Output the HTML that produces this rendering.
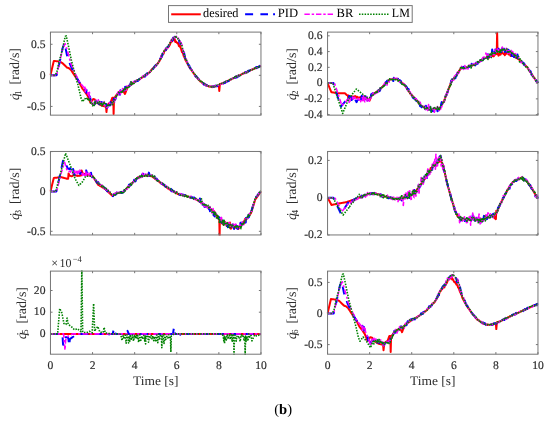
<!DOCTYPE html>
<html><head><meta charset="utf-8"><title>Joint velocities</title><style>html,body{margin:0;padding:0;background:#fff;width:550px;height:424px;overflow:hidden}svg{display:block;filter:blur(0.35px)}text{text-rendering:geometricPrecision}</style></head><body>
<svg width="550" height="424" viewBox="0 0 550 424">
<rect x="0" y="0" width="550" height="424" fill="#ffffff"/>
<defs>
<clipPath id="clip_q1"><rect x="49.46" y="31.60" width="212.50" height="84.05"/></clipPath>
<clipPath id="clip_q2"><rect x="326.56" y="31.60" width="212.40" height="84.05"/></clipPath>
<clipPath id="clip_q3"><rect x="49.46" y="150.96" width="212.50" height="84.49"/></clipPath>
<clipPath id="clip_q4"><rect x="326.56" y="150.96" width="212.40" height="84.49"/></clipPath>
<clipPath id="clip_q5"><rect x="49.46" y="270.60" width="212.50" height="84.10"/></clipPath>
<clipPath id="clip_q6"><rect x="326.56" y="270.60" width="212.40" height="84.10"/></clipPath>
</defs>
<path d="M50.46,75.35 L50.99,73.10 L51.51,70.84 L52.04,68.59 L52.56,66.34 L53.09,64.09 L53.62,61.83 L53.83,60.93 L54.14,60.96 L54.67,61.02 L55.20,61.07 L55.72,61.13 L56.25,61.18 L56.77,61.24 L57.30,61.29 L57.41,61.30 L57.83,61.39 L58.35,61.50 L58.88,61.61 L59.41,61.73 L59.93,61.84 L60.35,61.93 L60.46,61.98 L60.98,62.26 L61.51,62.53 L62.04,62.81 L62.25,62.92 L62.56,63.23 L63.09,63.74 L63.62,64.26 L64.14,64.78 L64.67,65.29 L65.19,65.81 L65.72,66.32 L66.25,66.84 L66.77,67.35 L66.88,67.46 L67.30,67.62 L67.83,67.81 L68.35,68.01 L68.88,68.21 L69.19,68.33 L69.41,68.52 L69.93,69.00 L70.46,69.49 L70.98,69.97 L71.09,70.07 L71.51,70.72 L72.04,71.53 L72.56,72.34 L73.09,73.15 L73.61,73.97 L74.14,74.78 L74.67,75.59 L75.19,76.40 L75.72,77.21 L75.72,77.21 L76.25,77.94 L76.77,78.66 L77.30,79.39 L77.83,80.11 L78.35,80.84 L78.88,81.56 L79.40,82.63 L79.93,83.70 L80.46,84.77 L80.98,85.84 L81.51,86.91 L82.03,87.97 L82.25,88.40 L82.56,88.80 L83.09,89.45 L83.61,90.11 L84.14,90.77 L84.67,91.43 L84.98,91.82 L85.19,92.13 L85.72,92.91 L86.25,93.68 L86.77,94.46 L87.30,95.24 L87.72,95.86 L87.82,96.12 L88.35,97.44 L88.88,98.75 L89.40,100.07 L89.93,101.38 L90.45,102.70 L90.45,102.70 L90.98,101.98 L91.51,101.26 L92.03,100.54 L92.56,99.83 L93.09,99.11 L93.19,98.97 L93.61,99.11 L94.14,99.28 L94.66,99.45 L95.09,99.59 L95.19,99.78 L95.72,100.75 L96.24,101.72 L96.77,102.70 L97.30,103.01 L97.82,103.33 L98.35,103.65 L98.88,103.97 L99.40,104.29 L99.93,104.60 L100.45,104.92 L100.98,105.24 L101.40,105.49 L101.51,105.52 L102.03,105.66 L102.56,105.79 L103.08,105.93 L103.61,106.07 L104.14,106.21 L104.66,106.34 L104.98,106.42 L105.19,106.42 L105.72,106.42 L106.03,106.42 L106.24,109.22 L106.45,112.02 L106.77,109.22 L107.08,106.42 L107.29,105.80 L107.72,104.56 L107.82,104.49 L108.35,104.13 L108.87,103.77 L109.40,103.41 L109.93,103.05 L110.45,102.70 L110.98,101.31 L111.50,99.93 L112.03,98.55 L112.35,97.72 L112.56,97.72 L113.08,97.72 L113.29,97.72 L113.61,113.88 L114.03,98.35 L114.14,98.21 L114.66,97.52 L115.19,96.83 L115.72,96.14 L115.93,95.86 L116.24,95.43 L116.77,94.71 L117.29,93.99 L117.82,93.28 L118.35,92.56 L118.66,92.13 L118.87,92.07 L119.40,91.93 L119.93,91.79 L120.45,91.65 L120.98,91.51 L121.50,91.37 L122.03,91.23 L122.56,91.09 L123.08,90.94 L123.29,90.89 L123.61,91.47 L124.13,92.44 L124.66,93.41 L124.98,93.99 L125.19,93.45 L125.71,92.07 L126.24,90.70 L126.77,89.32 L127.29,87.95 L127.71,86.85 L127.82,86.77 L128.34,86.41 L128.87,86.04 L129.40,85.67 L129.92,85.31 L130.45,84.94 L130.98,84.57 L131.50,84.20 L132.03,83.84 L132.34,83.62 L132.56,83.45 L133.08,83.04 L133.61,82.63 L134.13,82.22 L134.66,81.81 L135.19,81.54 L135.71,81.27 L136.24,80.99 L136.76,80.72 L137.29,80.44 L137.82,80.17 L138.34,79.90 L138.87,79.62 L139.08,79.51 L139.40,79.31 L139.92,78.96 L140.45,78.62 L140.97,78.28 L141.50,77.93 L142.03,77.59 L142.55,77.25 L143.08,76.90 L143.61,76.53 L144.13,76.15 L144.66,75.77 L145.19,75.40 L145.71,75.02 L146.24,74.64 L146.76,74.27 L147.29,73.89 L147.82,73.51 L148.34,73.14 L148.87,72.76 L149.39,72.38 L149.92,72.01 L150.03,71.93 L150.45,71.35 L150.97,70.61 L151.50,69.88 L151.50,69.88 L152.03,69.35 L152.55,68.82 L153.08,68.30 L153.61,67.77 L154.13,67.24 L154.66,66.71 L155.18,66.18 L155.71,65.65 L156.24,65.13 L156.76,64.60 L157.29,64.07 L157.81,63.54 L157.81,63.54 L158.34,62.65 L158.87,61.77 L159.39,60.88 L159.92,59.99 L160.45,59.10 L160.76,58.57 L160.97,58.14 L161.50,57.07 L162.03,55.79 L162.55,54.43 L163.08,53.66 L163.60,53.61 L164.13,51.73 L164.66,50.58 L165.18,50.27 L165.71,50.29 L166.23,49.00 L166.76,48.55 L167.29,48.00 L167.81,47.57 L168.34,46.66 L168.55,46.76 L168.87,46.65 L169.39,45.33 L169.92,44.57 L170.44,42.95 L170.97,42.34 L171.29,41.79 L171.50,41.72 L172.02,41.40 L172.55,40.46 L173.08,39.67 L173.39,39.30 L173.60,39.58 L174.13,38.86 L174.65,39.30 L175.18,41.87 L175.29,40.24 L175.71,42.00 L176.23,41.68 L176.76,42.58 L177.29,42.93 L177.81,43.67 L178.34,43.23 L178.87,45.98 L179.39,46.27 L179.92,45.50 L180.13,47.07 L180.44,47.37 L180.97,48.52 L181.50,50.42 L182.02,52.29 L182.55,52.33 L183.07,53.60 L183.07,53.53 L183.60,55.77 L184.13,56.85 L184.65,57.88 L185.18,59.25 L185.39,59.81 L185.71,60.40 L186.23,61.37 L186.76,62.34 L187.28,63.31 L187.81,64.28 L188.34,65.25 L188.86,66.22 L189.39,67.19 L189.60,67.58 L189.92,68.03 L190.44,68.78 L190.97,69.53 L191.50,70.27 L192.02,71.02 L192.55,71.77 L193.07,72.52 L193.60,73.27 L194.13,74.01 L194.65,74.76 L195.18,75.51 L195.28,75.66 L195.70,76.14 L196.23,76.74 L196.76,77.34 L197.28,77.94 L197.81,78.54 L198.34,79.38 L198.86,79.77 L199.39,80.32 L199.91,80.94 L199.91,80.93 L200.44,81.48 L200.97,81.62 L201.49,81.96 L202.02,82.51 L202.55,83.20 L203.07,83.23 L203.49,83.74 L203.60,83.92 L204.12,83.85 L204.65,84.60 L205.18,84.38 L205.70,84.88 L206.23,85.46 L206.76,85.49 L207.28,85.67 L207.81,85.89 L208.33,86.23 L208.86,86.54 L209.39,86.64 L209.91,86.39 L210.44,86.62 L210.97,86.52 L211.49,86.46 L212.02,87.13 L212.54,86.73 L212.97,86.85 L213.07,86.52 L213.60,86.76 L214.12,86.75 L214.65,86.23 L215.18,86.22 L215.70,85.92 L216.23,86.10 L216.75,86.24 L217.28,85.77 L217.81,85.60 L218.33,85.72 L218.86,85.60 L219.28,90.89 L219.39,89.75 L219.91,84.05 L220.44,83.90 L220.96,83.76 L221.49,83.61 L222.02,83.46 L222.54,83.32 L223.07,83.17 L223.60,83.02 L223.70,82.99 L224.12,82.78 L224.65,82.52 L225.17,82.26 L225.70,81.99 L226.23,81.73 L226.75,81.47 L227.28,81.20 L227.81,80.94 L228.33,80.67 L228.86,80.41 L229.38,80.15 L229.91,79.88 L230.44,79.62 L230.96,79.36 L231.49,79.09 L232.02,78.83 L232.54,78.57 L233.07,78.30 L233.59,78.04 L234.12,77.78 L234.65,77.51 L235.17,77.25 L235.49,77.09 L235.70,77.00 L236.23,76.76 L236.75,76.52 L237.28,76.29 L237.80,76.05 L238.33,75.82 L238.86,75.58 L239.38,75.35 L239.91,75.11 L240.44,74.87 L240.96,74.64 L241.49,74.40 L242.01,74.17 L242.54,73.93 L243.07,73.69 L243.59,73.46 L244.12,73.22 L244.65,72.99 L245.17,72.75 L245.70,72.51 L246.22,72.28 L246.75,72.04 L247.28,71.81 L247.80,71.57 L248.33,71.34 L248.86,71.10 L249.38,70.86 L249.91,70.63 L250.43,70.39 L250.96,70.16 L251.49,69.92 L252.01,69.68 L252.54,69.45 L253.07,69.21 L253.59,68.98 L254.12,68.74 L254.65,68.51 L255.17,68.27 L255.70,68.03 L256.22,67.80 L256.75,67.56 L257.28,67.33 L257.80,67.09 L258.33,66.85 L258.85,66.62 L259.07,66.52 L259.38,66.42 L259.91,66.25 L260.43,66.08 L260.96,65.90" fill="none" stroke="#ff0000" stroke-width="2.0" stroke-linejoin="round" clip-path="url(#clip_q1)"/>
<path d="M50.46,75.35 L50.99,75.35 L51.51,75.35 L52.04,75.35 L52.56,75.35 L53.09,75.35 L53.62,75.35 L54.14,75.35 L54.67,75.35 L55.20,75.35 L55.72,75.35 L56.25,75.35 L56.56,75.35 L56.77,74.46 L57.30,72.22 L57.83,69.98 L58.35,67.74 L58.88,65.51 L59.41,63.27 L59.72,61.93 L59.93,60.93 L60.46,58.45 L60.98,55.96 L61.51,53.47 L62.04,50.99 L62.56,48.50 L62.67,48.00 L63.09,46.90 L63.62,45.52 L64.14,44.14 L64.56,43.03 L64.67,43.57 L65.19,46.25 L65.72,48.94 L66.25,51.62 L66.77,54.30 L66.88,54.84 L67.30,56.08 L67.83,57.64 L68.35,59.19 L68.88,60.74 L69.41,62.30 L69.93,63.85 L70.46,65.41 L70.46,65.41 L70.98,66.50 L71.51,67.60 L72.04,68.70 L72.56,69.79 L73.09,70.89 L73.61,71.99 L74.04,72.86 L74.14,73.05 L74.67,74.00 L75.19,74.94 L75.72,75.89 L76.25,76.84 L76.77,77.78 L77.30,78.73 L77.83,79.67 L78.35,80.62 L78.88,81.56 L79.40,82.29 L79.93,83.02 L80.46,83.74 L80.98,84.47 L81.51,85.19 L82.03,85.92 L82.56,86.39 L83.09,86.87 L83.61,87.35 L84.14,87.82 L84.67,88.09 L84.98,88.59 L85.19,89.40 L85.72,89.84 L86.25,92.67 L86.77,88.48 L87.30,89.78 L87.72,91.51 L87.82,92.16 L88.35,92.36 L88.88,94.35 L89.40,96.72 L89.93,96.44 L90.45,98.97 L90.45,99.31 L90.98,100.59 L91.51,102.36 L92.03,102.22 L92.56,104.10 L93.09,104.63 L93.19,105.49 L93.61,105.55 L94.14,103.95 L94.66,104.32 L95.19,101.60 L95.72,101.55 L95.93,101.45 L96.24,101.15 L96.77,101.19 L97.30,102.89 L97.82,101.01 L98.35,99.70 L98.66,102.07 L98.88,104.00 L99.40,104.34 L99.93,104.33 L100.45,101.95 L100.98,102.98 L101.40,103.32 L101.51,102.09 L102.03,102.37 L102.56,102.82 L103.08,102.62 L103.61,103.01 L104.14,102.70 L104.14,101.72 L104.66,104.80 L105.19,104.84 L105.72,104.93 L106.24,104.03 L106.77,107.73 L106.87,107.05 L107.29,107.68 L107.82,106.39 L108.35,103.95 L108.87,104.58 L109.40,102.12 L109.61,103.32 L109.93,105.48 L110.45,102.25 L110.98,102.47 L111.50,105.33 L112.03,103.70 L112.35,103.94 L112.56,102.24 L113.08,102.67 L113.61,100.81 L114.14,98.44 L114.66,99.95 L115.08,99.59 L115.19,99.59 L115.72,98.59 L116.24,95.45 L116.77,94.84 L117.19,93.37 L117.29,93.52 L117.82,93.15 L118.35,92.02 L118.87,93.66 L119.40,93.90 L119.93,94.63 L120.45,90.28 L120.98,91.26 L121.50,89.37 L121.82,90.89 L122.03,90.75 L122.56,91.22 L123.08,89.49 L123.61,89.75 L124.13,90.71 L124.56,89.02 L124.66,89.97 L125.19,86.76 L125.71,88.10 L126.24,87.79 L126.77,88.33 L127.29,87.78 L127.29,88.55 L127.82,86.13 L128.34,86.59 L128.87,86.67 L129.40,85.32 L129.92,85.53 L130.45,83.86 L130.45,83.65 L130.98,82.31 L131.50,84.22 L132.03,81.40 L132.56,83.46 L133.08,82.26 L133.61,83.08 L134.13,82.10 L134.66,81.56 L135.19,81.30 L135.71,81.29 L136.24,81.18 L136.76,80.93 L137.29,80.75 L137.82,80.88 L138.34,79.99 L138.87,79.41 L139.08,79.51 L139.40,78.86 L139.92,78.64 L140.45,77.40 L140.97,78.12 L141.50,78.16 L142.03,76.66 L142.55,77.77 L143.08,76.90 L143.61,76.05 L144.13,76.63 L144.66,75.60 L145.19,76.38 L145.71,74.57 L146.24,74.72 L146.76,74.75 L147.29,73.06 L147.82,73.13 L148.34,73.11 L148.87,73.13 L149.39,72.41 L149.92,72.09 L150.03,71.93 L150.45,70.99 L150.97,70.22 L151.50,69.88 L151.50,70.21 L152.03,69.63 L152.55,69.09 L153.08,68.97 L153.61,68.06 L154.13,67.29 L154.66,66.37 L155.18,65.53 L155.71,66.06 L156.24,64.85 L156.76,64.82 L157.29,63.04 L157.81,63.54 L157.81,63.57 L158.34,62.29 L158.87,62.01 L159.39,60.95 L159.92,59.55 L160.45,58.38 L160.76,57.95 L160.97,57.81 L161.50,56.10 L162.03,56.53 L162.55,53.62 L163.08,53.76 L163.60,50.53 L164.13,50.80 L164.66,50.44 L165.18,48.73 L165.71,50.15 L166.23,48.09 L166.76,48.56 L167.29,47.64 L167.81,46.64 L168.34,46.32 L168.55,45.83 L168.87,44.97 L169.39,43.50 L169.92,42.50 L170.44,42.03 L170.97,41.98 L171.29,40.24 L171.50,40.67 L172.02,39.63 L172.55,40.64 L173.08,37.78 L173.39,38.06 L173.60,38.18 L174.13,38.00 L174.65,36.84 L175.18,36.88 L175.71,37.05 L176.23,37.85 L176.34,37.00 L176.76,37.25 L177.29,37.84 L177.81,39.46 L178.34,38.52 L178.87,39.58 L179.08,40.24 L179.39,42.47 L179.92,41.86 L180.44,44.05 L180.97,43.19 L181.50,44.53 L181.81,45.83 L182.02,47.47 L182.55,49.17 L183.07,50.24 L183.60,52.39 L184.13,52.84 L184.65,55.35 L185.18,58.05 L185.39,58.57 L185.71,58.73 L186.23,61.89 L186.76,61.05 L187.28,61.65 L187.81,63.54 L188.34,65.02 L188.86,65.03 L189.39,65.81 L189.60,66.96 L189.92,67.35 L190.44,68.62 L190.97,68.44 L191.50,70.46 L192.02,70.35 L192.55,71.53 L193.07,71.74 L193.60,73.18 L194.13,73.15 L194.65,74.31 L195.18,75.84 L195.28,75.35 L195.70,76.57 L196.23,76.56 L196.76,76.57 L197.28,77.61 L197.81,78.24 L198.34,78.96 L198.86,79.20 L199.39,79.95 L199.91,80.69 L199.91,80.59 L200.44,81.49 L200.97,81.11 L201.49,81.48 L202.02,82.90 L202.55,81.98 L203.07,83.00 L203.49,83.62 L203.60,83.85 L204.12,84.63 L204.65,83.94 L205.18,84.23 L205.70,84.92 L206.23,85.62 L206.76,84.79 L207.28,85.68 L207.81,85.90 L208.33,85.98 L208.86,84.99 L209.39,85.33 L209.91,85.83 L210.44,86.43 L210.97,86.09 L211.49,87.25 L212.02,86.43 L212.54,86.83 L212.97,86.60 L213.07,87.05 L213.60,87.04 L214.12,86.12 L214.65,86.16 L215.18,86.00 L215.70,85.62 L216.23,86.12 L216.75,86.14 L217.28,86.21 L217.81,85.42 L218.33,85.33 L218.86,84.70 L219.39,84.82 L219.91,84.31 L220.44,84.78 L220.96,84.29 L221.49,84.19 L222.02,84.15 L222.54,82.78 L223.07,82.94 L223.60,83.32 L223.70,82.99 L224.12,83.07 L224.65,82.54 L225.17,82.79 L225.70,81.83 L226.23,82.21 L226.75,81.60 L227.28,81.58 L227.81,81.12 L228.33,81.17 L228.86,81.00 L229.38,80.51 L229.91,80.14 L230.44,79.73 L230.96,79.33 L231.49,78.52 L232.02,78.53 L232.54,78.66 L233.07,78.03 L233.59,78.30 L234.12,77.24 L234.65,77.31 L235.17,77.75 L235.49,77.09 L235.70,76.71 L236.23,76.46 L236.75,77.53 L237.28,76.57 L237.80,76.23 L238.33,76.54 L238.86,75.98 L239.38,75.70 L239.91,74.92 L240.44,74.76 L240.96,73.66 L241.49,74.55 L242.01,73.74 L242.54,73.90 L243.07,73.59 L243.59,73.89 L244.12,73.94 L244.65,73.27 L245.17,72.47 L245.70,71.92 L246.22,72.05 L246.75,71.86 L247.28,71.81 L247.80,71.88 L248.33,70.76 L248.86,70.60 L249.38,71.06 L249.91,70.65 L250.43,70.76 L250.96,69.61 L251.49,69.77 L252.01,69.72 L252.54,69.30 L253.07,69.05 L253.59,69.13 L254.12,69.20 L254.65,68.98 L255.17,68.92 L255.70,67.86 L256.22,66.97 L256.75,68.20 L257.28,67.27 L257.80,66.94 L258.33,67.22 L258.85,66.54 L259.07,66.52 L259.38,66.83 L259.91,65.80 L260.43,66.30 L260.96,65.90" fill="none" stroke="#0000ff" stroke-width="2.0" stroke-dasharray="8 7" stroke-linejoin="round" clip-path="url(#clip_q1)"/>
<path d="M50.46,75.35 L50.99,75.35 L51.51,75.35 L52.04,75.35 L52.56,75.35 L53.09,75.35 L53.62,75.35 L54.14,75.35 L54.67,75.35 L55.20,75.35 L55.72,75.35 L56.25,75.35 L56.56,75.35 L56.77,74.46 L57.30,72.22 L57.83,69.98 L58.35,67.74 L58.88,65.51 L59.41,63.27 L59.72,61.93 L59.93,61.00 L60.46,58.68 L60.98,56.36 L61.51,54.04 L62.04,51.72 L62.56,49.40 L62.67,48.94 L63.09,48.06 L63.62,46.96 L64.14,45.85 L64.67,44.75 L65.19,43.65 L65.19,43.65 L65.72,45.35 L66.25,47.04 L66.77,48.74 L67.30,50.43 L67.51,51.11 L67.83,52.26 L68.35,54.18 L68.88,56.10 L69.41,58.02 L69.93,59.94 L70.46,61.86 L70.98,63.78 L71.09,64.16 L71.51,65.12 L72.04,66.32 L72.56,67.52 L73.09,68.73 L73.61,69.93 L74.14,71.13 L74.67,72.33 L75.19,73.53 L75.72,74.73 L75.72,74.73 L76.25,75.74 L76.77,76.75 L77.30,77.76 L77.83,78.77 L78.35,79.78 L78.88,80.79 L79.40,81.80 L79.93,82.81 L79.93,82.81 L80.46,83.41 L80.98,84.01 L81.51,84.61 L82.03,85.22 L82.56,85.82 L83.09,86.42 L83.61,87.02 L84.14,87.62 L84.67,85.94 L84.98,88.59 L85.19,91.67 L85.72,88.91 L86.25,90.57 L86.77,91.00 L87.30,91.30 L87.72,91.51 L87.82,94.06 L88.35,93.49 L88.88,95.63 L89.40,92.38 L89.93,97.28 L90.45,98.97 L90.45,99.36 L90.98,100.54 L91.51,102.22 L92.03,103.91 L92.56,104.42 L93.09,104.70 L93.19,105.49 L93.61,105.14 L94.14,103.02 L94.66,103.54 L95.19,102.51 L95.72,100.03 L95.93,101.45 L96.24,100.91 L96.77,102.21 L97.30,101.97 L97.82,101.28 L98.35,99.84 L98.66,102.07 L98.88,102.47 L99.40,102.68 L99.93,101.53 L100.45,103.88 L100.98,103.45 L101.40,103.32 L101.51,102.31 L102.03,102.52 L102.56,102.95 L103.08,102.19 L103.61,105.98 L104.14,102.70 L104.14,101.55 L104.66,104.61 L105.19,106.24 L105.72,104.90 L106.24,105.26 L106.77,107.38 L106.87,107.05 L107.29,107.68 L107.82,105.73 L108.35,105.10 L108.87,102.75 L109.40,102.77 L109.61,103.32 L109.93,103.17 L110.45,102.27 L110.98,103.86 L111.50,104.78 L112.03,103.21 L112.35,103.94 L112.56,102.95 L113.08,103.01 L113.61,102.81 L114.14,100.84 L114.66,103.05 L115.08,99.59 L115.19,98.51 L115.72,97.17 L116.24,98.00 L116.77,94.55 L117.19,93.37 L117.29,94.40 L117.82,92.19 L118.35,95.03 L118.87,93.49 L119.40,91.39 L119.93,90.61 L120.45,94.04 L120.98,91.90 L121.50,90.69 L121.82,90.89 L122.03,91.43 L122.56,88.61 L123.08,91.36 L123.61,89.27 L124.13,90.48 L124.56,89.02 L124.66,87.40 L125.19,88.76 L125.71,88.91 L126.24,90.18 L126.77,86.14 L127.29,87.78 L127.29,86.94 L127.82,86.28 L128.34,85.20 L128.87,85.43 L129.40,85.88 L129.92,85.41 L130.45,83.86 L130.45,84.76 L130.98,82.04 L131.50,84.92 L132.03,83.67 L132.56,83.07 L133.08,82.18 L133.61,81.50 L134.13,83.25 L134.66,81.56 L135.19,82.18 L135.71,81.08 L136.24,80.23 L136.76,80.21 L137.29,80.24 L137.82,80.26 L138.34,79.71 L138.87,79.73 L139.08,79.51 L139.40,78.90 L139.92,79.36 L140.45,78.55 L140.97,78.33 L141.50,77.66 L142.03,77.48 L142.55,75.98 L143.08,76.90 L143.61,75.78 L144.13,75.41 L144.66,76.79 L145.19,75.57 L145.71,75.32 L146.24,74.38 L146.76,75.40 L147.29,73.31 L147.82,72.98 L148.34,73.78 L148.87,73.25 L149.39,72.78 L149.92,71.99 L150.03,71.93 L150.45,71.03 L150.97,69.60 L151.50,69.88 L151.50,69.98 L152.03,68.97 L152.55,68.75 L153.08,67.42 L153.61,67.40 L154.13,66.56 L154.66,67.25 L155.18,66.28 L155.71,66.06 L156.24,64.38 L156.76,64.27 L157.29,64.22 L157.81,63.54 L157.81,63.77 L158.34,62.30 L158.87,61.89 L159.39,61.01 L159.92,59.55 L160.45,58.16 L160.76,57.95 L160.97,55.51 L161.50,56.58 L162.03,55.72 L162.55,55.10 L163.08,54.11 L163.60,51.49 L164.13,50.80 L164.66,49.52 L165.18,49.61 L165.71,48.76 L166.23,48.34 L166.76,47.73 L167.29,48.48 L167.81,47.03 L168.34,45.98 L168.55,45.83 L168.87,45.82 L169.39,44.49 L169.92,43.69 L170.44,42.23 L170.97,40.19 L171.29,40.24 L171.50,40.35 L172.02,39.60 L172.55,38.27 L173.08,37.87 L173.39,38.06 L173.60,36.61 L174.13,39.48 L174.65,36.91 L175.18,37.81 L175.71,37.12 L176.23,36.36 L176.34,37.00 L176.76,36.63 L177.29,37.28 L177.81,38.62 L178.34,38.06 L178.87,40.22 L179.08,40.24 L179.39,40.99 L179.92,41.31 L180.44,43.48 L180.97,42.36 L181.50,44.36 L181.81,45.83 L182.02,44.82 L182.55,48.47 L183.07,50.64 L183.60,52.06 L184.13,53.48 L184.65,56.42 L185.18,57.51 L185.39,58.57 L185.71,59.21 L186.23,58.94 L186.76,61.83 L187.28,61.50 L187.81,63.91 L188.34,65.22 L188.86,66.07 L189.39,66.98 L189.60,66.96 L189.92,67.37 L190.44,67.82 L190.97,68.92 L191.50,69.52 L192.02,69.92 L192.55,71.21 L193.07,72.01 L193.60,72.97 L194.13,74.24 L194.65,74.13 L195.18,75.85 L195.28,75.35 L195.70,75.59 L196.23,76.45 L196.76,76.63 L197.28,77.68 L197.81,78.57 L198.34,78.74 L198.86,79.69 L199.39,80.16 L199.91,80.69 L199.91,80.68 L200.44,81.17 L200.97,81.62 L201.49,82.29 L202.02,82.48 L202.55,83.64 L203.07,83.33 L203.49,83.62 L203.60,84.11 L204.12,83.51 L204.65,83.71 L205.18,85.16 L205.70,84.64 L206.23,85.00 L206.76,85.60 L207.28,85.27 L207.81,85.89 L208.33,85.98 L208.86,86.71 L209.39,86.22 L209.91,86.24 L210.44,86.22 L210.97,86.79 L211.49,86.17 L212.02,86.20 L212.54,86.97 L212.97,86.60 L213.07,86.82 L213.60,86.48 L214.12,86.53 L214.65,85.54 L215.18,85.98 L215.70,86.31 L216.23,86.10 L216.75,85.70 L217.28,84.69 L217.81,85.42 L218.33,85.27 L218.86,84.94 L219.39,84.58 L219.91,84.57 L220.44,83.49 L220.96,84.32 L221.49,83.63 L222.02,83.63 L222.54,83.24 L223.07,83.69 L223.60,82.38 L223.70,82.99 L224.12,82.83 L224.65,82.51 L225.17,82.61 L225.70,82.26 L226.23,81.52 L226.75,81.10 L227.28,80.92 L227.81,80.49 L228.33,80.41 L228.86,80.40 L229.38,79.84 L229.91,79.66 L230.44,79.66 L230.96,79.09 L231.49,78.61 L232.02,78.74 L232.54,78.70 L233.07,78.03 L233.59,77.33 L234.12,77.85 L234.65,77.55 L235.17,77.30 L235.49,77.09 L235.70,76.54 L236.23,77.45 L236.75,76.39 L237.28,75.84 L237.80,76.36 L238.33,75.26 L238.86,75.38 L239.38,75.55 L239.91,75.03 L240.44,75.45 L240.96,74.85 L241.49,73.72 L242.01,74.50 L242.54,73.24 L243.07,73.72 L243.59,73.09 L244.12,73.21 L244.65,73.82 L245.17,72.96 L245.70,72.44 L246.22,72.71 L246.75,72.55 L247.28,71.81 L247.80,71.44 L248.33,71.58 L248.86,71.73 L249.38,71.12 L249.91,70.31 L250.43,70.57 L250.96,69.81 L251.49,69.35 L252.01,69.67 L252.54,69.87 L253.07,69.70 L253.59,68.99 L254.12,68.41 L254.65,68.41 L255.17,68.07 L255.70,68.20 L256.22,67.69 L256.75,67.74 L257.28,67.45 L257.80,67.57 L258.33,67.44 L258.85,66.80 L259.07,66.52 L259.38,66.83 L259.91,66.61 L260.43,65.83 L260.96,65.90" fill="none" stroke="#ff00ff" stroke-width="1.6" stroke-dasharray="5.2 2.2 2.2 2.2" stroke-linejoin="round" clip-path="url(#clip_q1)"/>
<path d="M50.46,75.35 L50.99,75.35 L51.51,75.35 L52.04,75.35 L52.56,75.35 L53.09,75.35 L53.62,75.35 L54.14,75.35 L54.67,75.35 L54.88,75.35 L55.20,74.87 L55.72,74.08 L56.25,73.29 L56.77,72.49 L56.77,72.49 L57.30,70.04 L57.83,67.60 L58.35,65.15 L58.88,62.70 L59.30,60.74 L59.41,60.37 L59.93,58.47 L60.46,56.57 L60.98,54.67 L61.51,52.77 L62.04,50.88 L62.25,50.12 L62.56,48.66 L63.09,46.23 L63.62,43.80 L64.14,41.37 L64.67,38.94 L65.19,36.51 L65.19,36.51 L65.72,36.20 L66.25,35.88 L66.77,38.30 L67.30,40.72 L67.83,43.13 L68.35,45.55 L68.56,46.51 L68.88,48.04 L69.41,50.58 L69.93,53.12 L70.46,55.66 L70.98,58.20 L71.51,60.74 L72.04,62.80 L72.56,64.86 L73.09,66.91 L73.61,68.97 L74.14,71.03 L74.67,73.08 L75.09,74.73 L75.19,75.10 L75.72,76.95 L76.25,78.81 L76.77,80.66 L77.30,82.51 L77.83,84.37 L78.04,85.11 L78.35,86.47 L78.88,88.73 L79.40,90.99 L79.93,93.25 L80.46,95.52 L80.98,97.78 L81.40,99.59 L81.51,99.74 L82.03,100.49 L82.56,101.25 L82.88,101.70 L83.09,101.26 L83.61,100.15 L84.14,99.04 L84.35,98.59 L84.67,98.65 L85.19,98.75 L85.72,98.85 L86.25,99.56 L86.77,99.21 L87.30,97.60 L87.82,98.64 L88.35,100.88 L88.88,99.45 L89.40,100.13 L89.61,99.59 L89.93,100.12 L90.45,102.86 L90.98,102.25 L91.51,103.36 L92.03,103.22 L92.56,105.80 L93.09,104.93 L93.61,104.16 L94.14,105.45 L94.66,101.37 L95.19,104.68 L95.72,101.28 L95.93,102.07 L96.24,102.45 L96.77,103.09 L97.30,103.00 L97.82,103.13 L98.35,102.27 L98.66,102.70 L98.88,102.89 L99.40,101.65 L99.93,104.98 L100.45,103.51 L100.98,104.58 L101.40,103.94 L101.51,103.19 L102.03,105.77 L102.56,104.00 L103.08,103.36 L103.61,104.82 L104.14,103.32 L104.14,102.40 L104.66,103.75 L105.19,103.57 L105.72,104.22 L106.24,106.62 L106.77,107.05 L106.87,106.42 L107.29,106.23 L107.82,104.87 L108.35,104.29 L108.87,105.27 L109.40,104.70 L109.61,103.94 L109.93,104.75 L110.45,104.67 L110.98,104.47 L111.50,104.49 L112.03,102.57 L112.35,104.56 L112.56,104.60 L113.08,103.32 L113.61,101.55 L114.14,101.79 L114.66,100.17 L115.08,98.97 L115.19,98.74 L115.72,96.95 L116.24,97.83 L116.77,94.25 L117.29,94.78 L117.82,93.37 L118.35,92.97 L118.87,92.09 L119.40,92.02 L119.93,91.40 L120.45,91.99 L120.98,91.92 L121.50,91.36 L121.82,91.51 L122.03,92.29 L122.56,89.88 L123.08,91.37 L123.61,91.46 L124.13,88.01 L124.56,89.64 L124.66,89.70 L125.19,90.31 L125.71,87.13 L126.24,88.80 L126.77,87.15 L127.29,87.78 L127.29,88.55 L127.82,87.49 L128.34,88.32 L128.87,88.01 L129.40,86.62 L129.92,85.26 L130.45,83.93 L130.98,81.89 L131.08,84.05 L131.50,84.72 L132.03,82.45 L132.56,83.59 L133.08,82.80 L133.61,83.68 L134.13,83.31 L134.66,81.56 L135.19,81.61 L135.71,81.52 L136.24,80.83 L136.76,80.85 L137.29,79.88 L137.82,80.04 L138.34,79.79 L138.87,79.19 L139.08,79.51 L139.40,79.11 L139.92,78.98 L140.45,78.65 L140.97,78.32 L141.50,77.53 L142.03,77.30 L142.55,77.11 L143.08,76.90 L143.61,76.23 L144.13,76.35 L144.66,75.58 L145.19,75.92 L145.71,74.52 L146.24,74.61 L146.76,74.20 L147.29,73.67 L147.82,73.52 L148.34,73.23 L148.87,72.32 L149.39,72.34 L149.92,72.35 L150.03,71.93 L150.45,71.18 L150.97,71.25 L151.50,69.88 L151.50,69.26 L152.03,69.42 L152.55,68.81 L153.08,67.45 L153.61,66.97 L154.13,67.20 L154.66,66.48 L155.18,65.78 L155.71,65.03 L156.24,65.18 L156.76,64.55 L157.29,63.61 L157.81,63.54 L157.81,63.44 L158.34,62.26 L158.87,61.32 L159.39,60.97 L159.92,59.87 L160.45,59.53 L160.76,57.95 L160.97,57.60 L161.50,55.89 L162.03,55.68 L162.55,53.69 L163.08,52.66 L163.60,51.94 L164.13,50.80 L164.66,50.21 L165.18,49.59 L165.71,49.35 L166.23,48.54 L166.76,47.86 L167.29,47.02 L167.81,46.36 L168.34,46.34 L168.55,45.83 L168.87,44.88 L169.39,44.40 L169.92,43.09 L170.44,41.82 L170.97,40.89 L171.29,40.24 L171.50,40.07 L172.02,39.37 L172.55,39.14 L173.08,38.63 L173.39,38.06 L173.60,38.06 L174.13,37.44 L174.65,37.65 L175.18,36.71 L175.71,37.15 L176.23,38.15 L176.34,37.00 L176.76,37.66 L177.29,37.50 L177.81,38.74 L178.34,39.53 L178.87,40.31 L179.08,40.24 L179.39,40.39 L179.92,41.58 L180.44,42.78 L180.97,43.95 L181.50,44.65 L181.81,45.83 L182.02,46.27 L182.55,48.91 L183.07,50.04 L183.60,52.14 L184.13,54.11 L184.65,55.66 L185.18,57.81 L185.39,58.57 L185.71,60.29 L186.23,59.67 L186.76,60.91 L187.28,62.39 L187.81,63.53 L188.34,64.36 L188.86,65.97 L189.39,66.43 L189.60,66.96 L189.92,67.51 L190.44,68.33 L190.97,69.32 L191.50,70.01 L192.02,70.12 L192.55,70.81 L193.07,71.90 L193.60,72.88 L194.13,73.97 L194.65,74.15 L195.18,74.59 L195.28,75.35 L195.70,76.44 L196.23,76.01 L196.76,77.86 L197.28,77.78 L197.81,78.12 L198.34,79.38 L198.86,80.05 L199.39,80.02 L199.91,80.69 L199.91,80.37 L200.44,81.30 L200.97,81.05 L201.49,82.27 L202.02,81.76 L202.55,82.80 L203.07,83.18 L203.49,83.62 L203.60,83.44 L204.12,83.80 L204.65,83.49 L205.18,83.61 L205.70,84.49 L206.23,85.01 L206.76,85.65 L207.28,85.75 L207.81,85.72 L208.33,85.98 L208.86,86.09 L209.39,86.14 L209.91,86.19 L210.44,86.08 L210.97,86.83 L211.49,86.78 L212.02,86.05 L212.54,86.23 L212.97,86.60 L213.07,86.77 L213.60,85.96 L214.12,86.57 L214.65,86.28 L215.18,86.74 L215.70,85.62 L216.23,85.81 L216.75,85.28 L217.28,85.28 L217.81,85.42 L218.33,85.16 L218.86,84.92 L219.39,84.32 L219.91,84.61 L220.44,84.39 L220.96,84.09 L221.49,83.60 L222.02,83.34 L222.54,82.75 L223.07,83.28 L223.60,82.56 L223.70,82.99 L224.12,83.02 L224.65,82.28 L225.17,82.20 L225.70,81.33 L226.23,81.49 L226.75,81.62 L227.28,80.97 L227.81,80.79 L228.33,80.78 L228.86,80.50 L229.38,80.48 L229.91,78.84 L230.44,79.55 L230.96,78.98 L231.49,79.51 L232.02,79.22 L232.54,78.60 L233.07,78.34 L233.59,77.72 L234.12,78.13 L234.65,77.29 L235.17,76.66 L235.49,77.09 L235.70,77.32 L236.23,76.40 L236.75,76.86 L237.28,76.14 L237.80,75.90 L238.33,75.15 L238.86,75.82 L239.38,75.26 L239.91,74.70 L240.44,75.29 L240.96,74.62 L241.49,74.71 L242.01,74.41 L242.54,73.66 L243.07,73.41 L243.59,72.48 L244.12,72.69 L244.65,72.49 L245.17,72.79 L245.70,72.61 L246.22,72.21 L246.75,72.87 L247.28,71.81 L247.80,70.94 L248.33,71.57 L248.86,71.48 L249.38,71.02 L249.91,70.29 L250.43,69.91 L250.96,70.28 L251.49,69.74 L252.01,69.69 L252.54,69.81 L253.07,69.14 L253.59,68.96 L254.12,69.30 L254.65,68.08 L255.17,68.85 L255.70,67.94 L256.22,68.18 L256.75,67.86 L257.28,67.58 L257.80,66.82 L258.33,67.31 L258.85,66.68 L259.07,66.52 L259.38,65.83 L259.91,66.50 L260.43,66.08 L260.96,65.90" fill="none" stroke="#008000" stroke-width="1.6" stroke-dasharray="1.5 1.3" stroke-linejoin="round" clip-path="url(#clip_q1)"/>
<rect x="50.46" y="32.10" width="210.50" height="83.05" fill="none" stroke="#767676" stroke-width="1"/>
<path d="M50.46,115.15 v-2.1 M50.46,32.10 v2.1 M92.56,115.15 v-2.1 M92.56,32.10 v2.1 M134.66,115.15 v-2.1 M134.66,32.10 v2.1 M176.76,115.15 v-2.1 M176.76,32.10 v2.1 M218.86,115.15 v-2.1 M218.86,32.10 v2.1 M260.96,115.15 v-2.1 M260.96,32.10 v2.1 M50.46,44.27 h2.1 M260.96,44.27 h-2.1 M50.46,75.35 h2.1 M260.96,75.35 h-2.1 M50.46,106.42 h2.1 M260.96,106.42 h-2.1" stroke="#767676" stroke-width="1" fill="none"/>
<path d="M327.56,83.10 L328.09,84.36 L328.61,85.62 L329.14,86.88 L329.66,88.13 L330.19,89.39 L330.72,90.65 L331.24,91.91 L331.35,92.16 L331.77,92.23 L332.29,92.32 L332.82,92.40 L333.35,92.49 L333.87,92.57 L334.40,92.66 L334.92,92.74 L335.45,92.83 L335.98,92.91 L336.50,93.00 L337.03,93.08 L337.55,93.17 L337.66,93.19 L338.08,93.19 L338.61,93.19 L339.13,93.19 L339.66,93.19 L340.18,93.19 L340.71,93.19 L341.24,93.19 L341.76,93.19 L342.29,93.19 L342.81,93.19 L343.34,93.19 L343.87,93.19 L344.39,93.19 L344.81,93.19 L344.92,93.29 L345.44,93.80 L345.97,94.31 L346.50,94.83 L347.02,95.17 L347.55,95.14 L347.97,96.26 L348.07,97.12 L348.60,95.54 L349.13,96.42 L349.65,96.84 L350.18,96.91 L350.70,97.10 L351.23,96.76 L351.76,96.33 L352.28,96.51 L352.81,96.55 L353.33,97.71 L353.86,97.72 L354.39,96.31 L354.91,96.65 L355.44,96.14 L355.96,96.66 L356.38,97.28 L356.49,97.78 L357.02,96.72 L357.54,97.08 L358.07,97.31 L358.59,97.84 L359.12,97.49 L359.65,97.60 L360.17,97.15 L360.70,97.55 L361.22,96.90 L361.75,98.06 L362.28,97.51 L362.80,97.54 L363.33,98.22 L363.85,98.41 L364.38,97.42 L364.91,97.69 L365.43,98.05 L365.96,97.83 L366.48,98.38 L366.69,98.07 L367.01,98.21 L367.54,99.03 L368.06,99.08 L368.59,99.13 L369.11,100.17 L369.64,100.44 L370.17,99.16 L370.69,97.87 L371.22,96.59 L371.74,95.31 L372.27,94.94 L372.80,94.56 L373.32,94.18 L373.85,93.81 L374.37,93.43 L374.90,93.05 L375.43,92.67 L375.95,92.30 L376.48,91.92 L377.00,91.54 L377.53,91.17 L378.06,90.79 L378.58,90.41 L379.11,90.03 L379.63,89.51 L380.16,88.98 L380.69,88.45 L381.21,87.93 L381.74,87.40 L382.26,86.87 L382.79,86.35 L383.32,85.82 L383.84,85.29 L384.37,84.77 L384.89,84.24 L385.42,83.71 L385.95,83.19 L386.47,82.66 L387.00,82.13 L387.52,81.61 L388.05,81.08 L388.58,80.55 L389.10,80.03 L389.42,79.71 L389.63,79.67 L390.15,79.57 L390.68,79.48 L391.21,79.38 L391.73,79.28 L392.26,79.18 L392.78,79.08 L393.31,78.98 L393.84,78.88 L394.36,78.79 L394.89,78.69 L395.41,78.85 L395.94,79.01 L396.47,79.17 L396.99,79.33 L397.52,79.49 L398.04,79.65 L398.25,79.71 L398.57,79.97 L399.10,80.41 L399.62,80.84 L400.15,81.27 L400.67,81.71 L401.20,82.14 L401.73,82.57 L402.25,83.01 L402.78,83.44 L403.30,83.87 L403.83,84.31 L404.36,84.74 L404.57,84.91 L404.88,85.39 L405.41,86.18 L405.93,86.98 L406.46,87.77 L406.99,88.57 L407.51,89.36 L408.04,90.16 L408.56,90.95 L409.09,91.75 L409.62,92.54 L410.14,93.34 L410.67,94.13 L411.19,94.68 L411.72,95.22 L412.25,95.77 L412.77,96.31 L413.30,96.86 L413.82,97.40 L414.35,97.95 L414.88,98.49 L415.40,99.04 L415.93,99.58 L416.45,100.13 L416.98,100.67 L417.51,101.33 L418.03,101.99 L418.56,102.65 L419.08,103.31 L419.61,103.97 L420.14,104.63 L420.66,105.29 L421.19,105.95 L421.71,106.15 L422.24,106.35 L422.77,106.54 L423.29,106.74 L423.82,106.94 L424.34,107.13 L424.87,107.33 L425.40,107.53 L425.92,107.72 L426.45,107.92 L426.97,108.12 L427.50,108.32 L428.03,108.51 L428.55,108.71 L429.08,108.91 L429.60,109.10 L430.13,109.30 L430.66,109.50 L431.18,109.69 L431.71,109.89 L432.23,109.77 L432.76,109.65 L433.29,109.53 L433.81,109.41 L434.34,109.29 L434.86,109.16 L435.39,109.04 L435.92,108.92 L436.44,108.80 L436.97,108.68 L437.49,108.56 L438.02,108.44 L438.55,108.32 L439.07,108.19 L439.60,108.07 L439.91,108.00 L440.12,107.63 L440.65,106.72 L441.18,105.80 L441.70,104.89 L442.23,103.97 L442.75,103.05 L443.28,102.14 L443.81,101.22 L444.12,100.67 L444.33,100.12 L444.86,98.74 L445.38,97.36 L445.91,95.98 L446.44,94.60 L446.96,93.23 L447.49,91.85 L448.01,90.47 L448.12,90.19 L448.54,89.11 L449.07,87.77 L449.59,86.42 L450.12,85.07 L450.64,83.72 L451.17,82.37 L451.70,81.03 L452.12,79.95 L452.22,79.86 L452.75,79.40 L453.27,78.95 L453.80,78.49 L454.33,78.04 L454.85,77.58 L454.85,77.58 L455.38,76.77 L455.90,75.95 L456.43,75.14 L456.96,74.32 L457.48,73.51 L458.01,72.69 L458.53,71.88 L459.06,71.06 L459.59,70.25 L460.11,69.43 L460.64,68.62 L460.95,68.13 L461.16,68.10 L461.69,68.04 L462.22,67.97 L462.74,67.90 L463.27,67.84 L463.79,67.77 L464.32,67.71 L464.85,67.64 L465.37,67.58 L465.90,67.51 L466.42,67.45 L466.95,67.38 L467.27,67.34 L467.48,67.26 L468.00,67.06 L468.53,66.86 L469.05,66.65 L469.58,66.45 L470.11,66.25 L470.63,66.05 L471.16,65.84 L471.68,65.64 L472.21,65.44 L472.74,65.24 L473.26,65.04 L473.79,64.83 L474.31,64.63 L474.84,64.43 L475.37,64.23 L475.47,64.19 L475.89,63.91 L476.42,63.55 L476.94,63.20 L477.47,62.84 L478.00,62.49 L478.52,62.14 L479.05,61.78 L479.57,61.43 L480.10,61.08 L480.63,60.72 L481.15,60.37 L481.68,60.02 L482.20,59.66 L482.73,59.31 L483.26,58.95 L483.68,58.67 L483.78,58.63 L484.31,58.40 L484.83,58.18 L485.36,57.95 L485.89,57.73 L486.41,57.50 L486.94,57.28 L487.46,56.25 L487.99,57.80 L488.52,56.87 L489.04,57.67 L489.57,56.25 L490.09,55.85 L490.62,55.89 L491.04,55.52 L491.15,55.74 L491.67,54.08 L492.20,53.85 L492.72,56.20 L493.25,53.80 L493.78,56.39 L494.30,55.31 L494.83,54.63 L495.35,54.22 L495.88,54.18 L496.41,54.03 L496.72,53.94 L496.93,43.31 L497.14,32.67 L497.46,48.63 L497.56,53.94 L497.98,53.88 L498.51,55.61 L499.04,54.96 L499.56,53.49 L500.09,54.73 L500.61,54.56 L501.14,52.21 L501.67,51.66 L502.19,53.29 L502.40,53.16 L502.72,53.16 L503.24,53.28 L503.77,54.09 L504.30,54.25 L504.82,55.22 L505.35,52.36 L505.87,53.68 L506.40,53.83 L506.93,53.31 L507.45,52.79 L507.98,51.31 L508.50,54.30 L509.03,54.58 L509.56,53.94 L510.08,53.90 L510.61,56.02 L511.13,52.66 L511.66,53.56 L512.19,54.27 L512.71,55.99 L513.24,54.81 L513.76,54.57 L514.29,55.84 L514.82,57.01 L515.34,57.31 L515.87,57.62 L516.39,57.93 L516.92,58.23 L517.45,58.54 L517.97,58.85 L518.50,59.15 L519.02,59.46 L519.55,59.97 L520.08,60.47 L520.60,60.98 L521.13,61.48 L521.65,61.99 L522.18,62.49 L522.71,63.00 L523.23,63.50 L523.76,64.01 L524.28,64.51 L524.81,65.02 L525.34,65.52 L525.86,66.03 L526.39,66.53 L526.91,67.04 L527.23,67.34 L527.44,67.66 L527.97,68.46 L528.49,69.25 L529.02,70.05 L529.54,70.85 L530.07,71.64 L530.60,72.44 L531.12,73.24 L531.65,74.03 L532.17,74.83 L532.70,75.63 L533.23,76.42 L533.75,77.22 L534.28,78.02 L534.80,78.81 L535.33,79.61 L535.86,80.41 L536.38,81.20 L536.70,81.68 L536.91,81.92 L537.43,82.51 L537.96,83.10" fill="none" stroke="#ff0000" stroke-width="2.0" stroke-linejoin="round" clip-path="url(#clip_q2)"/>
<path d="M327.56,83.10 L328.09,83.10 L328.61,83.10 L329.14,83.10 L329.66,83.10 L330.19,83.10 L330.72,83.10 L331.24,83.10 L331.77,83.10 L332.29,83.10 L332.82,83.10 L333.35,83.10 L333.45,83.10 L333.87,84.45 L334.40,86.14 L334.92,87.83 L335.45,89.52 L335.98,91.21 L336.50,92.89 L337.03,94.58 L337.55,96.27 L338.08,97.96 L338.61,99.65 L339.13,101.34 L339.66,103.03 L340.18,104.71 L340.71,106.40 L340.82,106.74 L341.24,106.23 L341.76,105.59 L342.29,104.96 L342.81,104.32 L343.34,103.68 L343.87,103.04 L344.39,102.41 L344.92,101.77 L345.44,101.13 L345.97,100.49 L346.50,99.86 L347.02,101.42 L347.55,100.48 L347.97,98.07 L348.07,100.15 L348.60,99.20 L349.13,96.05 L349.65,100.98 L350.18,97.09 L350.70,96.70 L351.23,99.37 L351.76,100.04 L352.28,98.31 L352.81,97.26 L353.33,95.89 L353.86,98.00 L354.39,97.02 L354.91,99.65 L355.44,100.29 L355.96,100.89 L356.49,102.16 L357.02,101.20 L357.54,99.89 L358.07,98.95 L358.59,101.26 L359.12,97.84 L359.65,99.22 L360.17,100.00 L360.70,100.13 L361.22,98.86 L361.75,95.68 L362.28,98.59 L362.80,100.28 L363.33,100.36 L363.85,95.96 L364.38,99.77 L364.91,96.99 L365.43,96.62 L365.96,102.52 L366.48,96.73 L367.01,99.19 L367.54,100.57 L368.06,99.72 L368.59,97.98 L369.11,98.27 L369.64,98.86 L370.17,97.30 L370.69,98.23 L371.22,94.18 L371.74,95.31 L372.27,93.75 L372.80,93.11 L373.32,93.39 L373.85,92.31 L374.37,91.78 L374.90,92.50 L375.43,91.98 L375.95,91.84 L376.48,91.49 L377.00,90.86 L377.53,92.51 L378.06,91.04 L378.58,90.03 L379.11,90.03 L379.63,91.17 L380.16,90.12 L380.69,87.21 L381.21,88.76 L381.74,87.77 L382.26,86.58 L382.79,86.72 L383.32,86.50 L383.84,85.70 L384.37,85.11 L384.89,84.70 L385.42,83.57 L385.95,81.92 L386.47,82.38 L387.00,80.85 L387.52,81.02 L388.05,80.42 L388.58,80.09 L389.10,80.26 L389.42,79.71 L389.63,79.34 L390.15,79.33 L390.68,80.35 L391.21,78.79 L391.73,78.82 L392.26,78.89 L392.78,79.52 L393.31,81.06 L393.84,77.73 L394.36,78.84 L394.89,78.69 L395.41,80.56 L395.94,78.50 L396.47,79.72 L396.99,78.79 L397.52,79.57 L398.04,78.75 L398.25,79.71 L398.57,79.79 L399.10,80.18 L399.62,80.72 L400.15,80.30 L400.67,82.73 L401.20,81.21 L401.73,82.03 L402.25,83.44 L402.78,83.44 L403.30,84.22 L403.83,84.26 L404.36,84.00 L404.57,84.91 L404.88,85.92 L405.41,85.60 L405.93,86.24 L406.46,87.27 L406.99,87.34 L407.51,89.42 L408.04,89.61 L408.56,89.00 L409.09,91.73 L409.62,92.65 L410.14,93.33 L410.67,94.13 L411.19,94.21 L411.72,95.71 L412.25,95.96 L412.77,97.69 L413.30,97.68 L413.82,98.21 L414.35,98.86 L414.88,98.84 L415.40,98.49 L415.93,99.88 L416.45,101.17 L416.98,100.67 L417.51,101.14 L418.03,101.99 L418.56,102.39 L419.08,105.52 L419.61,103.74 L420.14,106.32 L420.66,106.29 L421.19,105.95 L421.71,107.31 L422.24,105.05 L422.77,107.84 L423.29,107.25 L423.82,106.65 L424.34,105.51 L424.87,105.47 L425.40,109.14 L425.92,105.86 L426.45,107.45 L426.97,106.24 L427.50,106.66 L428.03,109.35 L428.55,108.65 L429.08,109.37 L429.60,108.52 L430.13,106.70 L430.66,109.41 L431.18,110.74 L431.71,109.89 L432.23,105.78 L432.76,111.22 L433.29,109.53 L433.81,109.43 L434.34,111.29 L434.86,107.92 L435.39,107.37 L435.92,109.05 L436.44,108.71 L436.97,108.94 L437.49,111.33 L438.02,108.05 L438.55,110.28 L439.07,109.70 L439.60,107.45 L439.91,108.00 L440.12,106.18 L440.65,108.08 L441.18,104.01 L441.70,102.10 L442.23,103.70 L442.75,103.17 L443.28,102.14 L443.81,101.01 L444.12,100.67 L444.33,100.53 L444.86,99.61 L445.38,96.70 L445.91,95.25 L446.44,95.11 L446.96,93.64 L447.49,92.48 L448.01,91.18 L448.12,90.19 L448.54,90.10 L449.07,89.30 L449.59,85.49 L450.12,85.43 L450.64,83.65 L451.17,80.54 L451.70,81.52 L452.12,79.95 L452.22,79.27 L452.75,80.78 L453.27,79.59 L453.80,77.78 L454.33,78.31 L454.85,77.58 L454.85,79.05 L455.38,78.34 L455.90,75.61 L456.43,76.09 L456.96,73.64 L457.48,73.24 L458.01,73.03 L458.53,71.95 L459.06,70.31 L459.59,70.22 L460.11,70.41 L460.64,68.29 L460.95,68.13 L461.16,68.47 L461.69,68.28 L462.22,67.40 L462.74,67.58 L463.27,66.82 L463.79,67.97 L464.32,68.18 L464.85,67.99 L465.37,67.20 L465.90,68.33 L466.42,67.82 L466.95,68.24 L467.27,67.34 L467.48,68.05 L468.00,67.24 L468.53,64.43 L469.05,67.04 L469.58,66.20 L470.11,66.16 L470.63,66.23 L471.16,65.82 L471.68,63.68 L472.21,65.71 L472.74,63.63 L473.26,64.39 L473.79,65.71 L474.31,65.29 L474.84,64.89 L475.37,65.32 L475.47,64.19 L475.89,62.76 L476.42,63.14 L476.94,62.67 L477.47,63.87 L478.00,62.03 L478.52,62.68 L479.05,59.36 L479.57,61.52 L480.10,60.79 L480.63,60.31 L481.15,60.84 L481.68,60.41 L482.20,60.06 L482.73,58.46 L483.26,59.68 L483.68,58.67 L483.78,58.77 L484.31,57.94 L484.83,58.34 L485.36,57.59 L485.89,59.56 L486.41,58.93 L486.94,57.28 L487.46,57.88 L487.99,54.28 L488.52,55.55 L489.04,55.28 L489.57,56.60 L490.09,53.68 L490.62,54.83 L491.04,53.94 L491.15,55.51 L491.67,54.73 L492.20,49.38 L492.72,54.16 L493.25,54.34 L493.78,50.68 L494.30,51.12 L494.83,52.59 L495.35,49.53 L495.88,51.58 L496.41,53.91 L496.93,52.09 L497.46,53.88 L497.98,48.67 L498.51,50.74 L499.04,46.29 L499.56,49.72 L500.09,49.54 L500.61,52.08 L501.14,52.02 L501.67,50.70 L502.19,48.21 L502.40,49.61 L502.72,51.51 L503.24,53.92 L503.77,48.63 L504.30,48.68 L504.82,51.91 L505.35,49.78 L505.87,48.79 L506.40,48.85 L506.93,53.61 L507.45,51.02 L507.98,52.58 L508.50,49.81 L509.03,51.42 L509.56,51.58 L510.08,54.16 L510.61,52.35 L511.13,51.92 L511.66,55.94 L512.19,56.01 L512.71,55.27 L513.24,55.04 L513.76,55.88 L514.29,58.41 L514.82,58.36 L515.34,56.18 L515.87,55.81 L516.39,58.40 L516.92,57.01 L517.45,54.50 L517.97,58.43 L518.50,59.21 L519.02,58.67 L519.55,60.60 L520.08,59.16 L520.60,60.12 L521.13,60.80 L521.65,61.74 L522.18,61.80 L522.71,62.36 L523.23,63.25 L523.76,63.01 L524.28,65.23 L524.81,64.39 L525.34,65.46 L525.86,65.41 L526.39,65.31 L526.91,67.01 L527.23,67.34 L527.44,67.81 L527.97,68.50 L528.49,68.42 L529.02,69.12 L529.54,70.76 L530.07,71.26 L530.60,71.34 L531.12,72.92 L531.65,74.97 L532.17,75.34 L532.70,75.93 L533.23,76.19 L533.75,77.57 L534.28,77.16 L534.80,79.11 L535.33,78.64 L535.86,80.81 L536.38,80.37 L536.70,81.68 L536.91,81.80 L537.43,81.62 L537.96,83.10" fill="none" stroke="#0000ff" stroke-width="2.0" stroke-dasharray="8 7" stroke-linejoin="round" clip-path="url(#clip_q2)"/>
<path d="M327.56,83.10 L328.09,83.10 L328.61,83.10 L329.14,83.10 L329.66,83.10 L330.19,83.10 L330.72,83.10 L331.24,83.10 L331.77,83.10 L332.29,83.10 L332.82,83.10 L333.35,83.10 L333.87,83.10 L334.40,83.10 L334.50,83.10 L334.92,84.38 L335.45,85.99 L335.98,87.59 L336.50,89.20 L337.03,90.80 L337.55,92.40 L338.08,94.01 L338.61,95.61 L339.13,97.22 L339.66,98.82 L340.18,100.42 L340.71,102.03 L341.24,103.63 L341.76,105.24 L341.87,105.56 L342.29,105.14 L342.81,104.62 L343.34,104.09 L343.87,103.57 L344.39,103.05 L344.92,102.52 L345.44,102.00 L345.97,101.48 L346.50,100.95 L347.02,99.56 L347.55,99.56 L348.07,99.47 L348.60,98.86 L349.13,102.45 L349.65,98.05 L350.18,102.01 L350.70,97.16 L351.23,97.58 L351.76,97.16 L352.28,97.10 L352.81,97.86 L353.33,99.11 L353.86,98.69 L354.39,95.76 L354.91,98.07 L355.44,99.12 L355.96,98.69 L356.49,99.61 L357.02,99.41 L357.54,99.21 L358.07,98.46 L358.59,99.45 L359.12,99.68 L359.65,100.23 L360.17,99.24 L360.70,101.64 L361.22,99.65 L361.75,99.52 L362.28,97.48 L362.80,100.71 L363.33,99.52 L363.85,94.96 L364.38,100.92 L364.91,101.86 L365.43,99.93 L365.96,96.36 L366.48,95.95 L367.01,101.02 L367.54,98.16 L368.06,99.00 L368.59,99.89 L369.11,101.98 L369.64,98.86 L370.17,96.36 L370.69,98.44 L371.22,95.73 L371.74,95.31 L372.27,94.87 L372.80,93.09 L373.32,93.26 L373.85,94.72 L374.37,93.64 L374.90,92.23 L375.43,93.72 L375.95,92.61 L376.48,91.74 L377.00,92.82 L377.53,92.14 L378.06,92.13 L378.58,90.19 L379.11,90.03 L379.63,89.95 L380.16,88.25 L380.69,88.36 L381.21,87.48 L381.74,87.47 L382.26,86.28 L382.79,86.43 L383.32,86.59 L383.84,84.36 L384.37,84.00 L384.89,82.45 L385.42,83.83 L385.95,83.64 L386.47,83.80 L387.00,85.18 L387.52,82.64 L388.05,80.70 L388.58,81.25 L389.10,82.07 L389.42,79.71 L389.63,79.19 L390.15,80.04 L390.68,79.76 L391.21,79.72 L391.73,79.38 L392.26,78.81 L392.78,80.45 L393.31,79.16 L393.84,79.28 L394.36,77.89 L394.89,78.69 L395.41,79.66 L395.94,77.72 L396.47,78.69 L396.99,78.05 L397.52,80.04 L398.04,79.01 L398.25,79.71 L398.57,79.69 L399.10,81.59 L399.62,81.04 L400.15,81.63 L400.67,82.47 L401.20,82.74 L401.73,83.71 L402.25,83.37 L402.78,83.18 L403.30,84.49 L403.83,85.54 L404.36,83.92 L404.57,84.91 L404.88,85.68 L405.41,86.16 L405.93,87.16 L406.46,88.20 L406.99,88.09 L407.51,89.78 L408.04,90.14 L408.56,92.09 L409.09,93.04 L409.62,92.85 L410.14,91.83 L410.67,94.13 L411.19,94.53 L411.72,93.70 L412.25,95.41 L412.77,95.95 L413.30,97.32 L413.82,97.42 L414.35,96.54 L414.88,97.56 L415.40,99.53 L415.93,99.95 L416.45,99.07 L416.98,100.67 L417.51,101.74 L418.03,101.99 L418.56,101.20 L419.08,104.75 L419.61,102.98 L420.14,102.23 L420.66,103.98 L421.19,105.95 L421.71,105.77 L422.24,106.12 L422.77,106.68 L423.29,106.78 L423.82,105.08 L424.34,105.32 L424.87,106.69 L425.40,109.51 L425.92,108.55 L426.45,107.45 L426.97,108.04 L427.50,110.45 L428.03,107.47 L428.55,104.61 L429.08,110.84 L429.60,109.00 L430.13,106.75 L430.66,110.16 L431.18,110.34 L431.71,109.89 L432.23,109.50 L432.76,108.76 L433.29,110.18 L433.81,107.86 L434.34,112.29 L434.86,108.13 L435.39,108.46 L435.92,109.17 L436.44,108.19 L436.97,108.60 L437.49,106.46 L438.02,109.16 L438.55,108.38 L439.07,110.38 L439.60,109.85 L439.91,108.00 L440.12,108.01 L440.65,109.17 L441.18,107.14 L441.70,106.98 L442.23,104.75 L442.75,102.87 L443.28,102.14 L443.81,100.26 L444.12,100.67 L444.33,102.11 L444.86,98.95 L445.38,96.48 L445.91,94.57 L446.44,93.16 L446.96,94.70 L447.49,92.37 L448.01,89.89 L448.12,90.19 L448.54,88.15 L449.07,87.48 L449.59,86.15 L450.12,84.82 L450.64,84.51 L451.17,82.21 L451.70,80.19 L452.12,79.95 L452.22,80.20 L452.75,78.20 L453.27,81.86 L453.80,78.83 L454.33,76.30 L454.85,77.58 L454.85,76.69 L455.38,75.29 L455.90,75.80 L456.43,76.35 L456.96,74.85 L457.48,71.95 L458.01,74.57 L458.53,72.85 L459.06,72.82 L459.59,70.79 L460.11,69.86 L460.64,68.02 L460.95,68.13 L461.16,68.95 L461.69,66.28 L462.22,67.31 L462.74,68.39 L463.27,68.85 L463.79,69.31 L464.32,67.58 L464.85,65.61 L465.37,67.74 L465.90,68.56 L466.42,67.50 L466.95,67.91 L467.27,67.34 L467.48,68.18 L468.00,69.00 L468.53,66.91 L469.05,65.13 L469.58,65.19 L470.11,65.24 L470.63,65.83 L471.16,65.36 L471.68,64.60 L472.21,65.49 L472.74,64.94 L473.26,65.44 L473.79,63.67 L474.31,65.57 L474.84,63.72 L475.37,63.34 L475.47,64.19 L475.89,63.04 L476.42,62.81 L476.94,63.66 L477.47,63.41 L478.00,62.90 L478.52,62.51 L479.05,62.93 L479.57,61.88 L480.10,61.72 L480.63,61.68 L481.15,59.98 L481.68,60.78 L482.20,59.39 L482.73,57.79 L483.26,57.21 L483.68,58.67 L483.78,58.57 L484.31,57.20 L484.83,57.66 L485.36,57.59 L485.89,53.07 L486.41,54.03 L486.94,54.61 L487.46,56.48 L487.99,56.31 L488.52,54.58 L489.04,55.25 L489.57,55.29 L490.09,53.31 L490.62,56.35 L491.04,53.94 L491.15,57.34 L491.67,55.37 L492.20,55.36 L492.72,53.24 L493.25,54.35 L493.78,52.92 L494.30,55.85 L494.83,49.51 L495.35,51.12 L495.88,51.58 L496.41,52.90 L496.93,50.69 L497.46,48.94 L497.98,49.46 L498.51,50.92 L499.04,49.54 L499.56,48.90 L500.09,52.39 L500.61,52.64 L501.14,51.01 L501.67,48.10 L502.19,47.08 L502.40,49.61 L502.72,49.44 L503.24,47.20 L503.77,48.23 L504.30,50.23 L504.82,51.55 L505.35,51.52 L505.87,50.40 L506.40,48.24 L506.93,49.37 L507.45,53.25 L507.98,53.27 L508.50,49.85 L509.03,51.07 L509.56,51.58 L510.08,53.60 L510.61,51.16 L511.13,50.36 L511.66,51.74 L512.19,53.34 L512.71,51.59 L513.24,54.99 L513.76,55.74 L514.29,56.71 L514.82,52.19 L515.34,52.18 L515.87,56.35 L516.39,55.64 L516.92,56.27 L517.45,55.82 L517.97,55.77 L518.50,57.05 L519.02,58.67 L519.55,59.35 L520.08,60.65 L520.60,62.08 L521.13,62.54 L521.65,61.50 L522.18,62.52 L522.71,62.53 L523.23,63.17 L523.76,64.31 L524.28,64.53 L524.81,64.51 L525.34,65.22 L525.86,66.44 L526.39,66.92 L526.91,66.63 L527.23,67.34 L527.44,67.50 L527.97,68.25 L528.49,69.34 L529.02,69.57 L529.54,70.77 L530.07,70.03 L530.60,72.73 L531.12,73.67 L531.65,72.98 L532.17,74.86 L532.70,76.11 L533.23,76.14 L533.75,78.67 L534.28,77.72 L534.80,78.79 L535.33,79.43 L535.86,80.91 L536.38,80.36 L536.70,81.68 L536.91,81.71 L537.43,82.51 L537.96,83.10" fill="none" stroke="#ff00ff" stroke-width="1.6" stroke-dasharray="5.2 2.2 2.2 2.2" stroke-linejoin="round" clip-path="url(#clip_q2)"/>
<path d="M327.56,83.10 L328.09,83.10 L328.61,83.10 L329.14,83.10 L329.66,83.10 L330.19,83.10 L330.72,83.10 L331.24,83.10 L331.77,83.10 L332.29,83.10 L332.82,83.10 L333.35,84.71 L333.87,86.33 L334.40,87.94 L334.92,89.55 L335.45,91.17 L335.98,92.78 L336.50,94.40 L337.03,96.01 L337.55,97.62 L338.08,99.24 L338.61,100.85 L339.13,102.46 L339.66,104.08 L340.18,105.69 L340.71,107.31 L341.24,108.92 L341.76,110.53 L342.29,112.15 L342.71,113.44 L342.81,113.18 L343.34,111.88 L343.87,110.57 L344.39,109.27 L344.92,107.97 L345.44,106.67 L345.97,105.37 L346.50,104.07 L347.02,102.76 L347.55,101.46 L348.07,100.16 L348.60,98.86 L349.13,98.20 L349.65,97.54 L350.18,96.88 L350.70,96.22 L351.23,95.56 L351.76,94.90 L352.28,94.24 L352.81,93.58 L353.33,92.92 L353.86,92.26 L354.39,91.60 L354.91,90.94 L355.44,90.28 L355.96,89.62 L356.38,89.09 L356.49,89.17 L357.02,89.60 L357.54,90.02 L358.07,90.44 L358.59,90.87 L359.12,91.29 L359.65,91.72 L360.17,92.14 L360.70,92.56 L361.22,92.99 L361.75,93.41 L362.28,93.83 L362.80,94.26 L363.33,94.68 L363.85,95.11 L364.38,95.53 L364.91,95.95 L365.43,96.38 L365.96,96.80 L366.48,97.22 L367.01,97.65 L367.54,98.07 L367.54,98.07 L368.06,97.94 L368.59,97.81 L369.11,97.68 L369.64,97.55 L370.17,97.42 L370.69,97.28 L370.69,97.28 L371.22,96.30 L371.74,95.31 L372.27,94.09 L372.80,94.34 L373.32,94.92 L373.85,93.92 L374.37,93.64 L374.90,93.19 L375.43,92.30 L375.95,93.10 L376.48,91.31 L377.00,92.25 L377.53,91.28 L378.06,90.23 L378.58,89.99 L379.11,90.03 L379.63,89.94 L380.16,87.87 L380.69,88.22 L381.21,88.53 L381.74,87.37 L382.26,87.40 L382.79,86.07 L383.32,86.67 L383.84,84.99 L384.37,85.88 L384.89,83.55 L385.42,83.54 L385.95,82.33 L386.47,83.11 L387.00,83.45 L387.52,82.47 L388.05,81.23 L388.58,79.32 L389.10,79.67 L389.42,79.71 L389.63,78.85 L390.15,80.13 L390.68,79.81 L391.21,79.59 L391.73,78.54 L392.26,79.54 L392.78,79.26 L393.31,77.96 L393.84,79.43 L394.36,78.81 L394.89,78.69 L395.41,79.69 L395.94,79.16 L396.47,78.64 L396.99,78.58 L397.52,80.36 L398.04,81.24 L398.25,79.71 L398.57,79.63 L399.10,79.35 L399.62,81.28 L400.15,81.11 L400.67,81.69 L401.20,83.50 L401.73,84.26 L402.25,83.05 L402.78,83.13 L403.30,84.83 L403.83,84.51 L404.36,85.24 L404.57,84.91 L404.88,86.00 L405.41,87.00 L405.93,86.24 L406.46,87.77 L406.99,88.72 L407.51,89.67 L408.04,89.92 L408.56,91.28 L409.09,91.65 L409.62,93.04 L410.14,93.13 L410.67,94.13 L411.19,94.88 L411.72,94.88 L412.25,96.77 L412.77,96.84 L413.30,97.66 L413.82,96.44 L414.35,98.37 L414.88,98.57 L415.40,100.16 L415.93,100.23 L416.45,101.25 L416.98,100.67 L417.51,101.46 L418.03,102.66 L418.56,101.74 L419.08,103.93 L419.61,103.40 L420.14,104.78 L420.66,105.03 L421.19,105.95 L421.71,106.79 L422.24,106.35 L422.77,106.69 L423.29,106.99 L423.82,107.78 L424.34,106.71 L424.87,108.84 L425.40,107.79 L425.92,108.02 L426.45,107.94 L426.97,109.31 L427.50,107.79 L428.03,109.46 L428.55,109.38 L429.08,109.91 L429.60,109.57 L430.13,109.04 L430.66,106.85 L431.18,112.30 L431.71,109.89 L432.23,109.00 L432.76,108.90 L433.29,108.22 L433.81,109.25 L434.34,108.93 L434.86,107.54 L435.39,109.01 L435.92,108.81 L436.44,108.86 L436.97,108.31 L437.49,106.94 L438.02,109.33 L438.55,107.26 L439.07,110.44 L439.60,107.68 L439.91,108.00 L440.12,108.08 L440.65,105.56 L441.18,105.09 L441.70,104.19 L442.23,103.48 L442.75,102.79 L443.28,102.14 L443.81,102.87 L444.12,100.67 L444.33,99.94 L444.86,99.86 L445.38,96.58 L445.91,96.56 L446.44,94.66 L446.96,93.68 L447.49,91.85 L448.01,90.38 L448.12,90.19 L448.54,88.78 L449.07,88.82 L449.59,85.27 L450.12,85.99 L450.64,83.94 L451.17,84.59 L451.70,80.88 L452.12,79.95 L452.22,79.18 L452.75,78.54 L453.27,78.63 L453.80,78.20 L454.33,78.65 L454.85,77.58 L454.85,77.99 L455.38,77.02 L455.90,75.93 L456.43,76.08 L456.96,74.70 L457.48,73.18 L458.01,72.66 L458.53,72.07 L459.06,71.80 L459.59,70.11 L460.11,69.38 L460.64,67.53 L460.95,68.13 L461.16,68.18 L461.69,67.35 L462.22,69.10 L462.74,66.59 L463.27,69.01 L463.79,67.94 L464.32,68.10 L464.85,68.21 L465.37,67.94 L465.90,68.05 L466.42,67.48 L466.95,67.29 L467.27,67.34 L467.48,66.48 L468.00,66.21 L468.53,65.59 L469.05,66.40 L469.58,67.20 L470.11,64.54 L470.63,65.72 L471.16,67.95 L471.68,65.15 L472.21,65.66 L472.74,65.91 L473.26,65.62 L473.79,64.90 L474.31,65.39 L474.84,64.36 L475.37,64.47 L475.47,64.19 L475.89,64.16 L476.42,63.30 L476.94,63.04 L477.47,61.69 L478.00,62.22 L478.52,62.99 L479.05,61.86 L479.57,60.19 L480.10,59.82 L480.63,61.44 L481.15,59.93 L481.68,60.47 L482.20,59.96 L482.73,60.61 L483.26,60.33 L483.68,58.67 L483.78,58.93 L484.31,58.16 L484.83,57.63 L485.36,57.59 L485.89,58.41 L486.41,57.33 L486.94,56.57 L487.46,56.57 L487.99,59.34 L488.52,56.95 L489.04,55.25 L489.57,54.36 L490.09,55.79 L490.62,53.16 L491.04,53.94 L491.15,57.55 L491.67,52.30 L492.20,54.39 L492.72,53.29 L493.25,54.15 L493.78,54.19 L494.30,52.91 L494.83,52.21 L495.35,53.36 L495.88,51.58 L496.41,50.66 L496.93,51.95 L497.46,51.18 L497.98,51.98 L498.51,51.76 L499.04,50.86 L499.56,52.28 L500.09,49.70 L500.61,51.87 L501.14,49.71 L501.67,51.39 L502.19,50.14 L502.40,49.61 L502.72,50.74 L503.24,48.61 L503.77,48.17 L504.30,50.84 L504.82,49.94 L505.35,50.34 L505.87,49.88 L506.40,49.66 L506.93,48.88 L507.45,51.08 L507.98,53.46 L508.50,50.65 L509.03,52.07 L509.56,51.58 L510.08,52.32 L510.61,51.07 L511.13,51.09 L511.66,53.20 L512.19,52.21 L512.71,53.56 L513.24,53.52 L513.76,55.02 L514.29,53.66 L514.82,56.37 L515.34,55.97 L515.87,55.34 L516.39,57.98 L516.92,56.78 L517.45,57.08 L517.97,57.04 L518.50,56.36 L519.02,58.67 L519.55,61.86 L520.08,58.77 L520.60,60.04 L521.13,60.39 L521.65,61.17 L522.18,62.37 L522.71,62.88 L523.23,63.64 L523.76,63.14 L524.28,64.58 L524.81,64.69 L525.34,65.51 L525.86,66.92 L526.39,66.67 L526.91,67.15 L527.23,67.34 L527.44,67.03 L527.97,68.62 L528.49,69.85 L529.02,70.37 L529.54,70.52 L530.07,71.42 L530.60,72.24 L531.12,72.97 L531.65,74.47 L532.17,74.45 L532.70,75.51 L533.23,77.47 L533.75,77.56 L534.28,77.45 L534.80,79.12 L535.33,79.84 L535.86,80.44 L536.38,81.18 L536.70,81.68 L536.91,81.97 L537.43,82.28 L537.96,83.10" fill="none" stroke="#008000" stroke-width="1.6" stroke-dasharray="1.5 1.3" stroke-linejoin="round" clip-path="url(#clip_q2)"/>
<rect x="327.56" y="32.10" width="210.40" height="83.05" fill="none" stroke="#767676" stroke-width="1"/>
<path d="M327.56,115.15 v-2.1 M327.56,32.10 v2.1 M369.64,115.15 v-2.1 M369.64,32.10 v2.1 M411.72,115.15 v-2.1 M411.72,32.10 v2.1 M453.80,115.15 v-2.1 M453.80,32.10 v2.1 M495.88,115.15 v-2.1 M495.88,32.10 v2.1 M537.96,115.15 v-2.1 M537.96,32.10 v2.1 M327.56,35.82 h2.1 M537.96,35.82 h-2.1 M327.56,51.58 h2.1 M537.96,51.58 h-2.1 M327.56,67.34 h2.1 M537.96,67.34 h-2.1 M327.56,83.10 h2.1 M537.96,83.10 h-2.1 M327.56,98.86 h2.1 M537.96,98.86 h-2.1 M327.56,114.62 h2.1 M537.96,114.62 h-2.1" stroke="#767676" stroke-width="1" fill="none"/>
<path d="M50.46,191.45 L50.99,189.33 L51.51,187.22 L52.04,185.10 L52.56,182.98 L53.09,180.86 L53.62,178.75 L53.83,177.90 L54.14,177.88 L54.67,177.83 L55.20,177.79 L55.72,177.75 L56.25,177.70 L56.77,177.66 L57.30,177.62 L57.83,177.57 L58.35,177.53 L58.67,177.50 L58.88,177.47 L59.41,177.38 L59.93,177.29 L60.46,177.19 L60.98,177.10 L61.51,177.25 L62.04,177.39 L62.56,177.53 L63.09,177.67 L63.62,177.82 L64.14,177.96 L64.67,178.10 L65.19,178.24 L65.72,178.38 L66.25,178.53 L66.77,178.67 L66.88,178.70 L67.30,178.70 L67.83,178.70 L68.14,178.70 L68.35,176.07 L68.56,173.44 L68.88,174.21 L69.41,175.51 L69.93,175.71 L70.46,175.91 L70.98,176.11 L71.51,176.31 L72.04,176.04 L72.56,175.76 L73.09,175.49 L73.61,175.22 L73.83,175.11 L74.14,175.17 L74.67,175.28 L75.19,175.38 L75.72,175.49 L76.25,175.59 L76.77,175.70 L77.30,175.80 L77.83,175.91 L78.35,175.84 L78.88,175.78 L79.40,175.71 L79.93,175.64 L80.46,175.58 L80.98,175.51 L80.98,175.51 L81.51,171.26 L81.61,170.41 L82.03,171.62 L82.56,173.13 L82.67,173.44 L83.09,173.57 L83.61,173.72 L84.14,173.88 L84.67,174.04 L85.19,174.20 L85.72,174.36 L86.25,174.52 L86.77,174.68 L86.88,174.71 L87.30,174.83 L87.82,174.97 L88.35,175.11 L88.88,175.25 L89.40,175.40 L89.93,175.54 L90.45,175.68 L90.98,175.82 L91.51,175.97 L92.03,176.11 L92.56,176.25 L92.77,176.31 L93.09,176.80 L93.61,177.63 L94.14,178.46 L94.66,179.29 L95.19,180.12 L95.72,180.95 L96.24,181.78 L96.77,182.61 L97.30,183.44 L97.82,184.26 L98.03,184.60 L98.35,184.79 L98.88,185.12 L99.40,185.45 L99.93,185.78 L100.45,186.11 L100.98,186.43 L101.51,186.76 L102.03,187.09 L102.56,187.42 L103.08,187.75 L103.61,188.07 L104.14,188.40 L104.66,188.73 L105.19,189.06 L105.72,189.55 L106.24,190.05 L106.77,190.54 L107.29,191.04 L107.82,191.54 L108.35,192.03 L108.87,192.53 L109.40,193.02 L109.93,193.52 L110.45,194.01 L110.98,194.51 L111.50,195.00 L112.03,195.50 L112.56,195.99 L113.08,195.50 L113.61,195.01 L114.14,194.53 L114.66,194.04 L114.87,193.84 L115.19,193.76 L115.72,193.63 L116.24,193.50 L116.77,193.37 L117.29,193.25 L117.82,193.12 L118.35,192.99 L118.87,192.86 L119.40,192.73 L119.93,192.60 L120.45,192.47 L120.98,192.34 L121.50,192.21 L122.03,192.08 L122.56,191.95 L123.08,191.82 L123.29,191.77 L123.61,191.46 L124.13,190.94 L124.66,190.42 L125.19,189.90 L125.71,189.39 L126.24,188.87 L126.77,188.35 L127.29,187.83 L127.82,187.31 L128.34,186.80 L128.87,186.28 L129.40,185.76 L129.92,185.24 L130.45,184.72 L130.98,184.21 L131.50,183.69 L131.71,183.48 L132.03,183.17 L132.56,182.66 L133.08,182.14 L133.61,181.63 L134.13,181.11 L134.66,180.60 L135.19,180.09 L135.71,179.57 L136.24,179.06 L136.76,178.54 L137.29,178.03 L137.82,177.52 L138.24,177.10 L138.34,177.08 L138.87,176.97 L139.40,176.85 L139.92,176.74 L140.45,176.63 L140.97,176.51 L141.50,176.40 L142.03,176.28 L142.55,176.17 L143.08,176.06 L143.61,175.94 L144.13,175.83 L144.66,175.71 L145.19,175.60 L145.61,175.51 L145.71,175.52 L146.24,175.59 L146.76,175.66 L147.29,175.72 L147.82,175.79 L148.34,175.86 L148.87,175.92 L149.39,175.99 L149.92,176.05 L150.45,176.12 L150.97,176.19 L151.50,176.25 L151.92,176.31 L152.03,176.39 L152.55,176.79 L153.08,177.18 L153.61,177.58 L154.13,177.98 L154.66,178.38 L155.18,178.78 L155.71,179.18 L156.24,179.57 L156.76,179.97 L157.29,180.37 L157.81,180.77 L158.34,181.17 L158.87,181.57 L159.39,181.97 L159.92,182.36 L160.34,182.68 L160.45,182.76 L160.97,183.16 L161.50,183.56 L162.03,183.96 L162.55,184.36 L163.08,184.76 L163.60,185.15 L164.13,185.55 L164.66,185.95 L165.18,186.35 L165.71,186.75 L166.23,187.15 L166.76,187.54 L167.29,187.94 L167.81,188.34 L168.34,188.74 L168.76,189.06 L168.87,189.12 L169.39,189.40 L169.92,189.69 L170.44,189.98 L170.97,190.27 L171.50,190.56 L172.02,190.84 L172.55,191.13 L173.08,191.42 L173.60,191.71 L174.13,191.99 L174.65,192.28 L175.18,192.57 L175.71,192.86 L176.23,193.15 L176.76,193.43 L177.29,193.72 L177.81,194.01 L178.23,194.24 L178.34,194.26 L178.87,194.39 L179.39,194.51 L179.92,194.63 L180.44,194.75 L180.97,194.87 L181.50,194.99 L182.02,195.11 L182.55,195.24 L183.07,195.36 L183.60,195.48 L184.13,195.60 L184.65,195.72 L185.18,195.84 L185.71,195.96 L186.23,196.09 L186.76,196.21 L186.86,196.23 L187.28,196.36 L187.81,196.52 L188.34,196.68 L188.86,196.85 L189.39,197.01 L189.92,197.17 L190.44,197.33 L190.97,197.49 L191.50,197.65 L192.02,197.82 L192.55,197.98 L193.07,198.14 L193.60,198.30 L194.13,198.46 L194.65,198.62 L194.65,198.62 L195.18,198.93 L195.70,199.25 L196.23,199.56 L196.76,199.87 L197.28,200.18 L197.81,200.49 L198.02,200.62 L198.34,200.82 L198.86,201.17 L199.39,201.52 L199.91,201.87 L200.44,202.22 L200.97,202.57 L201.49,202.92 L202.02,203.27 L202.55,203.61 L203.07,203.96 L203.60,204.31 L204.12,204.66 L204.65,205.01 L205.18,205.36 L205.70,205.71 L206.23,206.06 L206.44,206.19 L206.76,206.45 L207.28,206.86 L207.81,207.28 L208.33,207.70 L208.86,208.43 L209.39,208.32 L209.91,208.47 L210.44,210.14 L210.97,209.18 L211.49,210.00 L212.02,210.00 L212.54,210.82 L212.97,211.38 L213.07,210.57 L213.60,212.84 L214.12,211.27 L214.65,212.33 L215.18,214.36 L215.70,213.96 L216.23,214.73 L216.75,217.07 L217.28,215.80 L217.81,217.34 L218.33,217.67 L218.86,218.55 L219.28,218.55 L219.39,224.73 L219.60,236.08 L219.91,218.55 L220.44,219.08 L220.96,219.72 L221.49,220.15 L222.02,223.38 L222.54,221.91 L223.07,224.21 L223.49,222.53 L223.60,224.60 L224.12,223.33 L224.65,221.61 L225.17,222.17 L225.70,224.33 L226.23,224.70 L226.75,225.09 L227.28,223.74 L227.81,222.67 L228.33,224.34 L228.86,223.46 L229.38,224.26 L229.91,222.57 L230.44,228.36 L230.96,228.76 L231.49,225.88 L231.91,225.72 L232.02,224.73 L232.54,226.53 L233.07,225.33 L233.59,228.00 L234.12,228.27 L234.65,227.53 L235.17,225.18 L235.70,225.54 L236.23,227.91 L236.75,226.61 L237.28,228.06 L237.80,227.13 L238.33,229.07 L238.44,227.31 L238.86,227.00 L239.38,227.62 L239.91,226.04 L240.44,226.53 L240.96,226.32 L241.49,224.34 L242.01,224.58 L242.54,223.53 L243.07,223.75 L243.59,221.62 L244.12,223.42 L244.54,221.74 L244.65,220.37 L245.17,218.76 L245.70,220.61 L246.22,219.47 L246.75,218.77 L247.28,218.06 L247.80,217.35 L248.33,216.65 L248.86,215.94 L249.38,215.23 L249.91,214.52 L250.43,213.82 L250.96,213.11 L251.07,212.97 L251.49,211.61 L252.01,209.92 L252.54,208.23 L253.07,206.53 L253.59,204.84 L254.12,203.15 L254.65,201.45 L255.17,199.76 L255.28,199.42 L255.70,198.83 L256.22,198.09 L256.75,197.35 L257.28,196.62 L257.80,195.88 L258.33,195.14 L258.85,194.40 L259.38,193.66 L259.91,192.93 L260.43,192.19 L260.96,191.45" fill="none" stroke="#ff0000" stroke-width="2.0" stroke-linejoin="round" clip-path="url(#clip_q3)"/>
<path d="M50.46,191.45 L50.99,191.45 L51.51,191.45 L52.04,191.45 L52.56,191.45 L53.09,191.45 L53.62,191.45 L54.14,191.45 L54.67,191.45 L55.20,191.45 L55.72,191.45 L56.25,191.45 L56.35,191.45 L56.77,189.56 L57.30,187.19 L57.83,184.82 L58.35,182.46 L58.88,180.09 L59.41,177.73 L59.72,176.31 L59.93,175.32 L60.46,172.86 L60.98,170.40 L61.51,167.94 L62.04,165.48 L62.56,163.02 L63.09,160.55 L63.30,159.57 L63.62,160.18 L64.14,161.21 L64.67,162.23 L65.19,163.25 L65.72,164.28 L66.25,165.30 L66.77,166.32 L67.30,167.35 L67.83,168.37 L67.93,168.58 L68.35,168.74 L68.88,168.93 L69.41,169.13 L69.93,168.32 L70.46,168.69 L70.98,169.76 L71.51,169.20 L72.04,170.86 L72.56,172.37 L72.77,170.41 L73.09,169.00 L73.61,171.11 L74.14,174.71 L74.67,174.36 L75.19,174.64 L75.72,174.71 L75.72,174.33 L76.25,172.62 L76.77,173.14 L77.30,173.36 L77.83,171.74 L78.35,171.90 L78.46,171.52 L78.88,171.60 L79.40,172.90 L79.93,173.86 L80.46,171.43 L80.98,173.57 L81.51,173.43 L82.03,173.92 L82.56,174.53 L83.09,174.42 L83.61,174.15 L84.14,172.97 L84.67,172.30 L85.19,173.00 L85.72,174.17 L86.25,170.38 L86.77,172.51 L86.88,173.44 L87.30,172.60 L87.82,174.53 L88.35,174.45 L88.88,173.77 L89.40,176.65 L89.93,175.84 L90.45,174.80 L90.98,172.81 L91.51,175.30 L92.03,177.20 L92.56,176.31 L93.09,177.78 L93.61,177.08 L94.14,178.92 L94.66,179.32 L95.19,178.54 L95.72,180.45 L96.24,181.42 L96.77,181.89 L97.30,182.78 L97.82,181.84 L98.35,182.24 L98.88,183.91 L99.40,184.78 L99.93,184.35 L100.45,183.80 L100.98,184.78 L101.51,186.25 L102.03,185.66 L102.56,185.78 L103.08,186.69 L103.61,186.96 L104.14,187.46 L104.66,188.18 L105.19,188.26 L105.72,189.17 L106.24,190.10 L106.77,190.48 L107.29,191.31 L107.82,190.40 L108.35,190.86 L108.87,191.62 L109.40,191.86 L109.93,192.59 L110.45,193.60 L110.98,193.48 L111.50,194.29 L112.03,194.70 L112.56,195.04 L113.08,196.12 L113.61,194.85 L114.14,193.98 L114.66,194.20 L114.87,193.84 L115.19,194.33 L115.72,194.70 L116.24,193.96 L116.77,192.50 L117.29,193.67 L117.82,192.47 L118.35,193.32 L118.87,192.21 L119.40,193.09 L119.93,192.32 L120.45,191.98 L120.98,191.88 L121.50,192.98 L122.03,192.37 L122.56,192.66 L123.08,191.94 L123.29,191.77 L123.61,191.73 L124.13,191.15 L124.66,189.95 L125.19,190.75 L125.71,190.03 L126.24,189.34 L126.77,188.55 L127.29,188.48 L127.82,186.91 L128.34,187.67 L128.87,184.87 L129.40,185.72 L129.92,184.30 L130.45,185.58 L130.98,184.45 L131.50,183.58 L131.71,183.48 L132.03,181.75 L132.56,182.56 L133.08,180.94 L133.61,182.17 L134.13,179.89 L134.66,181.12 L135.19,181.48 L135.71,181.12 L136.24,178.87 L136.76,178.69 L137.29,177.81 L137.82,177.55 L138.24,177.10 L138.34,176.66 L138.87,175.58 L139.40,176.87 L139.92,176.31 L140.45,176.67 L140.97,177.57 L141.50,176.24 L142.03,174.65 L142.55,176.32 L143.08,173.66 L143.61,174.88 L144.13,174.78 L144.66,174.23 L145.19,174.79 L145.61,174.71 L145.71,174.64 L146.24,173.68 L146.76,175.38 L147.29,174.99 L147.82,175.88 L148.34,174.91 L148.87,172.64 L149.39,174.18 L149.92,175.95 L150.45,176.67 L150.97,174.89 L151.50,174.84 L151.92,175.51 L152.03,176.02 L152.55,174.88 L153.08,176.03 L153.61,176.21 L154.13,176.59 L154.66,176.73 L155.18,178.38 L155.71,178.52 L156.24,179.23 L156.76,178.66 L157.29,179.80 L157.81,180.73 L158.34,180.39 L158.87,181.21 L159.39,181.25 L159.92,180.31 L160.34,182.20 L160.45,181.38 L160.97,182.84 L161.50,183.61 L162.03,183.42 L162.55,184.26 L163.08,184.09 L163.60,184.45 L164.13,184.67 L164.66,185.38 L165.18,186.43 L165.71,186.23 L166.23,186.53 L166.76,186.84 L167.29,186.77 L167.81,188.23 L168.34,188.21 L168.76,188.50 L168.87,188.79 L169.39,189.21 L169.92,188.80 L170.44,189.70 L170.97,188.78 L171.50,191.20 L172.02,189.58 L172.55,190.71 L173.08,191.49 L173.60,191.11 L174.13,191.43 L174.65,191.32 L175.18,191.49 L175.71,192.75 L176.23,192.68 L176.76,192.82 L177.29,193.18 L177.81,193.74 L178.23,193.84 L178.34,193.19 L178.87,193.83 L179.39,194.74 L179.92,194.11 L180.44,194.50 L180.97,194.66 L181.50,194.25 L182.02,194.48 L182.55,194.79 L183.07,194.86 L183.60,194.78 L184.13,195.63 L184.65,195.43 L185.18,195.01 L185.71,196.03 L186.23,196.11 L186.76,196.32 L186.86,196.07 L187.28,195.67 L187.81,196.54 L188.34,195.95 L188.86,196.81 L189.39,196.66 L189.92,196.75 L190.44,197.30 L190.97,197.67 L191.50,196.88 L192.02,197.67 L192.55,197.38 L193.07,197.46 L193.60,198.61 L194.13,197.48 L194.65,198.22 L194.65,198.15 L195.18,198.67 L195.70,199.02 L196.23,199.38 L196.76,199.34 L197.28,198.77 L197.81,200.09 L198.02,200.22 L198.34,200.54 L198.86,202.33 L199.39,201.45 L199.91,198.43 L200.44,201.66 L200.97,199.33 L201.49,203.56 L202.02,203.93 L202.55,204.82 L203.07,204.88 L203.60,203.97 L204.12,204.06 L204.65,207.11 L205.18,206.43 L205.70,206.45 L206.23,206.22 L206.44,205.80 L206.76,204.12 L207.28,204.33 L207.81,206.32 L208.33,206.28 L208.86,209.00 L209.39,207.78 L209.91,211.21 L210.44,209.22 L210.97,209.15 L211.49,208.80 L212.02,210.62 L212.54,211.04 L212.97,211.06 L213.07,212.82 L213.60,215.38 L214.12,213.83 L214.65,216.42 L215.18,214.99 L215.70,215.63 L216.23,217.94 L216.75,219.31 L217.28,217.70 L217.81,219.04 L218.23,218.55 L218.33,218.25 L218.86,218.00 L219.39,217.34 L219.91,218.66 L220.44,221.76 L220.96,220.94 L221.49,218.21 L222.02,222.88 L222.54,222.54 L223.07,220.51 L223.49,222.53 L223.60,221.91 L224.12,223.85 L224.65,222.66 L225.17,224.22 L225.70,222.26 L226.23,223.91 L226.75,223.87 L227.28,223.84 L227.81,227.18 L228.33,224.75 L228.86,224.13 L229.38,224.80 L229.91,225.86 L230.44,225.40 L230.96,223.37 L231.49,224.70 L231.91,225.72 L232.02,226.76 L232.54,224.43 L233.07,225.67 L233.59,226.93 L234.12,228.91 L234.65,225.65 L235.17,228.21 L235.70,226.23 L236.23,225.26 L236.75,225.98 L237.28,228.84 L237.80,228.55 L238.33,226.40 L238.44,227.31 L238.86,225.42 L239.38,226.49 L239.91,226.23 L240.44,222.90 L240.96,222.64 L241.49,224.17 L242.01,224.58 L242.54,222.63 L243.07,224.85 L243.59,222.29 L244.12,221.75 L244.54,221.74 L244.65,219.80 L245.17,219.99 L245.70,222.62 L246.22,216.57 L246.75,217.63 L247.28,220.58 L247.80,219.15 L248.33,215.16 L248.86,217.28 L249.38,213.44 L249.91,215.37 L250.43,213.10 L250.96,212.33 L251.07,212.17 L251.49,210.78 L252.01,209.03 L252.54,207.29 L253.07,205.55 L253.59,203.80 L254.12,202.06 L254.65,200.32 L255.17,198.57 L255.28,198.22 L255.70,197.66 L256.22,196.96 L256.75,196.26 L257.28,195.56 L257.80,194.86 L258.33,194.16 L258.85,193.46 L259.38,192.76 L259.91,192.06 L260.43,191.35 L260.96,190.65" fill="none" stroke="#0000ff" stroke-width="2.0" stroke-dasharray="8 7" stroke-linejoin="round" clip-path="url(#clip_q3)"/>
<path d="M50.46,191.45 L50.99,191.45 L51.51,191.45 L52.04,191.45 L52.56,191.45 L53.09,191.45 L53.62,191.45 L54.14,191.45 L54.67,191.45 L55.20,191.45 L55.72,191.45 L56.25,191.45 L56.77,191.45 L56.77,191.45 L57.30,189.08 L57.83,186.72 L58.35,184.35 L58.88,181.99 L59.41,179.62 L59.93,177.25 L60.14,176.31 L60.46,175.30 L60.98,173.62 L61.51,171.94 L62.04,170.26 L62.56,168.58 L63.09,166.90 L63.62,165.22 L64.14,163.54 L64.56,162.20 L64.67,162.53 L65.19,164.20 L65.72,165.86 L66.25,167.53 L66.77,169.19 L67.30,170.86 L67.51,171.52 L67.83,171.52 L68.35,171.52 L68.88,171.52 L69.41,171.52 L69.93,171.08 L70.46,172.15 L70.98,170.87 L71.51,171.52 L72.04,171.68 L72.56,173.68 L73.09,171.01 L73.61,172.43 L74.14,171.83 L74.67,170.67 L75.19,172.62 L75.72,173.12 L75.72,174.32 L76.25,173.58 L76.77,171.39 L77.30,173.85 L77.83,171.63 L78.35,171.21 L78.88,172.61 L79.40,170.84 L79.93,170.73 L79.93,170.11 L80.46,172.39 L80.98,172.86 L81.51,172.51 L82.03,173.92 L82.56,175.37 L83.09,174.90 L83.61,172.85 L84.14,173.82 L84.67,175.50 L85.19,173.90 L85.72,171.75 L86.25,175.60 L86.77,173.01 L86.88,173.92 L87.30,173.25 L87.82,174.51 L88.35,173.86 L88.88,175.51 L89.40,173.26 L89.93,173.28 L90.45,176.40 L90.98,175.88 L91.51,175.72 L92.03,176.78 L92.56,176.31 L93.09,176.78 L93.61,178.36 L94.14,178.03 L94.66,179.29 L95.19,179.82 L95.72,180.19 L96.24,180.60 L96.77,181.89 L97.30,182.91 L97.82,182.18 L98.35,182.52 L98.88,183.55 L99.40,182.90 L99.93,184.76 L100.45,185.02 L100.98,184.83 L101.51,185.91 L102.03,184.98 L102.56,186.14 L103.08,185.57 L103.61,187.74 L104.14,188.07 L104.66,187.01 L105.19,188.26 L105.72,189.41 L106.24,188.54 L106.77,190.23 L107.29,190.03 L107.82,189.94 L108.35,191.20 L108.87,192.38 L109.40,192.44 L109.93,191.89 L110.45,192.98 L110.98,193.13 L111.50,194.01 L112.03,194.37 L112.56,195.04 L113.08,194.88 L113.61,195.14 L114.14,193.87 L114.66,193.83 L114.87,193.84 L115.19,195.02 L115.72,193.63 L116.24,192.88 L116.77,192.14 L117.29,194.11 L117.82,193.04 L118.35,192.63 L118.87,192.37 L119.40,193.17 L119.93,192.19 L120.45,192.80 L120.98,192.37 L121.50,192.63 L122.03,191.83 L122.56,192.26 L123.08,191.58 L123.29,191.77 L123.61,191.52 L124.13,190.21 L124.66,189.08 L125.19,189.96 L125.71,189.97 L126.24,189.05 L126.77,188.77 L127.29,189.15 L127.82,187.29 L128.34,187.18 L128.87,185.56 L129.40,185.86 L129.92,184.50 L130.45,184.11 L130.98,184.60 L131.50,183.95 L131.71,183.48 L132.03,183.59 L132.56,183.02 L133.08,181.49 L133.61,182.04 L134.13,181.45 L134.66,181.24 L135.19,178.97 L135.71,179.86 L136.24,179.18 L136.76,179.24 L137.29,177.85 L137.82,178.15 L138.24,177.10 L138.34,177.61 L138.87,178.53 L139.40,178.05 L139.92,176.42 L140.45,175.80 L140.97,177.56 L141.50,175.93 L142.03,175.74 L142.55,173.30 L143.08,176.34 L143.61,175.91 L144.13,176.05 L144.66,174.38 L145.19,174.04 L145.61,174.71 L145.71,174.96 L146.24,173.60 L146.76,173.20 L147.29,175.31 L147.82,174.57 L148.34,175.23 L148.87,175.65 L149.39,175.58 L149.92,175.46 L150.45,176.36 L150.97,175.47 L151.50,174.83 L151.92,175.51 L152.03,176.35 L152.55,176.44 L153.08,177.16 L153.61,176.56 L154.13,177.36 L154.66,176.95 L155.18,178.36 L155.71,178.52 L156.24,179.65 L156.76,179.09 L157.29,179.92 L157.81,179.65 L158.34,180.28 L158.87,182.29 L159.39,182.40 L159.92,181.86 L160.34,182.20 L160.45,182.65 L160.97,183.75 L161.50,183.33 L162.03,182.85 L162.55,183.56 L163.08,184.68 L163.60,184.51 L164.13,184.56 L164.66,185.52 L165.18,184.98 L165.71,186.56 L166.23,185.61 L166.76,186.28 L167.29,187.15 L167.81,187.69 L168.34,188.17 L168.76,188.50 L168.87,189.01 L169.39,188.39 L169.92,188.55 L170.44,189.08 L170.97,189.62 L171.50,190.00 L172.02,190.79 L172.55,190.95 L173.08,191.63 L173.60,191.00 L174.13,191.96 L174.65,191.43 L175.18,192.44 L175.71,191.74 L176.23,191.97 L176.76,192.28 L177.29,192.76 L177.81,193.75 L178.23,193.84 L178.34,194.02 L178.87,194.36 L179.39,193.99 L179.92,193.48 L180.44,194.94 L180.97,193.39 L181.50,194.96 L182.02,195.38 L182.55,194.80 L183.07,194.58 L183.60,195.40 L184.13,195.86 L184.65,194.67 L185.18,196.17 L185.71,195.30 L186.23,195.84 L186.76,196.23 L186.86,196.07 L187.28,196.17 L187.81,196.86 L188.34,197.01 L188.86,196.48 L189.39,197.27 L189.92,197.29 L190.44,196.37 L190.97,196.35 L191.50,196.82 L192.02,197.07 L192.55,197.77 L193.07,197.75 L193.60,198.29 L194.13,199.42 L194.65,198.22 L194.65,198.13 L195.18,198.43 L195.70,198.38 L196.23,199.73 L196.76,198.92 L197.28,200.04 L197.81,200.09 L198.02,200.22 L198.34,202.21 L198.86,201.16 L199.39,199.81 L199.91,201.50 L200.44,201.20 L200.97,203.45 L201.49,201.85 L202.02,201.47 L202.55,204.50 L203.07,202.98 L203.60,205.86 L204.12,203.95 L204.65,206.78 L205.18,204.40 L205.70,205.34 L206.23,207.29 L206.44,205.80 L206.76,205.55 L207.28,207.91 L207.81,206.80 L208.33,208.65 L208.86,207.00 L209.39,208.99 L209.91,206.56 L210.44,208.38 L210.97,208.69 L211.49,211.79 L212.02,213.29 L212.54,211.87 L212.97,211.06 L213.07,208.62 L213.60,213.31 L214.12,210.96 L214.65,211.66 L215.18,215.04 L215.70,215.26 L216.23,213.83 L216.75,216.82 L217.28,217.78 L217.81,218.78 L218.23,218.55 L218.33,218.53 L218.86,219.18 L219.39,217.66 L219.91,219.48 L220.44,218.53 L220.96,220.77 L221.49,217.43 L222.02,221.58 L222.54,222.02 L223.07,223.36 L223.49,222.53 L223.60,224.99 L224.12,224.01 L224.65,222.66 L225.17,224.59 L225.70,222.18 L226.23,225.90 L226.75,226.16 L227.28,223.53 L227.81,223.62 L228.33,225.98 L228.86,223.01 L229.38,222.78 L229.91,224.44 L230.44,226.99 L230.96,223.57 L231.49,225.96 L231.91,225.72 L232.02,225.99 L232.54,225.17 L233.07,226.99 L233.59,223.96 L234.12,227.14 L234.65,224.85 L235.17,225.40 L235.70,224.10 L236.23,226.04 L236.75,225.65 L237.28,227.57 L237.80,227.47 L238.33,228.13 L238.44,227.31 L238.86,225.82 L239.38,227.35 L239.91,223.77 L240.44,225.61 L240.96,226.66 L241.49,225.43 L242.01,222.34 L242.54,224.20 L243.07,222.19 L243.59,224.80 L244.12,221.42 L244.54,221.74 L244.65,220.42 L245.17,220.02 L245.70,218.85 L246.22,220.60 L246.75,220.78 L247.28,219.51 L247.80,215.67 L248.33,215.52 L248.86,214.17 L249.38,215.34 L249.91,212.62 L250.43,213.10 L250.96,212.33 L251.07,212.17 L251.49,210.78 L252.01,209.03 L252.54,207.29 L253.07,205.55 L253.59,203.80 L254.12,202.06 L254.65,200.32 L255.17,198.57 L255.28,198.22 L255.70,197.66 L256.22,196.96 L256.75,196.26 L257.28,195.56 L257.80,194.86 L258.33,194.16 L258.85,193.46 L259.38,192.76 L259.91,192.06 L260.43,191.35 L260.96,190.65" fill="none" stroke="#ff00ff" stroke-width="1.6" stroke-dasharray="5.2 2.2 2.2 2.2" stroke-linejoin="round" clip-path="url(#clip_q3)"/>
<path d="M50.46,191.45 L50.99,191.45 L51.51,191.45 L52.04,191.45 L52.56,191.45 L53.09,191.45 L53.62,191.45 L54.14,191.45 L54.67,191.45 L55.20,191.45 L55.72,191.45 L56.25,189.46 L56.77,187.46 L57.30,185.47 L57.83,183.48 L58.35,181.49 L58.88,179.49 L59.41,177.50 L59.72,176.31 L59.93,175.48 L60.46,173.42 L60.98,171.35 L61.51,169.29 L62.04,167.23 L62.56,165.16 L63.09,163.10 L63.62,161.04 L64.14,158.97 L64.67,156.91 L65.19,154.84 L65.62,153.19 L65.72,153.47 L66.25,154.85 L66.77,156.23 L67.30,157.61 L67.83,158.99 L68.35,160.37 L68.88,161.75 L69.41,163.13 L69.93,164.51 L70.46,165.88 L70.98,167.26 L71.09,167.54 L71.51,168.71 L72.04,170.18 L72.56,171.65 L73.09,173.12 L73.61,174.59 L74.14,176.06 L74.67,177.52 L75.09,178.70 L75.19,178.89 L75.72,179.83 L76.25,180.77 L76.77,181.71 L77.30,182.65 L77.83,183.59 L78.35,184.53 L78.88,185.47 L79.40,184.96 L79.93,184.45 L80.46,183.94 L80.98,183.43 L81.51,182.92 L82.03,182.41 L82.25,182.20 L82.56,181.65 L83.09,180.73 L83.61,179.81 L84.14,178.89 L84.67,177.97 L85.19,177.04 L85.61,176.31 L85.72,176.31 L86.25,176.31 L86.77,176.31 L87.30,176.31 L87.82,176.31 L88.35,176.31 L88.88,176.31 L89.40,176.31 L89.93,176.31 L90.45,176.31 L90.98,176.31 L91.51,176.31 L92.03,176.31 L92.56,176.31 L93.09,177.03 L93.61,178.50 L94.14,176.76 L94.66,178.79 L95.19,179.38 L95.72,180.62 L96.24,181.15 L96.77,181.89 L97.30,182.07 L97.82,182.56 L98.35,183.47 L98.88,183.09 L99.40,183.57 L99.93,184.35 L100.45,185.13 L100.98,185.63 L101.51,186.12 L102.03,185.69 L102.56,186.49 L103.08,186.11 L103.61,187.63 L104.14,187.00 L104.66,187.85 L105.19,188.26 L105.72,189.11 L106.24,188.56 L106.77,189.62 L107.29,189.69 L107.82,189.99 L108.35,190.85 L108.87,191.96 L109.40,192.01 L109.93,191.98 L110.45,193.50 L110.98,193.24 L111.50,194.19 L112.03,194.86 L112.56,195.04 L113.08,195.12 L113.61,195.18 L114.14,194.39 L114.66,193.71 L114.87,193.84 L115.19,195.02 L115.72,193.89 L116.24,193.37 L116.77,193.63 L117.29,192.78 L117.82,193.63 L118.35,192.54 L118.87,192.35 L119.40,192.49 L119.93,193.20 L120.45,191.08 L120.98,192.55 L121.50,191.82 L122.03,192.87 L122.56,192.53 L123.08,191.53 L123.29,191.77 L123.61,192.57 L124.13,190.61 L124.66,189.06 L125.19,191.04 L125.71,189.64 L126.24,188.22 L126.77,188.65 L127.29,187.21 L127.82,187.20 L128.34,188.15 L128.87,188.35 L129.40,185.99 L129.92,184.55 L130.45,185.43 L130.98,183.26 L131.50,184.98 L131.71,183.48 L132.03,182.69 L132.56,182.84 L133.08,182.27 L133.61,181.95 L134.13,181.67 L134.66,180.71 L135.19,181.00 L135.71,178.88 L136.24,180.02 L136.76,178.10 L137.29,178.90 L137.82,178.60 L138.24,177.10 L138.34,176.60 L138.87,176.64 L139.40,176.70 L139.92,175.17 L140.45,177.01 L140.97,175.49 L141.50,175.80 L142.03,174.52 L142.55,176.57 L143.08,175.83 L143.61,175.79 L144.13,175.90 L144.66,176.23 L145.19,175.05 L145.61,174.71 L145.71,174.97 L146.24,175.54 L146.76,175.07 L147.29,176.31 L147.82,173.89 L148.34,174.68 L148.87,174.98 L149.39,174.64 L149.92,175.55 L150.45,175.86 L150.97,175.85 L151.50,176.07 L151.92,175.51 L152.03,175.97 L152.55,175.19 L153.08,176.84 L153.61,175.77 L154.13,176.95 L154.66,176.20 L155.18,178.53 L155.71,178.52 L156.24,179.29 L156.76,179.67 L157.29,180.82 L157.81,179.85 L158.34,180.41 L158.87,180.98 L159.39,181.41 L159.92,181.43 L160.34,182.20 L160.45,182.71 L160.97,182.52 L161.50,182.90 L162.03,183.09 L162.55,183.16 L163.08,184.03 L163.60,185.01 L164.13,184.78 L164.66,185.55 L165.18,185.79 L165.71,186.70 L166.23,186.74 L166.76,187.03 L167.29,187.53 L167.81,187.55 L168.34,187.31 L168.76,188.50 L168.87,188.57 L169.39,189.27 L169.92,189.29 L170.44,188.91 L170.97,189.70 L171.50,189.56 L172.02,190.24 L172.55,190.16 L173.08,191.12 L173.60,190.60 L174.13,191.40 L174.65,191.53 L175.18,191.44 L175.71,193.44 L176.23,192.04 L176.76,191.84 L177.29,193.39 L177.81,193.85 L178.23,193.84 L178.34,193.94 L178.87,193.67 L179.39,194.18 L179.92,194.85 L180.44,194.89 L180.97,195.35 L181.50,195.03 L182.02,195.29 L182.55,195.76 L183.07,194.95 L183.60,195.31 L184.13,195.14 L184.65,196.54 L185.18,195.24 L185.71,195.08 L186.23,196.17 L186.76,196.77 L186.86,196.07 L187.28,197.20 L187.81,195.94 L188.34,196.59 L188.86,196.49 L189.39,196.92 L189.92,197.78 L190.44,197.39 L190.97,197.31 L191.50,197.84 L192.02,197.44 L192.55,198.07 L193.07,197.42 L193.60,198.96 L194.13,197.95 L194.65,198.22 L194.65,198.29 L195.18,198.17 L195.70,198.27 L196.23,198.93 L196.76,199.39 L197.28,200.12 L197.81,200.09 L198.02,200.22 L198.34,199.03 L198.86,200.79 L199.39,200.65 L199.91,201.70 L200.44,201.66 L200.97,203.19 L201.49,198.90 L202.02,202.64 L202.55,203.83 L203.07,204.22 L203.60,203.44 L204.12,204.93 L204.65,203.55 L205.18,204.91 L205.70,204.91 L206.23,204.06 L206.44,205.80 L206.76,205.59 L207.28,205.89 L207.81,206.11 L208.33,205.34 L208.86,207.87 L209.39,206.41 L209.91,207.52 L210.44,208.31 L210.97,211.19 L211.49,209.60 L212.02,212.28 L212.54,211.58 L212.97,211.06 L213.07,211.61 L213.60,212.68 L214.12,214.64 L214.65,212.16 L215.18,214.54 L215.70,213.07 L216.23,215.73 L216.75,219.08 L217.28,215.20 L217.81,216.61 L218.23,218.55 L218.33,216.26 L218.86,219.53 L219.39,222.44 L219.91,219.68 L220.44,221.83 L220.96,221.96 L221.49,222.66 L222.02,223.23 L222.54,220.43 L223.07,223.90 L223.49,222.53 L223.60,225.94 L224.12,220.32 L224.65,224.23 L225.17,224.94 L225.70,222.25 L226.23,223.33 L226.75,226.26 L227.28,222.70 L227.81,223.08 L228.33,223.93 L228.86,227.29 L229.38,224.91 L229.91,227.80 L230.44,225.02 L230.96,224.64 L231.49,224.44 L231.91,225.72 L232.02,227.12 L232.54,223.98 L233.07,226.36 L233.59,226.69 L234.12,227.47 L234.65,225.84 L235.17,225.78 L235.70,226.83 L236.23,227.94 L236.75,225.09 L237.28,226.73 L237.80,226.02 L238.33,226.52 L238.44,227.31 L238.86,226.81 L239.38,227.48 L239.91,226.87 L240.44,226.06 L240.96,228.69 L241.49,225.54 L242.01,222.82 L242.54,223.51 L243.07,225.20 L243.59,222.07 L244.12,222.79 L244.54,221.74 L244.65,220.15 L245.17,221.21 L245.70,221.35 L246.22,219.14 L246.75,219.00 L247.28,216.91 L247.80,217.90 L248.33,214.46 L248.86,215.88 L249.38,216.52 L249.91,214.81 L250.43,213.10 L250.96,212.33 L251.07,212.17 L251.49,210.78 L252.01,209.03 L252.54,207.29 L253.07,205.55 L253.59,203.80 L254.12,202.06 L254.65,200.32 L255.17,198.57 L255.28,198.22 L255.70,197.66 L256.22,196.96 L256.75,196.26 L257.28,195.56 L257.80,194.86 L258.33,194.16 L258.85,193.46 L259.38,192.76 L259.91,192.06 L260.43,191.35 L260.96,190.65" fill="none" stroke="#008000" stroke-width="1.6" stroke-dasharray="1.5 1.3" stroke-linejoin="round" clip-path="url(#clip_q3)"/>
<rect x="50.46" y="151.46" width="210.50" height="83.49" fill="none" stroke="#767676" stroke-width="1"/>
<path d="M50.46,234.95 v-2.1 M50.46,151.46 v2.1 M92.56,234.95 v-2.1 M92.56,151.46 v2.1 M134.66,234.95 v-2.1 M134.66,151.46 v2.1 M176.76,234.95 v-2.1 M176.76,151.46 v2.1 M218.86,234.95 v-2.1 M218.86,151.46 v2.1 M260.96,234.95 v-2.1 M260.96,151.46 v2.1 M50.46,151.60 h2.1 M260.96,151.60 h-2.1 M50.46,191.45 h2.1 M260.96,191.45 h-2.1 M50.46,231.30 h2.1 M260.96,231.30 h-2.1" stroke="#767676" stroke-width="1" fill="none"/>
<path d="M327.56,197.70 L328.09,198.66 L328.61,199.61 L329.14,200.57 L329.66,201.53 L330.19,202.49 L330.72,203.44 L331.24,204.40 L331.56,204.97 L331.77,204.93 L332.29,204.82 L332.82,204.71 L333.35,204.60 L333.87,204.49 L334.40,204.39 L334.92,204.28 L335.45,204.17 L335.98,204.06 L336.50,203.95 L337.03,203.84 L337.55,203.73 L337.87,203.67 L338.08,203.63 L338.61,203.54 L339.13,203.44 L339.66,203.35 L340.18,203.26 L340.71,203.16 L341.24,203.07 L341.76,202.98 L342.29,202.88 L342.81,202.79 L343.34,202.70 L343.87,202.60 L344.39,202.51 L344.92,202.42 L345.44,202.33 L345.97,202.23 L346.29,202.18 L346.50,202.10 L347.02,201.91 L347.55,201.73 L348.07,201.54 L348.60,201.36 L349.13,201.17 L349.65,200.98 L350.18,200.80 L350.70,200.61 L351.23,200.42 L351.76,200.24 L352.28,200.05 L352.60,199.94 L352.81,199.90 L353.33,199.82 L353.86,199.73 L354.39,199.65 L354.91,199.56 L355.44,199.33 L355.96,199.10 L356.49,198.87 L357.02,198.63 L357.54,198.40 L358.07,198.17 L358.59,197.93 L359.12,197.70 L359.65,197.47 L360.17,197.23 L360.70,197.00 L361.22,196.77 L361.75,196.57 L362.28,196.37 L362.80,196.17 L363.33,195.97 L363.85,195.78 L364.38,195.58 L364.91,195.38 L365.43,195.18 L365.96,194.98 L366.48,194.79 L367.01,194.59 L367.54,194.39 L368.06,194.19 L368.59,193.99 L369.11,193.80 L369.64,193.60 L370.17,193.60 L370.69,193.60 L371.22,193.60 L371.74,193.60 L372.27,193.60 L372.80,193.60 L373.32,193.60 L373.85,193.60 L374.37,193.60 L374.90,193.60 L375.43,193.60 L375.95,193.60 L375.95,193.60 L376.48,193.77 L377.00,193.95 L377.53,194.12 L378.06,194.30 L378.58,194.47 L379.11,194.65 L379.63,194.82 L380.16,195.00 L380.69,195.17 L381.21,195.35 L381.74,195.52 L382.26,195.70 L382.79,195.87 L383.32,196.04 L383.84,196.22 L384.37,196.39 L384.89,196.52 L385.42,196.64 L385.95,196.76 L386.47,196.88 L387.00,197.00 L387.52,197.12 L388.05,197.24 L388.58,197.36 L389.10,197.49 L389.63,197.61 L390.15,197.73 L390.68,197.85 L391.21,197.97 L391.73,198.09 L392.26,198.21 L392.78,198.33 L393.31,198.46 L393.84,198.58 L394.36,198.70 L394.89,198.82 L395.41,198.85 L395.94,198.87 L396.47,198.90 L396.99,198.93 L397.52,198.96 L398.04,198.98 L398.46,199.01 L398.57,198.97 L399.10,198.81 L399.62,198.64 L400.15,198.48 L400.67,198.31 L401.20,198.15 L401.73,197.99 L402.25,197.82 L402.78,197.66 L403.30,197.49 L403.83,197.33 L404.36,197.16 L404.88,197.00 L405.41,196.83 L405.93,196.67 L406.46,196.50 L406.99,196.34 L407.51,196.18 L408.04,196.01 L408.56,195.85 L409.09,195.68 L409.20,195.65 L409.62,195.37 L410.14,195.03 L410.67,194.69 L411.19,194.35 L411.72,194.01 L412.25,193.67 L412.77,193.32 L413.30,192.98 L413.82,192.64 L414.35,192.30 L414.88,191.96 L415.40,191.61 L415.51,191.55 L415.93,190.97 L416.45,190.26 L416.98,189.54 L417.51,188.83 L418.03,188.11 L418.56,187.40 L419.08,186.68 L419.61,185.97 L420.14,185.25 L420.66,184.54 L421.19,183.82 L421.71,183.11 L421.82,182.97 L422.24,182.30 L422.77,182.37 L423.29,180.42 L423.82,179.78 L424.34,178.56 L424.87,179.09 L425.40,176.43 L425.92,176.35 L426.45,176.45 L426.97,175.76 L427.08,174.57 L427.50,174.95 L428.03,173.77 L428.55,171.60 L429.08,171.07 L429.60,171.40 L430.13,170.65 L430.66,168.06 L431.18,168.08 L431.71,168.61 L432.23,167.37 L432.34,167.11 L432.76,167.09 L433.29,166.23 L433.81,165.26 L434.34,165.69 L434.86,164.78 L435.39,164.20 L435.92,163.61 L436.44,164.24 L436.97,163.50 L437.49,161.44 L437.60,162.82 L438.02,162.62 L438.55,162.02 L439.07,161.28 L439.60,161.61 L440.12,161.04 L440.54,160.40 L440.65,159.34 L441.18,161.57 L441.70,162.54 L442.23,163.51 L442.75,164.48 L443.07,165.06 L443.28,166.01 L443.81,168.39 L444.33,170.77 L444.86,173.15 L445.38,175.53 L445.91,177.90 L446.44,180.28 L446.96,182.66 L447.28,184.09 L447.49,184.82 L448.01,186.66 L448.54,188.51 L449.07,190.35 L449.59,192.19 L450.12,194.03 L450.64,195.87 L451.17,197.71 L451.49,198.82 L451.70,199.53 L452.22,201.30 L452.75,203.07 L453.27,204.84 L453.80,206.61 L454.33,208.39 L454.64,209.45 L454.85,209.95 L455.38,211.19 L455.90,212.43 L456.43,213.68 L456.96,214.92 L457.48,216.16 L457.80,216.91 L458.01,217.00 L458.53,217.21 L459.06,217.43 L459.59,217.64 L460.11,217.86 L460.64,218.07 L461.16,218.29 L461.69,218.50 L462.22,218.72 L462.74,218.93 L463.27,219.15 L463.79,219.22 L464.32,219.29 L464.85,219.37 L465.37,219.44 L465.90,219.51 L466.42,219.58 L466.95,219.66 L467.48,219.73 L468.00,219.80 L468.53,219.88 L469.05,219.95 L469.58,220.02 L470.00,220.08 L470.11,220.02 L470.63,219.71 L471.16,219.40 L471.68,219.09 L472.21,218.77 L472.74,218.46 L473.16,218.21 L473.26,218.25 L473.79,218.43 L474.31,218.61 L474.84,218.79 L475.37,218.97 L475.89,219.15 L476.42,219.33 L476.94,219.51 L477.47,219.69 L478.00,219.88 L478.52,220.06 L479.05,220.24 L479.57,220.42 L479.68,220.45 L480.10,220.30 L480.63,220.12 L481.15,219.93 L481.68,219.74 L482.20,219.56 L482.73,219.37 L483.26,219.18 L483.78,219.00 L484.31,218.81 L484.83,218.63 L485.36,218.44 L485.89,218.25 L485.99,218.21 L486.41,218.03 L486.94,217.80 L487.46,217.56 L487.99,217.33 L488.52,217.10 L489.04,216.86 L489.57,216.63 L490.09,216.40 L490.62,216.16 L491.15,215.93 L491.67,215.70 L492.20,215.46 L492.72,215.23 L493.25,215.00 L493.57,214.86 L493.78,215.42 L494.30,216.82 L494.83,218.21 L495.35,218.68 L495.88,219.15 L496.30,210.75 L496.41,210.87 L496.93,211.45 L497.14,211.69 L497.46,210.89 L497.98,209.56 L498.51,208.22 L499.04,206.89 L499.56,205.56 L500.09,204.23 L500.09,204.23 L500.61,203.18 L501.14,202.13 L501.67,201.08 L502.19,200.03 L502.72,198.98 L503.24,197.93 L503.77,196.88 L504.30,195.83 L504.82,194.90 L505.35,193.97 L505.87,193.04 L506.40,192.10 L506.93,191.17 L507.45,190.24 L507.98,189.31 L508.50,188.38 L509.03,187.58 L509.56,186.79 L510.08,186.00 L510.61,185.20 L511.13,184.41 L511.66,183.62 L512.19,182.83 L512.71,182.03 L513.24,181.78 L513.76,181.52 L514.29,181.26 L514.82,181.01 L515.34,180.75 L515.87,180.50 L516.39,180.24 L516.92,179.98 L517.45,179.72 L517.97,179.45 L518.50,179.18 L519.02,178.92 L519.55,178.65 L520.08,178.38 L520.60,178.12 L521.13,177.85 L521.34,177.74 L521.65,177.93 L522.18,178.25 L522.71,178.57 L523.23,178.89 L523.76,179.20 L524.28,179.52 L524.81,179.84 L525.34,180.15 L525.86,180.47 L526.39,180.79 L526.60,180.91 L526.91,181.36 L527.44,182.11 L527.97,182.85 L528.49,183.60 L529.02,184.35 L529.54,185.09 L530.07,185.84 L530.60,186.58 L531.12,187.33 L531.65,188.08 L531.86,188.38 L532.17,188.93 L532.70,189.87 L533.23,190.80 L533.75,191.73 L534.28,192.66 L534.80,193.60 L535.33,194.53 L535.86,195.46 L536.38,196.39 L536.91,197.33 L537.12,197.70 L537.43,198.05 L537.96,198.63" fill="none" stroke="#ff0000" stroke-width="2.0" stroke-linejoin="round" clip-path="url(#clip_q4)"/>
<path d="M327.56,197.70 L328.09,197.70 L328.61,197.70 L329.14,197.70 L329.66,197.70 L330.19,197.70 L330.72,197.70 L331.24,197.70 L331.77,197.70 L332.29,197.70 L332.82,197.70 L333.35,197.70 L333.45,197.70 L333.87,198.60 L334.40,199.73 L334.92,200.85 L335.45,201.98 L335.98,203.11 L336.50,204.24 L337.03,205.36 L337.55,206.49 L338.08,207.62 L338.61,208.74 L339.13,209.87 L339.66,211.00 L340.18,212.12 L340.71,213.25 L341.03,213.93 L341.24,213.59 L341.76,212.75 L342.29,211.91 L342.81,211.07 L343.34,210.23 L343.87,209.39 L344.39,208.55 L344.92,207.72 L345.44,206.88 L345.97,206.04 L346.50,205.20 L347.02,204.36 L347.55,203.52 L348.07,202.68 L348.39,202.18 L348.60,202.09 L349.13,201.65 L349.65,202.45 L350.18,200.90 L350.70,200.55 L351.23,202.49 L351.76,201.80 L352.28,200.52 L352.81,200.64 L353.33,200.21 L353.86,200.62 L354.39,199.12 L354.91,199.56 L355.44,198.75 L355.96,199.05 L356.49,198.02 L357.02,198.28 L357.54,199.04 L358.07,197.89 L358.59,198.65 L359.12,197.04 L359.65,197.50 L360.17,197.37 L360.70,197.51 L361.22,196.77 L361.75,195.66 L362.28,196.49 L362.80,196.49 L363.33,196.24 L363.85,195.38 L364.38,195.31 L364.91,195.07 L365.43,194.86 L365.96,193.39 L366.48,195.09 L367.01,194.97 L367.54,195.00 L368.06,193.73 L368.59,193.15 L369.11,193.88 L369.64,193.60 L370.17,194.22 L370.69,194.21 L371.22,193.11 L371.74,193.04 L372.27,193.19 L372.80,194.09 L373.32,193.42 L373.85,193.51 L374.37,193.43 L374.90,192.95 L375.43,193.43 L375.95,193.60 L375.95,193.09 L376.48,193.72 L377.00,193.73 L377.53,193.65 L378.06,195.38 L378.58,194.71 L379.11,195.00 L379.63,195.30 L380.16,195.20 L380.69,194.06 L381.21,195.99 L381.74,194.80 L382.26,196.95 L382.79,196.12 L383.32,195.92 L383.84,195.78 L384.37,196.39 L384.89,195.99 L385.42,196.05 L385.95,197.02 L386.47,197.22 L387.00,196.36 L387.52,197.26 L388.05,198.19 L388.58,198.21 L389.10,198.17 L389.63,197.24 L390.15,197.62 L390.68,197.33 L391.21,198.29 L391.73,197.97 L392.26,197.75 L392.78,198.56 L393.31,198.11 L393.84,199.07 L394.36,198.97 L394.89,198.82 L395.41,199.13 L395.94,199.77 L396.47,198.54 L396.99,199.28 L397.52,198.95 L398.04,198.62 L398.46,199.01 L398.57,198.64 L399.10,198.31 L399.62,198.72 L400.15,198.79 L400.67,198.37 L401.20,198.15 L401.73,200.50 L402.25,199.98 L402.78,199.63 L403.30,198.98 L403.83,196.73 L404.36,198.51 L404.88,197.56 L405.41,194.89 L405.93,197.20 L406.46,195.40 L406.99,197.73 L407.51,196.48 L408.04,197.43 L408.56,196.35 L409.09,194.43 L409.20,195.65 L409.62,197.95 L410.14,194.38 L410.67,194.34 L411.19,195.24 L411.72,196.16 L412.25,193.56 L412.77,194.11 L413.30,192.63 L413.82,192.61 L414.35,189.91 L414.88,192.31 L415.40,193.14 L415.51,191.55 L415.93,190.71 L416.45,189.93 L416.98,187.52 L417.51,187.58 L418.03,187.58 L418.56,185.22 L419.08,188.46 L419.61,186.92 L420.14,186.64 L420.66,185.12 L421.19,185.88 L421.71,182.16 L421.82,182.97 L422.24,182.63 L422.77,183.65 L423.29,182.13 L423.82,179.31 L424.34,177.69 L424.87,175.12 L425.40,172.91 L425.92,175.80 L426.45,177.06 L426.97,177.92 L427.08,174.57 L427.50,173.58 L428.03,174.44 L428.55,173.10 L429.08,172.65 L429.60,171.20 L430.13,168.66 L430.66,169.27 L431.18,168.99 L431.71,169.55 L432.23,169.76 L432.34,167.11 L432.76,167.50 L433.29,166.42 L433.81,163.28 L434.34,165.29 L434.86,163.59 L435.39,165.37 L435.92,165.97 L436.44,165.21 L436.97,164.42 L437.49,159.73 L437.60,162.82 L438.02,163.04 L438.55,159.30 L439.07,160.63 L439.60,156.63 L440.12,156.18 L440.54,155.74 L440.65,156.36 L441.18,158.13 L441.70,160.99 L442.23,161.29 L442.75,164.58 L443.07,165.06 L443.28,166.01 L443.81,169.31 L444.33,171.72 L444.86,173.02 L445.38,174.35 L445.91,177.78 L446.44,180.37 L446.96,182.45 L447.28,184.09 L447.49,183.85 L448.01,186.50 L448.54,188.81 L449.07,189.52 L449.59,191.87 L450.12,192.88 L450.64,195.74 L451.17,198.63 L451.49,198.82 L451.70,200.55 L452.22,200.07 L452.75,201.79 L453.27,204.98 L453.80,206.90 L454.33,207.30 L454.64,209.45 L454.85,210.77 L455.38,211.86 L455.90,211.95 L456.43,213.97 L456.96,214.92 L457.48,216.29 L457.80,216.91 L458.01,217.00 L458.53,216.77 L459.06,215.59 L459.59,217.52 L460.11,217.02 L460.64,220.75 L461.16,218.35 L461.69,219.60 L462.22,220.31 L462.74,220.08 L463.27,219.15 L463.79,219.66 L464.32,218.10 L464.85,221.10 L465.37,219.40 L465.90,220.14 L466.42,220.01 L466.95,218.35 L467.48,219.03 L468.00,218.06 L468.53,220.08 L469.05,220.86 L469.58,220.31 L470.00,220.08 L470.11,219.70 L470.63,219.48 L471.16,220.81 L471.68,218.97 L472.21,218.48 L472.74,215.18 L473.16,218.21 L473.26,215.80 L473.79,219.55 L474.31,218.99 L474.84,220.70 L475.37,219.74 L475.89,218.74 L476.42,217.76 L476.94,220.47 L477.47,220.55 L478.00,222.68 L478.52,220.27 L479.05,221.62 L479.57,221.11 L479.68,220.45 L480.10,221.45 L480.63,220.24 L481.15,222.23 L481.68,221.66 L482.20,216.78 L482.73,221.05 L483.26,220.62 L483.78,216.60 L484.31,215.02 L484.83,220.15 L485.36,218.92 L485.89,217.81 L485.99,218.21 L486.41,215.77 L486.94,219.08 L487.46,217.88 L487.99,216.31 L488.52,216.53 L489.04,217.35 L489.57,216.80 L490.09,218.19 L490.62,216.47 L491.15,216.28 L491.67,215.39 L492.20,216.19 L492.72,214.62 L493.25,213.68 L493.57,214.86 L493.78,214.72 L494.30,214.26 L494.83,213.77 L495.35,213.66 L495.88,213.35 L496.41,213.55 L496.72,212.81 L496.93,212.03 L497.46,211.00 L497.98,208.03 L498.51,207.08 L499.04,206.62 L499.56,206.14 L500.09,204.23 L500.09,205.06 L500.61,202.29 L501.14,201.93 L501.67,200.72 L502.19,201.33 L502.72,198.29 L503.24,197.59 L503.77,197.71 L504.30,195.83 L504.82,195.25 L505.35,193.77 L505.87,193.00 L506.40,192.32 L506.93,191.25 L507.45,190.43 L507.98,189.19 L508.50,188.38 L509.03,186.48 L509.56,188.70 L510.08,186.17 L510.61,185.07 L511.13,184.19 L511.66,183.90 L512.19,184.14 L512.71,182.03 L513.24,181.53 L513.76,180.23 L514.29,182.41 L514.82,180.36 L515.34,181.00 L515.87,180.54 L516.39,181.02 L516.92,179.98 L517.45,179.97 L517.97,178.48 L518.50,178.75 L519.02,177.62 L519.55,177.77 L520.08,178.06 L520.60,176.82 L521.13,177.52 L521.34,177.74 L521.65,177.32 L522.18,178.47 L522.71,178.52 L523.23,179.41 L523.76,178.46 L524.28,180.40 L524.81,179.25 L525.34,180.30 L525.86,179.60 L526.39,180.23 L526.60,180.91 L526.91,180.00 L527.44,181.56 L527.97,184.03 L528.49,183.65 L529.02,185.22 L529.54,185.48 L530.07,184.71 L530.60,186.11 L531.12,187.85 L531.65,188.83 L531.86,188.38 L532.17,188.91 L532.70,190.77 L533.23,191.30 L533.75,191.50 L534.28,191.80 L534.80,193.14 L535.33,196.24 L535.86,195.23 L536.38,196.34 L536.91,197.02 L537.12,197.70 L537.43,196.84 L537.96,198.63" fill="none" stroke="#0000ff" stroke-width="2.0" stroke-dasharray="8 7" stroke-linejoin="round" clip-path="url(#clip_q4)"/>
<path d="M327.56,197.70 L328.09,197.70 L328.61,197.70 L329.14,197.70 L329.66,197.70 L330.19,197.70 L330.72,197.70 L331.24,197.70 L331.77,197.70 L332.29,197.70 L332.82,197.70 L333.35,197.70 L333.87,197.70 L334.40,197.70 L334.92,197.70 L334.92,197.70 L335.45,198.76 L335.98,199.82 L336.50,200.88 L337.03,201.94 L337.55,203.00 L338.08,204.06 L338.61,205.12 L339.13,206.18 L339.66,207.24 L340.18,208.30 L340.71,209.36 L341.24,210.42 L341.76,211.48 L341.87,211.69 L342.29,211.16 L342.81,210.51 L343.34,209.85 L343.87,209.20 L344.39,208.54 L344.92,207.88 L345.44,207.23 L345.97,206.57 L346.50,205.92 L347.02,205.26 L347.55,204.61 L348.07,203.95 L348.60,203.29 L349.13,202.76 L349.65,202.04 L350.18,202.91 L350.70,202.90 L351.23,203.60 L351.76,200.52 L352.28,201.10 L352.81,200.62 L353.33,201.23 L353.86,199.04 L354.39,199.00 L354.91,199.56 L355.44,199.45 L355.96,199.62 L356.49,199.20 L357.02,199.38 L357.54,198.37 L358.07,198.74 L358.59,197.39 L359.12,198.04 L359.65,197.80 L360.17,195.80 L360.70,197.68 L361.22,196.77 L361.75,198.03 L362.28,196.03 L362.80,198.11 L363.33,195.73 L363.85,194.86 L364.38,195.51 L364.91,195.37 L365.43,197.09 L365.96,194.47 L366.48,194.42 L367.01,195.68 L367.54,192.61 L368.06,195.33 L368.59,195.56 L369.11,195.48 L369.64,193.60 L370.17,193.57 L370.69,193.28 L371.22,193.19 L371.74,193.91 L372.27,194.35 L372.80,192.81 L373.32,194.43 L373.85,194.73 L374.37,192.29 L374.90,193.43 L375.43,193.16 L375.95,193.60 L375.95,193.01 L376.48,194.31 L377.00,194.44 L377.53,193.52 L378.06,194.87 L378.58,194.16 L379.11,194.73 L379.63,195.93 L380.16,194.09 L380.69,196.37 L381.21,195.13 L381.74,195.46 L382.26,194.51 L382.79,196.91 L383.32,196.55 L383.84,196.31 L384.37,196.39 L384.89,196.35 L385.42,195.83 L385.95,196.47 L386.47,196.86 L387.00,196.04 L387.52,195.17 L388.05,198.51 L388.58,197.37 L389.10,196.78 L389.63,197.53 L390.15,196.39 L390.68,198.16 L391.21,198.92 L391.73,197.28 L392.26,200.80 L392.78,198.78 L393.31,196.25 L393.84,198.55 L394.36,198.36 L394.89,198.82 L395.41,199.73 L395.94,198.90 L396.47,199.03 L396.99,197.20 L397.52,199.90 L398.04,201.56 L398.46,199.01 L398.57,198.59 L399.10,197.36 L399.62,199.29 L400.15,200.18 L400.67,199.31 L401.20,198.15 L401.73,196.53 L402.25,199.71 L402.78,197.51 L403.30,205.41 L403.83,199.07 L404.36,194.52 L404.88,197.89 L405.41,200.27 L405.93,193.14 L406.46,193.19 L406.99,197.90 L407.51,198.67 L408.04,191.72 L408.56,197.69 L409.09,196.23 L409.20,195.65 L409.62,189.33 L410.14,194.41 L410.67,196.35 L411.19,200.98 L411.72,193.89 L412.25,193.96 L412.77,195.42 L413.30,189.87 L413.82,196.97 L414.35,197.61 L414.88,194.60 L415.40,191.80 L415.51,191.55 L415.93,196.11 L416.45,194.32 L416.98,192.49 L417.51,189.13 L418.03,190.70 L418.56,184.36 L419.08,194.37 L419.61,184.89 L420.14,187.55 L420.66,183.29 L421.19,177.50 L421.71,183.66 L421.82,182.97 L422.24,181.95 L422.77,178.97 L423.29,185.39 L423.82,177.87 L424.34,176.51 L424.87,178.87 L425.40,175.38 L425.92,176.30 L426.45,178.45 L426.97,179.46 L427.08,174.57 L427.50,170.99 L428.03,167.56 L428.55,175.43 L429.08,170.80 L429.60,175.37 L430.13,172.12 L430.66,171.46 L431.18,172.87 L431.71,168.55 L432.23,164.22 L432.34,167.11 L432.76,165.17 L433.29,168.36 L433.81,161.42 L434.34,165.02 L434.86,159.28 L435.39,169.28 L435.92,154.33 L436.44,164.62 L436.97,167.57 L437.49,166.75 L437.60,162.82 L438.02,158.93 L438.55,157.76 L439.07,156.80 L439.60,156.22 L440.12,160.78 L440.54,155.74 L440.65,156.85 L441.18,166.07 L441.70,163.19 L442.23,159.94 L442.75,170.43 L443.07,165.06 L443.28,166.01 L443.81,165.81 L444.33,169.42 L444.86,174.50 L445.38,174.78 L445.91,177.35 L446.44,180.50 L446.96,182.06 L447.28,184.09 L447.49,185.19 L448.01,186.75 L448.54,187.95 L449.07,189.87 L449.59,191.86 L450.12,193.68 L450.64,194.82 L451.17,196.86 L451.49,198.82 L451.70,200.88 L452.22,202.17 L452.75,201.45 L453.27,203.11 L453.80,206.00 L454.33,208.70 L454.64,209.45 L454.85,209.03 L455.38,210.43 L455.90,214.17 L456.43,213.60 L456.96,216.49 L457.48,216.68 L457.80,216.91 L458.01,217.00 L458.53,217.13 L459.06,213.25 L459.59,222.77 L460.11,218.72 L460.64,216.42 L461.16,216.67 L461.69,216.44 L462.22,221.13 L462.74,219.25 L463.27,219.15 L463.79,220.34 L464.32,216.12 L464.85,219.70 L465.37,219.40 L465.90,219.05 L466.42,222.76 L466.95,218.40 L467.48,222.41 L468.00,219.36 L468.53,221.63 L469.05,217.04 L469.58,219.93 L470.00,220.08 L470.11,215.34 L470.63,225.12 L471.16,216.07 L471.68,217.00 L472.21,218.07 L472.74,213.11 L473.16,218.21 L473.26,221.71 L473.79,217.92 L474.31,215.59 L474.84,217.32 L475.37,219.89 L475.89,217.58 L476.42,220.34 L476.94,220.34 L477.47,221.30 L478.00,217.32 L478.52,219.30 L479.05,214.14 L479.57,218.36 L479.68,220.45 L480.10,223.90 L480.63,218.17 L481.15,222.57 L481.68,220.41 L482.20,219.22 L482.73,222.01 L483.26,220.41 L483.78,220.63 L484.31,218.47 L484.83,218.80 L485.36,218.69 L485.89,214.12 L485.99,218.21 L486.41,216.71 L486.94,216.75 L487.46,214.90 L487.99,212.81 L488.52,213.71 L489.04,219.42 L489.57,215.35 L490.09,214.52 L490.62,213.83 L491.15,216.27 L491.67,215.52 L492.20,217.61 L492.72,216.12 L493.25,217.83 L493.57,214.86 L493.78,214.72 L494.30,212.95 L494.83,214.62 L495.35,214.74 L495.88,213.02 L496.41,212.89 L496.72,212.81 L496.93,213.04 L497.46,210.51 L497.98,210.29 L498.51,207.68 L499.04,206.94 L499.56,205.32 L500.09,204.23 L500.09,204.65 L500.61,203.93 L501.14,201.84 L501.67,202.84 L502.19,198.48 L502.72,199.49 L503.24,195.61 L503.77,196.13 L504.30,195.83 L504.82,195.01 L505.35,194.64 L505.87,192.46 L506.40,191.59 L506.93,190.69 L507.45,189.30 L507.98,189.17 L508.50,188.38 L509.03,186.30 L509.56,187.65 L510.08,186.22 L510.61,184.51 L511.13,185.28 L511.66,183.57 L512.19,181.11 L512.71,182.03 L513.24,181.66 L513.76,182.05 L514.29,180.00 L514.82,182.28 L515.34,181.12 L515.87,179.30 L516.39,181.10 L516.92,179.98 L517.45,179.43 L517.97,179.53 L518.50,177.43 L519.02,180.51 L519.55,179.26 L520.08,178.75 L520.60,177.70 L521.13,177.23 L521.34,177.74 L521.65,177.46 L522.18,176.66 L522.71,177.82 L523.23,180.32 L523.76,180.82 L524.28,180.12 L524.81,180.43 L525.34,180.64 L525.86,179.30 L526.39,181.49 L526.60,180.91 L526.91,180.12 L527.44,180.82 L527.97,182.82 L528.49,184.18 L529.02,182.91 L529.54,186.04 L530.07,185.30 L530.60,186.28 L531.12,185.88 L531.65,187.68 L531.86,188.38 L532.17,188.91 L532.70,188.69 L533.23,191.22 L533.75,191.10 L534.28,192.52 L534.80,193.56 L535.33,196.19 L535.86,195.47 L536.38,197.53 L536.91,196.73 L537.12,197.70 L537.43,195.40 L537.96,198.63" fill="none" stroke="#ff00ff" stroke-width="1.6" stroke-dasharray="5.2 2.2 2.2 2.2" stroke-linejoin="round" clip-path="url(#clip_q4)"/>
<path d="M327.56,197.70 L328.09,197.70 L328.61,197.70 L329.14,197.70 L329.66,197.70 L330.19,197.70 L330.72,197.70 L331.24,197.70 L331.77,197.70 L332.29,197.70 L332.82,197.70 L333.35,198.58 L333.87,199.47 L334.40,200.35 L334.92,201.24 L335.45,202.12 L335.98,203.01 L336.50,203.89 L337.03,204.78 L337.55,205.66 L338.08,206.55 L338.61,207.43 L339.13,208.32 L339.66,209.20 L340.18,210.09 L340.71,210.97 L341.24,211.86 L341.76,212.74 L342.29,213.63 L342.81,214.51 L343.13,215.04 L343.34,214.77 L343.87,214.10 L344.39,213.42 L344.92,212.74 L345.44,212.06 L345.97,211.39 L346.50,210.71 L347.02,210.03 L347.55,209.35 L348.07,208.67 L348.60,208.00 L349.13,206.24 L349.65,206.57 L350.18,205.72 L350.70,204.44 L351.23,203.99 L351.76,203.50 L352.28,203.54 L352.81,203.34 L353.33,201.62 L353.86,201.60 L354.39,199.93 L354.91,199.71 L355.44,199.74 L355.96,198.31 L356.49,197.30 L357.02,197.02 L357.54,197.06 L358.07,195.60 L358.59,194.86 L358.91,194.72 L359.12,194.29 L359.65,194.83 L360.17,196.51 L360.70,196.67 L361.22,196.77 L361.75,196.12 L362.28,197.64 L362.80,195.59 L363.33,196.60 L363.85,196.09 L364.38,194.50 L364.91,195.43 L365.43,195.41 L365.96,194.77 L366.48,194.86 L367.01,195.05 L367.54,194.20 L368.06,192.60 L368.59,193.31 L369.11,193.47 L369.64,193.60 L370.17,193.41 L370.69,193.00 L371.22,193.13 L371.74,194.24 L372.27,193.22 L372.80,193.56 L373.32,192.32 L373.85,193.75 L374.37,192.66 L374.90,194.46 L375.43,193.36 L375.95,193.60 L375.95,194.13 L376.48,194.43 L377.00,193.36 L377.53,194.85 L378.06,194.40 L378.58,194.99 L379.11,194.35 L379.63,194.61 L380.16,196.61 L380.69,194.65 L381.21,195.80 L381.74,194.02 L382.26,195.04 L382.79,195.16 L383.32,197.80 L383.84,194.91 L384.37,196.39 L384.89,196.47 L385.42,197.61 L385.95,196.51 L386.47,195.91 L387.00,198.15 L387.52,196.32 L388.05,197.46 L388.58,197.76 L389.10,197.78 L389.63,198.19 L390.15,197.56 L390.68,197.65 L391.21,197.19 L391.73,197.05 L392.26,198.43 L392.78,197.53 L393.31,199.29 L393.84,198.10 L394.36,199.48 L394.89,198.82 L395.41,199.24 L395.94,198.42 L396.47,199.42 L396.99,198.56 L397.52,200.00 L398.04,199.49 L398.46,199.01 L398.57,198.57 L399.10,197.71 L399.62,199.47 L400.15,197.33 L400.67,198.11 L401.20,198.15 L401.73,194.69 L402.25,198.24 L402.78,198.37 L403.30,197.01 L403.83,198.88 L404.36,196.97 L404.88,197.08 L405.41,194.90 L405.93,196.16 L406.46,198.31 L406.99,198.23 L407.51,197.55 L408.04,198.99 L408.56,198.95 L409.09,192.60 L409.20,195.65 L409.62,196.57 L410.14,193.15 L410.67,195.76 L411.19,194.93 L411.72,196.48 L412.25,191.81 L412.77,193.88 L413.30,190.54 L413.82,193.65 L414.35,190.41 L414.88,189.77 L415.40,193.79 L415.51,191.55 L415.93,190.29 L416.45,191.75 L416.98,191.22 L417.51,188.64 L418.03,186.92 L418.56,185.41 L419.08,187.18 L419.61,184.51 L420.14,184.42 L420.66,184.55 L421.19,185.21 L421.71,183.05 L421.82,182.97 L422.24,177.13 L422.77,182.83 L423.29,180.87 L423.82,181.09 L424.34,176.92 L424.87,175.45 L425.40,175.29 L425.92,173.51 L426.45,175.70 L426.97,172.28 L427.08,174.57 L427.50,175.20 L428.03,170.95 L428.55,170.30 L429.08,172.67 L429.60,169.61 L430.13,171.85 L430.66,171.58 L431.18,170.83 L431.71,169.66 L432.23,168.97 L432.34,167.11 L432.76,166.95 L433.29,163.78 L433.81,166.31 L434.34,166.76 L434.86,164.07 L435.39,165.02 L435.92,164.09 L436.44,163.21 L436.97,162.72 L437.49,163.96 L437.60,162.82 L438.02,162.21 L438.55,159.19 L439.07,159.87 L439.60,158.40 L440.12,156.33 L440.54,155.74 L440.65,155.53 L441.18,158.57 L441.70,159.21 L442.23,161.99 L442.75,165.88 L443.07,165.06 L443.28,166.01 L443.81,167.92 L444.33,171.43 L444.86,170.88 L445.38,175.32 L445.91,178.13 L446.44,179.66 L446.96,181.58 L447.28,184.09 L447.49,183.71 L448.01,186.45 L448.54,187.72 L449.07,189.83 L449.59,192.13 L450.12,195.17 L450.64,195.86 L451.17,199.64 L451.49,198.82 L451.70,200.20 L452.22,200.29 L452.75,202.95 L453.27,204.88 L453.80,207.27 L454.33,209.03 L454.64,209.45 L454.85,210.46 L455.38,212.24 L455.90,214.14 L456.43,212.92 L456.96,213.70 L457.48,216.65 L457.80,216.91 L458.01,217.00 L458.53,216.23 L459.06,219.05 L459.59,217.20 L460.11,219.68 L460.64,216.90 L461.16,218.24 L461.69,220.19 L462.22,218.02 L462.74,216.80 L463.27,219.15 L463.79,219.23 L464.32,219.37 L464.85,219.37 L465.37,219.29 L465.90,217.90 L466.42,217.92 L466.95,222.43 L467.48,218.17 L468.00,220.09 L468.53,217.72 L469.05,219.37 L469.58,218.78 L470.00,220.08 L470.11,220.71 L470.63,221.48 L471.16,219.10 L471.68,217.85 L472.21,217.83 L472.74,217.46 L473.16,218.21 L473.26,217.98 L473.79,217.51 L474.31,219.71 L474.84,219.00 L475.37,221.03 L475.89,219.25 L476.42,219.76 L476.94,219.47 L477.47,218.35 L478.00,219.82 L478.52,223.88 L479.05,218.47 L479.57,220.24 L479.68,220.45 L480.10,219.31 L480.63,221.18 L481.15,218.87 L481.68,217.76 L482.20,221.70 L482.73,217.79 L483.26,220.43 L483.78,220.03 L484.31,218.83 L484.83,215.92 L485.36,220.83 L485.89,219.11 L485.99,218.21 L486.41,218.00 L486.94,216.97 L487.46,217.73 L487.99,216.79 L488.52,218.47 L489.04,215.88 L489.57,215.27 L490.09,217.86 L490.62,217.22 L491.15,215.43 L491.67,215.28 L492.20,214.79 L492.72,216.85 L493.25,215.53 L493.57,214.86 L493.78,214.72 L494.30,214.76 L494.83,213.03 L495.35,213.78 L495.88,213.74 L496.41,213.70 L496.72,212.81 L496.93,212.28 L497.46,210.05 L497.98,210.77 L498.51,208.17 L499.04,206.54 L499.56,204.08 L500.09,204.23 L500.09,203.73 L500.61,202.17 L501.14,202.11 L501.67,202.14 L502.19,201.11 L502.72,199.53 L503.24,197.84 L503.77,197.11 L504.30,195.83 L504.82,195.27 L505.35,192.62 L505.87,194.85 L506.40,192.91 L506.93,189.38 L507.45,190.02 L507.98,189.82 L508.50,188.38 L509.03,188.44 L509.56,186.20 L510.08,185.48 L510.61,184.61 L511.13,185.40 L511.66,183.53 L512.19,183.00 L512.71,182.03 L513.24,181.46 L513.76,182.75 L514.29,180.83 L514.82,179.86 L515.34,181.80 L515.87,179.85 L516.39,178.99 L516.92,179.98 L517.45,179.06 L517.97,179.50 L518.50,179.09 L519.02,179.32 L519.55,178.49 L520.08,179.18 L520.60,178.08 L521.13,178.49 L521.34,177.74 L521.65,179.03 L522.18,177.13 L522.71,179.97 L523.23,177.54 L523.76,180.85 L524.28,178.82 L524.81,179.70 L525.34,181.38 L525.86,180.86 L526.39,181.56 L526.60,180.91 L526.91,182.09 L527.44,181.45 L527.97,183.75 L528.49,185.06 L529.02,183.51 L529.54,184.80 L530.07,185.84 L530.60,186.80 L531.12,186.81 L531.65,187.80 L531.86,188.38 L532.17,189.02 L532.70,190.32 L533.23,189.99 L533.75,190.63 L534.28,192.31 L534.80,191.33 L535.33,194.36 L535.86,195.32 L536.38,195.24 L536.91,197.10 L537.12,197.70 L537.43,197.85 L537.96,198.63" fill="none" stroke="#008000" stroke-width="1.6" stroke-dasharray="1.5 1.3" stroke-linejoin="round" clip-path="url(#clip_q4)"/>
<rect x="327.56" y="151.46" width="210.40" height="83.49" fill="none" stroke="#767676" stroke-width="1"/>
<path d="M327.56,234.95 v-2.1 M327.56,151.46 v2.1 M369.64,234.95 v-2.1 M369.64,151.46 v2.1 M411.72,234.95 v-2.1 M411.72,151.46 v2.1 M453.80,234.95 v-2.1 M453.80,151.46 v2.1 M495.88,234.95 v-2.1 M495.88,151.46 v2.1 M537.96,234.95 v-2.1 M537.96,151.46 v2.1 M327.56,160.40 h2.1 M537.96,160.40 h-2.1 M327.56,197.70 h2.1 M537.96,197.70 h-2.1 M327.56,235.00 h2.1 M537.96,235.00 h-2.1" stroke="#767676" stroke-width="1" fill="none"/>
<path d="M50.46,333.90 L50.99,333.90 L51.51,333.90 L52.04,333.90 L52.56,333.90 L53.09,333.90 L53.62,333.90 L54.14,333.90 L54.67,333.90 L55.20,333.90 L55.72,333.90 L56.25,333.90 L56.77,333.90 L57.30,333.90 L57.83,333.90 L58.35,333.90 L58.88,333.90 L59.41,333.90 L59.93,333.90 L60.46,333.90 L60.98,333.90 L61.51,333.90 L62.04,333.90 L62.56,333.90 L63.09,333.90 L63.62,333.90 L64.14,333.90 L64.67,333.90 L65.19,333.90 L65.72,333.90 L66.25,333.90 L66.77,333.90 L67.30,333.90 L67.83,333.90 L68.35,333.90 L68.88,333.90 L69.41,333.90 L69.93,333.90 L70.46,333.90 L70.98,333.90 L71.51,333.90 L72.04,333.90 L72.56,333.90 L73.09,333.90 L73.61,333.90 L74.14,333.90 L74.67,333.90 L75.19,333.90 L75.72,333.90 L76.25,333.90 L76.77,333.90 L77.30,333.90 L77.83,333.90 L78.35,333.90 L78.88,333.90 L79.40,333.90 L79.93,333.90 L80.46,333.90 L80.98,333.90 L81.51,333.90 L82.03,333.90 L82.56,333.90 L83.09,333.90 L83.61,333.90 L84.14,333.90 L84.67,333.90 L85.19,333.90 L85.72,333.90 L86.25,333.90 L86.77,333.90 L87.30,333.90 L87.82,333.90 L88.35,333.90 L88.88,333.90 L89.40,333.90 L89.93,333.90 L90.45,333.90 L90.98,333.90 L91.51,333.90 L92.03,333.90 L92.56,333.90 L93.09,333.90 L93.61,333.90 L94.14,333.90 L94.66,333.90 L95.19,333.90 L95.72,333.90 L96.24,333.90 L96.77,333.90 L97.30,333.90 L97.82,333.90 L98.35,333.90 L98.88,333.90 L99.40,333.90 L99.93,333.90 L100.45,333.90 L100.98,333.90 L101.51,333.90 L102.03,333.90 L102.56,333.90 L103.08,333.90 L103.61,333.90 L104.14,333.90 L104.66,333.90 L105.19,333.90 L105.72,333.90 L106.24,333.90 L106.77,333.90 L107.29,333.90 L107.82,333.90 L108.35,333.90 L108.87,333.90 L109.40,333.90 L109.93,333.90 L110.45,333.90 L110.98,333.90 L111.50,333.90 L112.03,333.90 L112.56,333.90 L113.08,333.90 L113.61,333.90 L114.14,333.90 L114.66,333.90 L115.19,333.90 L115.72,333.90 L116.24,333.90 L116.77,333.90 L117.29,333.90 L117.82,333.90 L118.35,333.90 L118.87,333.90 L119.40,333.90 L119.93,333.90 L120.45,333.90 L120.98,333.90 L121.50,333.90 L122.03,333.90 L122.56,333.90 L123.08,333.90 L123.61,333.90 L124.13,333.90 L124.66,333.90 L125.19,333.90 L125.71,333.90 L126.24,333.90 L126.77,333.90 L127.29,333.90 L127.82,333.90 L128.34,333.90 L128.87,333.90 L129.40,333.90 L129.92,333.90 L130.45,333.90 L130.98,333.90 L131.50,333.90 L132.03,333.90 L132.56,333.90 L133.08,333.90 L133.61,333.90 L134.13,333.90 L134.66,333.90 L135.19,333.90 L135.71,333.90 L136.24,333.90 L136.76,333.90 L137.29,333.90 L137.82,333.90 L138.34,333.90 L138.87,333.90 L139.40,333.90 L139.92,333.90 L140.45,333.90 L140.97,333.90 L141.50,333.90 L142.03,333.90 L142.55,333.90 L143.08,333.90 L143.61,333.90 L144.13,333.90 L144.66,333.90 L145.19,333.90 L145.71,333.90 L146.24,333.90 L146.76,333.90 L147.29,333.90 L147.82,333.90 L148.34,333.90 L148.87,333.90 L149.39,333.90 L149.92,333.90 L150.45,333.90 L150.97,333.90 L151.50,333.90 L152.03,333.90 L152.55,333.90 L153.08,333.90 L153.61,333.90 L154.13,333.90 L154.66,333.90 L155.18,333.90 L155.71,333.90 L156.24,333.90 L156.76,333.90 L157.29,333.90 L157.81,333.90 L158.34,333.90 L158.87,333.90 L159.39,333.90 L159.92,333.90 L160.45,333.90 L160.97,333.90 L161.50,333.90 L162.03,333.90 L162.55,333.90 L163.08,333.90 L163.60,333.90 L164.13,333.90 L164.66,333.90 L165.18,333.90 L165.71,333.90 L166.23,333.90 L166.76,333.90 L167.29,333.90 L167.81,333.90 L168.34,333.90 L168.87,333.90 L169.39,333.90 L169.92,333.90 L170.44,333.90 L170.97,333.90 L171.50,333.90 L172.02,333.90 L172.55,333.90 L173.08,333.90 L173.60,333.90 L174.13,333.90 L174.65,333.90 L175.18,333.90 L175.71,333.90 L176.23,333.90 L176.76,333.90 L177.29,333.90 L177.81,333.90 L178.34,333.90 L178.87,333.90 L179.39,333.90 L179.92,333.90 L180.44,333.90 L180.97,333.90 L181.50,333.90 L182.02,333.90 L182.55,333.90 L183.07,333.90 L183.60,333.90 L184.13,333.90 L184.65,333.90 L185.18,333.90 L185.71,333.90 L186.23,333.90 L186.76,333.90 L187.28,333.90 L187.81,333.90 L188.34,333.90 L188.86,333.90 L189.39,333.90 L189.92,333.90 L190.44,333.90 L190.97,333.90 L191.50,333.90 L192.02,333.90 L192.55,333.90 L193.07,333.90 L193.60,333.90 L194.13,333.90 L194.65,333.90 L195.18,333.90 L195.70,333.90 L196.23,333.90 L196.76,333.90 L197.28,333.90 L197.81,333.90 L198.34,333.90 L198.86,333.90 L199.39,333.90 L199.91,333.90 L200.44,333.90 L200.97,333.90 L201.49,333.90 L202.02,333.90 L202.55,333.90 L203.07,333.90 L203.60,333.90 L204.12,333.90 L204.65,333.90 L205.18,333.90 L205.70,333.90 L206.23,333.90 L206.76,333.90 L207.28,333.90 L207.81,333.90 L208.33,333.90 L208.86,333.90 L209.39,333.90 L209.91,333.90 L210.44,333.90 L210.97,333.90 L211.49,333.90 L212.02,333.90 L212.54,333.90 L213.07,333.90 L213.60,333.90 L214.12,333.90 L214.65,333.90 L215.18,333.90 L215.70,333.90 L216.23,333.90 L216.75,333.90 L217.28,333.90 L217.81,333.90 L218.33,333.90 L218.86,333.90 L219.39,333.90 L219.91,333.90 L220.44,333.90 L220.96,333.90 L221.49,333.90 L222.02,333.90 L222.54,333.90 L223.07,333.90 L223.60,333.90 L224.12,333.90 L224.65,333.90 L225.17,333.90 L225.70,333.90 L226.23,333.90 L226.75,333.90 L227.28,333.90 L227.81,333.90 L228.33,333.90 L228.86,333.90 L229.38,333.90 L229.91,333.90 L230.44,333.90 L230.96,333.90 L231.49,333.90 L232.02,333.90 L232.54,333.90 L233.07,333.90 L233.59,333.90 L234.12,333.90 L234.65,333.90 L235.17,333.90 L235.70,333.90 L236.23,333.90 L236.75,333.90 L237.28,333.90 L237.80,333.90 L238.33,333.90 L238.86,333.90 L239.38,333.90 L239.91,333.90 L240.44,333.90 L240.96,333.90 L241.49,333.90 L242.01,333.90 L242.54,333.90 L243.07,333.90 L243.59,333.90 L244.12,333.90 L244.65,333.90 L245.17,333.90 L245.70,333.90 L246.22,333.90 L246.75,333.90 L247.28,333.90 L247.80,333.90 L248.33,333.90 L248.86,333.90 L249.38,333.90 L249.91,333.90 L250.43,333.90 L250.96,333.90 L251.49,333.90 L252.01,333.90 L252.54,333.90 L253.07,333.90 L253.59,333.90 L254.12,333.90 L254.65,333.90 L255.17,333.90 L255.70,333.90 L256.22,333.90 L256.75,333.90 L257.28,333.90 L257.80,333.90 L258.33,333.90 L258.85,333.90 L259.38,333.90 L259.91,333.90 L260.43,333.90 L260.96,333.90" fill="none" stroke="#ff0000" stroke-width="2.0" stroke-linejoin="round" clip-path="url(#clip_q5)"/>
<path d="M50.46,333.90 L50.88,333.90 L51.30,333.90 L51.72,333.90 L52.14,333.90 L52.56,333.90 L52.99,333.90 L53.41,333.90 L53.83,333.90 L54.25,333.90 L54.67,333.90 L55.09,333.90 L55.51,333.90 L55.93,333.90 L56.35,333.90 L56.77,333.90 L57.20,333.90 L57.62,333.90 L58.04,333.90 L58.46,333.90 L58.88,333.90 L59.30,333.90 L59.72,333.90 L60.14,333.90 L60.56,333.90 L60.98,333.90 L61.41,333.90 L61.83,333.90 L62.04,333.90 L62.25,335.35 L62.67,338.24 L63.09,344.75 L63.51,341.50 L63.93,339.87 L64.35,338.24 L64.77,337.88 L65.19,337.52 L65.62,337.15 L66.04,337.15 L66.46,337.15 L66.88,337.15 L67.30,337.15 L67.72,337.59 L68.14,338.02 L68.35,338.24 L68.56,340.08 L68.98,343.77 L69.19,345.62 L69.41,343.52 L69.83,339.32 L70.25,338.95 L70.67,338.57 L71.09,338.19 L71.51,337.81 L71.93,337.55 L72.35,337.29 L72.77,337.02 L73.19,336.76 L73.61,336.50 L74.04,336.20 L74.46,335.90 L74.88,335.59 L75.30,335.29 L75.72,334.98 L76.14,334.77 L76.56,334.55 L76.98,334.33 L77.40,334.12 L77.83,333.90 L78.25,333.90 L78.67,333.90 L79.09,333.90 L79.51,333.90 L79.93,333.90 L80.35,333.90 L80.77,333.90 L81.19,333.90 L81.61,333.90 L82.03,333.90 L82.46,333.90 L82.88,333.90 L83.30,333.90 L83.72,333.90 L84.14,333.90 L84.56,333.90 L84.98,333.90 L85.40,333.90 L85.82,333.90 L86.25,333.90 L86.67,333.90 L87.09,333.90 L87.51,333.90 L87.93,333.90 L88.35,333.90 L88.77,333.90 L89.19,333.90 L89.61,333.90 L90.03,333.90 L90.45,333.90 L90.88,333.90 L91.30,333.90 L91.72,333.90 L92.14,333.90 L92.56,333.90 L92.98,333.90 L93.40,333.90 L93.82,333.90 L94.24,333.90 L94.66,333.90 L95.09,333.90 L95.51,333.90 L95.93,333.90 L96.35,333.90 L96.77,333.90 L97.19,333.90 L97.61,333.90 L98.03,333.90 L98.45,333.90 L98.88,333.90 L99.30,333.90 L99.72,333.90 L100.14,333.90 L100.56,333.90 L100.98,333.90 L101.40,333.90 L101.82,333.90 L102.24,333.90 L102.66,333.90 L103.08,333.90 L103.51,333.90 L103.93,333.90 L104.14,333.90 L104.35,334.27 L104.77,335.02 L105.19,335.76 L105.61,336.50 L106.03,336.33 L106.45,336.16 L106.87,335.98 L107.29,335.81 L107.72,335.64 L108.14,335.20 L108.56,334.77 L108.98,334.33 L109.40,333.90 L109.40,333.90 L109.82,333.90 L110.24,333.90 L110.66,333.90 L111.08,333.90 L111.50,333.90 L111.93,333.90 L112.35,333.90 L112.56,333.90 L112.77,333.19 L113.19,331.78 L113.61,330.37 L114.03,328.96 L114.24,328.26 L114.45,329.20 L114.87,331.08 L115.29,332.96 L115.50,333.90 L115.72,333.90 L116.14,333.90 L116.56,333.90 L116.98,333.90 L117.40,333.90 L117.82,333.90 L118.24,333.90 L118.66,333.90 L119.08,333.90 L119.50,333.90 L119.93,333.90 L120.35,333.90 L120.77,333.90 L121.19,333.90 L121.61,333.90 L122.03,333.90 L122.45,333.90 L122.87,333.90 L123.29,333.90 L123.71,333.90 L124.13,333.90 L124.56,333.90 L124.98,333.90 L125.40,333.90 L125.82,333.90 L126.24,333.90 L126.66,332.89 L127.08,331.87 L127.50,330.86 L127.92,331.87 L128.34,332.89 L128.77,333.90 L129.19,333.90 L129.61,333.90 L130.03,333.90 L130.45,333.90 L130.87,333.90 L131.29,333.90 L131.71,333.90 L132.13,333.90 L132.55,333.90 L132.98,333.90 L133.40,333.90 L133.82,333.90 L134.24,333.90 L134.66,333.90 L135.08,333.90 L135.50,333.90 L135.92,333.90 L136.34,333.90 L136.76,333.90 L137.19,333.90 L137.61,333.90 L138.03,333.90 L138.45,333.90 L138.87,333.90 L139.29,333.90 L139.71,333.90 L140.13,333.90 L140.55,333.90 L140.97,333.90 L141.40,333.90 L141.82,333.90 L142.24,333.90 L142.66,333.90 L143.08,333.90 L143.50,333.90 L143.92,333.90 L144.34,333.90 L144.76,333.90 L145.19,333.90 L145.61,333.90 L146.03,333.90 L146.45,333.90 L146.87,333.90 L147.29,333.90 L147.71,333.90 L148.13,333.90 L148.55,333.90 L148.97,333.90 L149.39,333.90 L149.82,333.90 L150.24,333.90 L150.66,333.90 L151.08,333.90 L151.50,333.90 L151.92,333.90 L152.34,333.90 L152.76,333.90 L153.18,333.90 L153.61,333.90 L154.03,333.90 L154.45,333.90 L154.87,333.90 L155.29,333.90 L155.71,333.90 L156.13,333.90 L156.55,333.90 L156.97,333.90 L157.39,333.90 L157.81,333.90 L158.24,333.90 L158.66,333.90 L159.08,333.90 L159.50,333.90 L159.92,333.90 L160.34,333.90 L160.76,333.90 L161.18,333.90 L161.60,333.90 L162.02,333.90 L162.45,333.90 L162.87,333.90 L163.29,333.90 L163.71,333.90 L164.13,333.90 L164.55,333.90 L164.97,333.90 L165.39,333.90 L165.81,333.90 L166.23,333.90 L166.66,333.90 L167.08,333.90 L167.50,333.90 L167.92,333.90 L168.34,333.90 L168.76,333.90 L169.18,333.90 L169.60,333.90 L170.02,333.90 L170.44,333.90 L170.87,333.90 L171.29,333.90 L171.71,333.90 L172.13,333.90 L172.55,333.90 L172.97,333.90 L173.39,331.21 L173.81,328.52 L174.02,327.17 L174.23,328.52 L174.65,331.21 L175.08,333.90 L175.50,333.90 L175.92,333.90 L176.34,333.90 L176.76,333.90 L177.18,333.90 L177.60,333.90 L178.02,333.90 L178.44,333.90 L178.87,333.90 L179.29,333.90 L179.71,333.90 L179.92,333.90 L180.13,334.23 L180.55,334.88 L180.97,335.53 L181.39,336.18 L181.60,336.50 L181.81,336.13 L182.23,335.39 L182.65,334.64 L183.07,333.90 L183.50,333.90 L183.92,333.90 L184.34,333.90 L184.76,333.90 L185.18,333.90 L185.60,333.90 L186.02,333.90 L186.44,333.90 L186.86,333.90 L187.28,333.90 L187.71,333.90 L188.13,333.90 L188.55,333.90 L188.97,333.90 L189.39,333.90 L189.81,333.90 L190.23,333.90 L190.65,333.90 L191.07,333.90 L191.50,333.90 L191.92,333.90 L192.34,333.90 L192.76,333.90 L193.18,333.90 L193.60,333.90 L194.02,333.90 L194.44,333.90 L194.86,333.90 L195.28,333.90 L195.70,333.90 L196.13,333.90 L196.55,333.90 L196.97,333.90 L197.39,333.90 L197.81,333.90 L198.23,333.90 L198.65,333.90 L199.07,333.90 L199.49,333.90 L199.91,333.90 L200.34,333.90 L200.76,333.90 L201.18,333.90 L201.60,333.90 L202.02,333.90 L202.44,333.90 L202.86,333.90 L203.28,333.90 L203.70,333.90 L204.12,333.90 L204.55,333.90 L204.97,333.90 L205.39,333.90 L205.81,333.90 L206.23,333.90 L206.65,333.90 L207.07,333.90 L207.49,333.90 L207.91,333.90 L208.33,333.90 L208.76,333.90 L209.18,333.90 L209.60,333.90 L210.02,333.90 L210.44,333.90 L210.86,333.90 L211.28,333.90 L211.70,333.90 L212.12,333.90 L212.54,333.90 L212.97,333.90 L213.39,333.90 L213.81,333.90 L214.23,333.90 L214.65,333.90 L215.07,333.90 L215.49,333.90 L215.91,333.90 L216.33,333.90 L216.75,333.90 L217.18,333.90 L217.60,333.90 L218.02,333.90 L218.44,333.90 L218.86,333.90 L219.28,333.90 L219.70,333.90 L220.12,333.90 L220.54,333.90 L220.96,333.90 L221.39,333.90 L221.81,333.90 L222.23,333.90 L222.65,333.90 L223.07,333.90 L223.49,333.90 L223.91,333.90 L224.33,333.90 L224.75,333.90 L225.17,333.90 L225.60,333.90 L226.02,333.90 L226.44,333.90 L226.86,333.90 L227.28,333.90 L227.70,333.90 L228.12,333.90 L228.54,333.90 L228.96,333.90 L229.38,333.90 L229.81,333.90 L230.23,333.90 L230.65,333.90 L231.07,333.90 L231.49,333.90 L231.91,333.90 L232.33,333.90 L232.75,333.90 L233.17,333.90 L233.59,333.90 L234.02,333.90 L234.44,333.90 L234.86,333.90 L235.28,333.90 L235.70,333.90 L236.12,333.90 L236.54,333.90 L236.96,333.90 L237.38,333.90 L237.80,333.90 L238.23,333.90 L238.65,333.90 L239.07,333.90 L239.49,333.90 L239.91,333.90 L240.33,333.90 L240.75,333.90 L241.17,333.90 L241.59,333.90 L242.01,333.90 L242.44,333.90 L242.86,333.90 L243.28,333.90 L243.70,333.90 L244.12,333.90 L244.54,333.90 L244.96,333.90 L245.38,333.90 L245.80,333.90 L246.22,333.90 L246.65,333.90 L247.07,333.90 L247.49,333.90 L247.91,333.90 L248.33,333.90 L248.75,333.90 L249.17,333.90 L249.59,333.90 L250.01,333.90 L250.43,333.90 L250.86,333.90 L251.28,333.90 L251.70,333.90 L252.12,333.90 L252.54,333.90 L252.96,333.90 L253.38,333.90 L253.80,333.90 L254.22,333.90 L254.65,333.90 L255.07,333.90 L255.49,333.90 L255.91,333.90 L256.33,333.90 L256.75,333.90 L257.17,333.90 L257.59,333.90 L258.01,333.90 L258.43,333.90 L258.85,333.90 L259.28,333.90 L259.70,333.90 L260.12,333.90 L260.54,333.90 L260.96,333.90" fill="none" stroke="#0000ff" stroke-width="2.0" stroke-dasharray="8 7" stroke-linejoin="round" clip-path="url(#clip_q5)"/>
<path d="M50.46,333.90 L50.88,333.90 L51.30,333.90 L51.72,333.90 L52.14,333.90 L52.56,333.90 L52.99,333.90 L53.41,333.90 L53.83,333.90 L54.25,333.90 L54.67,333.90 L55.09,333.90 L55.51,333.90 L55.93,333.90 L56.35,333.90 L56.77,333.90 L57.20,333.90 L57.62,333.90 L58.04,333.90 L58.46,333.90 L58.88,333.90 L59.30,333.90 L59.72,333.90 L60.14,333.90 L60.56,333.90 L60.98,333.90 L61.41,333.90 L61.83,333.90 L62.25,333.90 L62.67,333.90 L63.09,333.90 L63.51,333.90 L63.93,336.79 L64.14,338.24 L64.35,341.17 L64.77,347.03 L64.98,349.96 L65.19,346.78 L65.62,340.41 L66.04,338.78 L66.46,337.15 L66.88,336.91 L67.30,336.67 L67.72,336.43 L68.14,336.19 L68.35,336.07 L68.56,335.96 L68.98,335.74 L69.41,335.53 L69.83,335.31 L70.25,335.09 L70.46,334.98 L70.67,334.88 L71.09,334.66 L71.51,334.44 L71.93,334.23 L72.35,334.01 L72.56,333.90 L72.77,333.90 L73.19,333.90 L73.61,333.90 L74.04,333.90 L74.46,333.90 L74.88,333.90 L75.30,333.90 L75.72,333.90 L76.14,333.90 L76.56,333.90 L76.98,333.90 L77.40,333.90 L77.83,333.90 L78.25,333.90 L78.67,333.90 L79.09,333.90 L79.51,333.90 L79.93,333.90 L80.35,333.90 L80.77,333.90 L81.19,333.90 L81.61,333.90 L82.03,333.90 L82.46,333.90 L82.88,333.90 L83.30,333.90 L83.72,333.90 L84.14,333.90 L84.56,333.90 L84.98,333.90 L85.40,333.90 L85.82,333.90 L86.25,333.90 L86.67,333.90 L87.09,333.90 L87.51,333.90 L87.93,333.90 L88.35,333.90 L88.77,333.90 L89.19,333.90 L89.61,333.90 L90.03,333.90 L90.45,333.90 L90.88,333.90 L91.30,333.90 L91.72,333.90 L92.14,333.90 L92.56,333.90 L92.98,333.90 L93.40,333.90 L93.82,333.90 L94.24,333.90 L94.66,333.90 L95.09,333.90 L95.51,333.90 L95.93,333.90 L96.35,333.90 L96.77,333.90 L97.19,333.90 L97.61,333.90 L98.03,333.90 L98.45,333.90 L98.88,333.90 L99.30,333.90 L99.72,333.90 L100.14,333.90 L100.56,333.90 L100.98,333.90 L101.40,333.90 L101.82,333.90 L102.24,333.90 L102.66,333.90 L103.08,333.90 L103.51,333.90 L103.93,333.90 L104.35,333.90 L104.77,333.90 L105.19,333.90 L105.61,333.90 L106.03,333.90 L106.45,333.90 L106.87,333.90 L107.29,333.90 L107.72,333.90 L108.14,333.90 L108.56,333.90 L108.98,333.90 L109.40,333.90 L109.82,333.90 L110.24,333.90 L110.66,333.90 L111.08,333.90 L111.50,333.90 L111.93,333.90 L112.35,333.90 L112.77,333.90 L113.19,333.90 L113.61,333.90 L114.03,333.90 L114.45,333.90 L114.87,333.90 L115.29,333.90 L115.72,333.90 L116.14,333.90 L116.56,333.90 L116.98,333.90 L117.40,333.90 L117.82,333.90 L118.24,333.90 L118.66,333.90 L119.08,333.90 L119.50,333.90 L119.93,333.90 L120.35,333.90 L120.77,333.90 L121.19,333.90 L121.61,333.90 L122.03,333.90 L122.45,333.90 L122.87,333.90 L123.29,333.90 L123.71,333.90 L124.13,333.90 L124.56,333.90 L124.98,333.90 L125.40,333.90 L125.82,333.90 L126.24,333.90 L126.66,333.90 L127.08,333.90 L127.50,333.90 L127.92,333.90 L128.34,333.90 L128.77,333.90 L129.19,333.90 L129.61,333.90 L130.03,333.90 L130.45,333.90 L130.87,333.90 L131.29,333.90 L131.71,333.90 L132.13,333.90 L132.55,333.90 L132.98,333.90 L133.40,333.90 L133.82,333.90 L134.24,333.90 L134.66,333.90 L135.08,333.90 L135.50,333.90 L135.92,333.90 L136.34,333.90 L136.76,333.90 L137.19,333.90 L137.61,333.90 L138.03,333.90 L138.45,333.90 L138.87,333.90 L139.29,333.90 L139.71,333.90 L140.13,333.90 L140.55,333.90 L140.97,333.90 L141.40,333.90 L141.82,333.90 L142.24,333.90 L142.66,333.90 L143.08,333.90 L143.50,333.90 L143.92,333.90 L144.34,333.90 L144.76,333.90 L145.19,333.90 L145.61,333.90 L146.03,333.90 L146.45,333.90 L146.87,333.90 L147.29,333.90 L147.71,333.90 L148.13,333.90 L148.55,333.90 L148.97,333.90 L149.39,333.90 L149.82,333.90 L150.24,333.90 L150.66,333.90 L151.08,333.90 L151.50,333.90 L151.92,333.90 L152.34,333.90 L152.76,333.90 L153.18,333.90 L153.61,333.90 L154.03,333.90 L154.45,333.90 L154.87,333.90 L155.29,333.90 L155.71,333.90 L156.13,333.90 L156.55,333.90 L156.97,333.90 L157.39,333.90 L157.81,333.90 L158.24,333.90 L158.66,333.90 L159.08,333.90 L159.50,333.90 L159.92,333.90 L160.34,333.90 L160.76,333.90 L161.18,333.90 L161.60,333.90 L162.02,333.90 L162.45,333.90 L162.87,333.90 L163.29,333.90 L163.71,333.90 L164.13,333.90 L164.55,333.90 L164.97,333.90 L165.39,333.90 L165.81,333.90 L166.23,333.90 L166.66,333.90 L167.08,333.90 L167.50,333.90 L167.92,333.90 L168.34,333.90 L168.76,333.90 L169.18,333.90 L169.60,333.90 L170.02,333.90 L170.44,333.90 L170.87,333.90 L171.29,333.90 L171.71,333.90 L172.13,333.90 L172.55,333.90 L172.97,333.90 L173.39,333.90 L173.81,333.90 L174.23,333.90 L174.65,333.90 L175.08,333.90 L175.50,333.90 L175.92,333.90 L176.34,333.90 L176.76,333.90 L177.18,333.90 L177.60,333.90 L178.02,333.90 L178.44,333.90 L178.87,333.90 L179.29,333.90 L179.71,333.90 L180.13,333.90 L180.55,333.90 L180.97,333.90 L181.39,333.90 L181.81,333.90 L182.23,333.90 L182.65,333.90 L183.07,333.90 L183.50,333.90 L183.92,333.90 L184.34,333.90 L184.76,333.90 L185.18,333.90 L185.60,333.90 L186.02,333.90 L186.44,333.90 L186.86,333.90 L187.28,333.90 L187.71,333.90 L188.13,333.90 L188.55,333.90 L188.97,333.90 L189.39,333.90 L189.81,333.90 L190.23,333.90 L190.65,333.90 L191.07,333.90 L191.50,333.90 L191.92,333.90 L192.34,333.90 L192.76,333.90 L193.18,333.90 L193.60,333.90 L194.02,333.90 L194.44,333.90 L194.86,333.90 L195.28,333.90 L195.70,333.90 L196.13,333.90 L196.55,333.90 L196.97,333.90 L197.39,333.90 L197.81,333.90 L198.23,333.90 L198.65,333.90 L199.07,333.90 L199.49,333.90 L199.91,333.90 L200.34,333.90 L200.76,333.90 L201.18,333.90 L201.60,333.90 L202.02,333.90 L202.44,333.90 L202.86,333.90 L203.28,333.90 L203.70,333.90 L204.12,333.90 L204.55,333.90 L204.97,333.90 L205.39,333.90 L205.81,333.90 L206.23,333.90 L206.65,333.90 L207.07,333.90 L207.49,333.90 L207.91,333.90 L208.33,333.90 L208.76,333.90 L209.18,333.90 L209.60,333.90 L210.02,333.90 L210.44,333.90 L210.86,333.90 L211.28,333.90 L211.70,333.90 L212.12,333.90 L212.54,333.90 L212.97,333.90 L213.39,333.90 L213.81,333.90 L214.23,333.90 L214.65,333.90 L215.07,333.90 L215.49,333.90 L215.91,333.90 L216.33,333.90 L216.75,333.90 L217.18,333.90 L217.60,333.90 L218.02,333.90 L218.44,333.90 L218.86,333.90 L219.28,333.90 L219.70,333.90 L220.12,333.90 L220.54,333.90 L220.96,333.90 L221.39,333.90 L221.81,333.90 L222.23,333.90 L222.65,333.90 L223.07,333.90 L223.49,333.90 L223.91,333.90 L224.33,333.90 L224.75,333.90 L225.17,333.90 L225.60,333.90 L226.02,333.90 L226.44,333.90 L226.86,333.90 L227.28,333.90 L227.70,333.90 L228.12,333.90 L228.54,333.90 L228.96,333.90 L229.38,333.90 L229.81,333.90 L230.23,333.90 L230.65,333.90 L231.07,333.90 L231.49,333.90 L231.91,333.90 L232.33,333.90 L232.75,333.90 L233.17,333.90 L233.59,333.90 L234.02,333.90 L234.44,333.90 L234.86,333.90 L235.28,333.90 L235.70,333.90 L236.12,333.90 L236.54,333.90 L236.96,333.90 L237.38,333.90 L237.80,333.90 L238.23,333.90 L238.65,333.90 L239.07,333.90 L239.49,333.90 L239.91,333.90 L240.33,333.90 L240.75,333.90 L241.17,333.90 L241.59,333.90 L242.01,333.90 L242.44,333.90 L242.86,333.90 L243.28,333.90 L243.70,333.90 L244.12,333.90 L244.54,333.90 L244.96,333.90 L245.38,333.90 L245.80,333.90 L246.22,333.90 L246.65,333.90 L247.07,333.90 L247.49,333.90 L247.91,333.90 L248.33,333.90 L248.75,333.90 L249.17,333.90 L249.59,333.90 L250.01,333.90 L250.43,333.90 L250.86,333.90 L251.28,333.90 L251.70,333.90 L252.12,333.90 L252.54,333.90 L252.96,333.90 L253.38,333.90 L253.80,333.90 L254.22,333.90 L254.65,333.90 L255.07,333.90 L255.49,333.90 L255.91,333.90 L256.33,333.90 L256.75,333.90 L257.17,333.90 L257.59,333.90 L258.01,333.90 L258.43,333.90 L258.85,333.90 L259.28,333.90 L259.70,333.90 L260.12,333.90 L260.54,333.90 L260.96,333.90" fill="none" stroke="#ff00ff" stroke-width="1.6" stroke-dasharray="5.2 2.2 2.2 2.2" stroke-linejoin="round" clip-path="url(#clip_q5)"/>
<path d="M50.46,333.90 L50.57,333.90 L50.67,333.90 L50.78,333.90 L50.88,333.90 L50.99,333.90 L51.09,333.90 L51.20,333.90 L51.30,333.90 L51.41,333.90 L51.51,333.90 L51.62,333.90 L51.72,333.90 L51.83,333.90 L51.93,333.90 L52.04,333.90 L52.14,333.90 L52.25,333.90 L52.35,333.90 L52.46,333.90 L52.56,333.90 L52.67,333.90 L52.78,333.90 L52.88,333.90 L52.99,333.90 L53.09,333.90 L53.20,333.90 L53.30,333.90 L53.41,333.90 L53.51,333.90 L53.62,333.90 L53.72,333.90 L53.83,333.90 L53.93,333.90 L54.04,333.90 L54.14,333.90 L54.25,333.90 L54.35,333.90 L54.46,333.90 L54.56,333.90 L54.67,333.90 L54.78,333.90 L54.88,333.90 L54.99,333.90 L55.09,333.90 L55.20,333.90 L55.30,333.90 L55.41,333.90 L55.51,333.90 L55.62,333.90 L55.72,333.90 L55.83,333.90 L55.93,333.90 L56.04,333.90 L56.14,333.90 L56.25,333.90 L56.35,333.90 L56.46,333.90 L56.56,333.90 L56.67,333.90 L56.77,333.90 L56.88,333.90 L56.99,333.90 L57.09,333.90 L57.20,333.90 L57.30,333.90 L57.41,333.90 L57.51,333.90 L57.62,333.90 L57.72,332.63 L57.83,331.36 L57.93,330.09 L58.04,328.82 L58.14,327.55 L58.25,326.28 L58.35,325.01 L58.46,323.74 L58.56,322.47 L58.67,321.21 L58.77,319.94 L58.88,318.67 L58.99,317.40 L59.09,316.13 L59.20,314.86 L59.30,313.59 L59.41,312.32 L59.51,311.05 L59.62,309.78 L59.72,308.51 L59.83,308.72 L59.93,308.92 L60.04,309.13 L60.14,309.34 L60.25,309.54 L60.35,309.75 L60.46,309.95 L60.56,310.16 L60.67,310.37 L60.77,310.57 L60.88,310.78 L60.98,310.98 L61.09,311.19 L61.20,311.40 L61.30,311.60 L61.41,311.81 L61.51,312.02 L61.62,312.22 L61.72,312.43 L61.83,312.63 L61.93,313.18 L62.04,313.72 L62.14,314.26 L62.25,314.80 L62.35,315.35 L62.46,315.89 L62.56,316.43 L62.67,316.97 L62.77,317.52 L62.88,318.06 L62.98,318.60 L63.09,319.14 L63.20,319.69 L63.30,320.23 L63.41,320.77 L63.51,321.31 L63.62,321.86 L63.72,322.40 L63.83,322.94 L63.93,323.48 L64.04,323.53 L64.14,323.57 L64.25,323.61 L64.35,323.66 L64.46,323.70 L64.56,323.74 L64.67,323.79 L64.77,323.83 L64.88,323.87 L64.98,323.92 L65.09,323.96 L65.19,324.00 L65.30,324.05 L65.41,324.09 L65.51,324.13 L65.62,324.18 L65.72,324.22 L65.83,324.27 L65.93,324.31 L66.04,324.35 L66.14,323.72 L66.25,323.09 L66.35,322.46 L66.46,321.83 L66.56,321.21 L66.67,320.58 L66.77,319.95 L66.88,319.32 L66.98,318.69 L67.09,318.06 L67.19,318.69 L67.30,319.32 L67.41,319.95 L67.51,320.58 L67.62,321.21 L67.72,321.83 L67.83,322.46 L67.93,323.09 L68.04,323.72 L68.14,324.35 L68.25,324.42 L68.35,324.50 L68.46,324.57 L68.56,324.64 L68.67,324.71 L68.77,324.79 L68.88,324.86 L68.98,324.93 L69.09,325.00 L69.19,325.08 L69.30,325.15 L69.41,325.22 L69.51,325.29 L69.62,325.36 L69.72,325.44 L69.83,325.51 L69.93,325.58 L70.04,325.65 L70.14,325.73 L70.25,325.80 L70.35,325.87 L70.46,325.94 L70.56,326.02 L70.67,326.09 L70.77,326.16 L70.88,326.23 L70.98,326.30 L71.09,326.38 L71.19,326.45 L71.30,326.52 L71.40,326.63 L71.51,326.74 L71.62,326.85 L71.72,326.96 L71.83,327.06 L71.93,327.17 L72.04,327.28 L72.14,327.39 L72.25,327.50 L72.35,327.61 L72.46,327.72 L72.56,327.82 L72.67,327.93 L72.77,328.04 L72.88,328.15 L72.98,328.26 L73.09,328.37 L73.19,328.47 L73.30,328.58 L73.40,328.69 L73.51,328.80 L73.61,328.91 L73.72,329.02 L73.83,329.13 L73.93,329.23 L74.04,329.34 L74.14,329.45 L74.25,329.56 L74.35,329.67 L74.46,329.78 L74.46,329.78 L74.56,329.74 L74.67,329.70 L74.77,329.67 L74.88,329.63 L74.98,329.60 L75.09,329.56 L75.19,329.52 L75.30,329.49 L75.40,329.45 L75.51,329.42 L75.61,329.38 L75.72,329.34 L75.83,329.31 L75.93,329.27 L76.04,329.23 L76.14,329.20 L76.25,329.16 L76.35,329.13 L76.46,329.09 L76.56,329.05 L76.67,329.02 L76.77,328.98 L76.88,328.95 L76.98,328.91 L77.09,328.87 L77.19,328.84 L77.30,328.80 L77.40,328.76 L77.51,328.73 L77.61,328.69 L77.72,328.80 L77.83,328.91 L77.93,329.02 L78.04,329.13 L78.14,329.23 L78.25,329.34 L78.35,329.45 L78.46,329.56 L78.56,329.67 L78.67,329.78 L78.77,329.89 L78.88,329.99 L78.98,330.10 L79.09,330.21 L79.19,330.32 L79.30,330.43 L79.40,330.54 L79.51,330.64 L79.61,330.75 L79.72,330.86 L79.72,330.86 L79.82,330.93 L79.93,331.01 L80.04,331.08 L80.14,331.15 L80.25,331.22 L80.35,331.30 L80.46,331.37 L80.56,331.44 L80.67,331.51 L80.77,331.59 L80.88,331.66 L80.98,331.73 L81.09,323.86 L81.19,316.00 L81.30,308.13 L81.40,300.26 L81.51,292.40 L81.61,284.53 L81.72,276.67 L81.82,268.80 L81.93,276.72 L82.03,284.64 L82.14,292.56 L82.25,300.48 L82.35,308.40 L82.46,316.32 L82.56,324.24 L82.67,332.16 L82.77,332.18 L82.88,332.20 L82.98,332.22 L83.09,332.24 L83.19,332.26 L83.30,332.28 L83.40,332.30 L83.51,332.32 L83.61,332.34 L83.72,332.36 L83.82,332.37 L83.93,332.39 L84.03,332.41 L84.14,332.43 L84.25,332.45 L84.35,332.47 L84.46,332.49 L84.56,332.51 L84.67,332.53 L84.77,332.55 L84.88,332.57 L84.98,332.59 L85.09,332.60 L85.19,332.62 L85.30,332.64 L85.40,332.66 L85.51,332.68 L85.61,332.70 L85.72,332.72 L85.82,332.74 L85.93,332.76 L86.03,332.78 L86.14,332.80 L86.25,332.81 L86.35,332.76 L86.46,332.71 L86.56,332.66 L86.67,332.61 L86.77,332.56 L86.88,332.51 L86.98,332.46 L87.09,332.41 L87.19,332.36 L87.30,332.31 L87.40,332.26 L87.51,332.21 L87.61,332.16 L87.72,332.11 L87.82,332.06 L87.93,332.00 L88.03,331.95 L88.14,331.90 L88.24,331.85 L88.35,331.80 L88.46,331.75 L88.56,331.70 L88.67,331.65 L88.77,331.60 L88.88,331.55 L88.98,331.50 L89.09,331.45 L89.19,331.40 L89.30,331.35 L89.40,331.30 L89.51,331.35 L89.61,331.41 L89.72,331.47 L89.82,331.53 L89.93,331.59 L90.03,331.65 L90.14,331.70 L90.24,331.76 L90.35,331.82 L90.45,331.88 L90.56,331.94 L90.67,332.00 L90.77,332.06 L90.88,332.11 L90.98,332.17 L91.09,332.23 L91.19,332.29 L91.30,332.35 L91.40,332.41 L91.51,332.46 L91.61,332.52 L91.72,332.58 L91.82,332.64 L91.93,332.70 L92.03,332.76 L92.14,332.81 L92.24,330.72 L92.35,328.63 L92.45,326.54 L92.56,324.44 L92.67,322.35 L92.77,320.26 L92.88,318.17 L92.98,316.07 L93.09,313.98 L93.19,311.89 L93.30,309.80 L93.40,307.70 L93.51,305.61 L93.61,303.52 L93.72,306.30 L93.82,309.08 L93.93,311.85 L94.03,314.63 L94.14,317.41 L94.24,320.19 L94.35,322.96 L94.45,325.74 L94.56,328.52 L94.66,331.30 L94.77,331.08 L94.88,330.86 L94.98,330.64 L95.09,330.43 L95.19,330.21 L95.30,329.99 L95.40,329.78 L95.51,329.56 L95.61,329.34 L95.72,329.13 L95.82,329.00 L95.93,328.87 L96.03,328.74 L96.14,328.61 L96.24,328.47 L96.35,328.34 L96.45,328.21 L96.56,328.08 L96.66,327.95 L96.77,327.82 L96.88,327.69 L96.98,327.56 L97.09,327.43 L97.19,327.30 L97.30,327.17 L97.40,327.04 L97.51,326.91 L97.61,326.78 L97.72,326.65 L97.82,326.52 L97.93,326.80 L98.03,327.09 L98.14,327.37 L98.24,327.65 L98.35,327.93 L98.45,328.21 L98.56,328.50 L98.66,328.78 L98.77,329.06 L98.88,329.34 L98.98,329.63 L99.09,329.91 L99.19,330.19 L99.30,330.47 L99.40,330.75 L99.51,331.04 L99.61,331.32 L99.72,331.60 L99.82,331.88 L99.93,332.16 L100.03,332.18 L100.14,332.19 L100.24,332.21 L100.35,332.22 L100.45,332.24 L100.56,332.25 L100.66,332.27 L100.77,332.28 L100.87,332.29 L100.98,332.31 L101.09,332.32 L101.19,332.34 L101.30,332.35 L101.40,332.37 L101.51,332.38 L101.61,332.40 L101.72,332.41 L101.82,332.42 L101.93,332.44 L102.03,332.45 L102.14,332.47 L102.24,332.48 L102.35,332.50 L102.45,332.51 L102.56,332.53 L102.66,332.54 L102.77,332.55 L102.87,332.57 L102.98,332.58 L103.08,332.60 L103.19,332.08 L103.30,331.56 L103.40,331.04 L103.51,330.51 L103.61,329.99 L103.72,329.47 L103.82,328.95 L103.93,328.43 L104.03,327.91 L104.14,327.39 L104.14,327.39 L104.24,327.93 L104.35,328.48 L104.45,329.02 L104.56,329.56 L104.66,330.10 L104.77,330.64 L104.87,331.19 L104.98,331.73 L105.08,332.27 L105.19,332.81 L105.30,332.84 L105.40,332.86 L105.51,332.88 L105.61,332.90 L105.72,332.92 L105.82,332.95 L105.93,332.97 L106.03,332.99 L106.14,333.01 L106.24,333.03 L106.35,333.05 L106.45,333.08 L106.56,333.10 L106.66,333.12 L106.77,333.14 L106.87,333.16 L106.98,333.18 L107.08,333.21 L107.19,333.23 L107.29,333.25 L107.40,333.27 L107.51,333.29 L107.61,333.31 L107.72,333.34 L107.82,333.36 L107.93,333.38 L108.03,333.40 L108.14,333.42 L108.24,333.44 L108.35,333.47 L108.45,333.47 L108.56,333.48 L108.66,333.49 L108.77,333.50 L108.87,333.51 L108.98,333.52 L109.08,333.53 L109.19,333.54 L109.29,333.54 L109.40,333.55 L109.51,333.56 L109.61,333.57 L109.72,333.58 L109.82,333.59 L109.93,333.60 L110.03,333.60 L110.14,333.61 L110.24,333.62 L110.35,333.63 L110.45,333.64 L110.56,333.65 L110.66,333.66 L110.77,333.67 L110.87,333.67 L110.98,333.68 L111.08,333.69 L111.19,333.70 L111.29,333.71 L111.40,333.72 L111.50,333.73 L111.61,333.74 L111.72,333.74 L111.82,333.75 L111.93,333.76 L112.03,333.77 L112.14,333.78 L112.24,333.79 L112.35,333.80 L112.45,333.80 L112.56,333.81 L112.66,333.82 L112.77,333.83 L112.87,333.84 L112.98,333.85 L113.08,333.86 L113.19,333.87 L113.29,333.87 L113.40,333.88 L113.50,333.89 L113.61,333.90 L113.72,333.90 L113.82,333.90 L113.93,333.90 L114.03,333.90 L114.14,333.90 L114.24,333.90 L114.35,333.90 L114.45,333.90 L114.56,333.90 L114.66,333.90 L114.77,333.90 L114.87,333.90 L114.98,333.90 L115.08,333.90 L115.19,333.90 L115.29,333.90 L115.40,333.90 L115.50,333.90 L115.61,333.90 L115.72,333.90 L115.82,333.90 L115.93,333.90 L116.03,333.90 L116.14,333.90 L116.24,333.90 L116.35,333.90 L116.45,333.90 L116.56,333.90 L116.66,333.90 L116.77,333.90 L116.87,333.90 L116.98,333.90 L117.08,333.90 L117.19,333.90 L117.29,333.90 L117.40,333.90 L117.50,333.90 L117.61,333.90 L117.71,333.90 L117.82,333.90 L117.93,333.90 L118.03,333.90 L118.14,333.90 L118.24,333.90 L118.35,333.90 L118.45,333.90 L118.56,333.90 L118.66,333.90 L118.77,333.90 L118.87,333.90 L118.98,333.90 L119.08,333.90 L119.19,333.90 L119.29,333.90 L119.40,333.90 L119.50,333.90 L119.61,333.90 L119.71,333.90 L119.82,333.90 L119.92,333.90 L119.93,333.90 L120.03,334.03 L120.14,334.16 L120.24,334.30 L120.35,334.43 L120.45,334.56 L120.56,334.69 L120.66,334.82 L120.77,334.95 L120.87,335.09 L120.98,335.22 L121.08,335.78 L121.19,336.34 L121.29,336.90 L121.40,337.46 L121.50,338.02 L121.61,338.58 L121.71,339.14 L121.82,339.70 L121.92,340.26 L121.97,340.49 L122.03,340.23 L122.14,339.80 L122.24,339.37 L122.35,338.94 L122.45,338.51 L122.56,338.08 L122.66,337.65 L122.77,337.22 L122.87,336.79 L122.98,336.36 L123.08,335.93 L123.19,335.50 L123.29,335.88 L123.40,336.27 L123.50,336.65 L123.61,337.03 L123.71,337.41 L123.82,337.80 L123.92,338.18 L124.03,338.56 L124.13,338.95 L124.16,339.02 L124.24,338.69 L124.35,338.27 L124.45,337.86 L124.56,337.44 L124.66,337.03 L124.77,336.61 L124.87,336.20 L124.98,335.78 L125.08,335.37 L125.15,335.12 L125.19,335.45 L125.29,336.30 L125.40,337.14 L125.50,337.98 L125.61,338.83 L125.71,339.67 L125.82,340.51 L125.92,341.36 L126.03,342.20 L126.13,343.04 L126.16,343.21 L126.24,342.32 L126.35,341.20 L126.45,340.08 L126.56,338.96 L126.66,337.84 L126.77,336.72 L126.87,335.60 L126.96,334.71 L126.98,334.81 L127.08,335.31 L127.19,335.81 L127.29,336.31 L127.40,336.81 L127.50,337.31 L127.61,337.81 L127.71,338.31 L127.82,338.81 L127.84,338.91 L127.92,338.10 L128.03,337.09 L128.13,336.07 L128.24,337.81 L128.34,339.54 L128.45,341.28 L128.56,343.01 L128.66,341.28 L128.77,339.54 L128.87,337.81 L128.98,336.07 L129.08,337.13 L129.19,338.18 L129.29,339.24 L129.40,340.30 L129.50,341.35 L129.59,342.20 L129.61,341.96 L129.71,340.79 L129.82,339.61 L129.92,338.44 L130.03,337.26 L130.13,336.09 L130.24,334.91 L130.26,334.68 L130.34,335.10 L130.45,335.63 L130.56,336.17 L130.66,336.70 L130.77,337.23 L130.87,337.76 L130.98,338.29 L131.08,338.82 L131.19,339.36 L131.29,339.89 L131.33,340.10 L131.40,339.82 L131.50,339.36 L131.61,338.90 L131.71,338.44 L131.82,337.98 L131.92,337.52 L132.03,337.06 L132.13,336.60 L132.24,336.14 L132.34,335.68 L132.45,335.22 L132.49,335.03 L132.55,335.40 L132.66,336.00 L132.77,336.61 L132.87,337.21 L132.98,337.82 L133.08,338.42 L133.19,339.03 L133.29,339.63 L133.40,340.24 L133.50,340.84 L133.52,340.97 L133.61,340.51 L133.71,339.94 L133.82,339.37 L133.92,338.80 L134.03,338.23 L134.13,337.66 L134.24,337.09 L134.34,336.52 L134.45,335.95 L134.51,335.61 L134.55,335.73 L134.66,336.03 L134.77,336.34 L134.87,336.65 L134.98,336.95 L135.08,337.26 L135.19,337.56 L135.29,337.87 L135.40,338.17 L135.48,338.42 L135.50,338.30 L135.61,337.71 L135.71,337.13 L135.82,336.54 L135.92,335.96 L136.03,335.38 L136.13,334.79 L136.18,334.56 L136.24,334.85 L136.34,335.34 L136.45,335.83 L136.55,336.32 L136.66,336.81 L136.76,337.30 L136.87,337.79 L136.89,337.89 L136.98,337.64 L137.08,337.33 L137.19,337.01 L137.29,336.70 L137.40,336.38 L137.50,336.07 L137.61,335.76 L137.71,335.44 L137.71,335.44 L137.82,336.27 L137.92,337.10 L138.03,337.92 L138.13,338.75 L138.24,339.57 L138.34,340.40 L138.45,341.23 L138.55,342.05 L138.58,342.22 L138.66,341.70 L138.76,341.04 L138.87,340.39 L138.98,339.73 L139.08,339.08 L139.19,338.43 L139.29,337.77 L139.40,337.12 L139.50,336.46 L139.61,335.81 L139.71,335.16 L139.78,334.76 L139.82,335.13 L139.92,336.03 L140.03,336.93 L140.13,337.84 L140.24,338.74 L140.34,339.64 L140.45,340.55 L140.55,341.45 L140.58,341.63 L140.66,341.15 L140.76,340.54 L140.87,339.93 L140.97,339.32 L141.08,338.71 L141.19,338.10 L141.29,337.49 L141.40,336.88 L141.50,336.27 L141.56,335.90 L141.61,336.03 L141.71,336.35 L141.82,336.67 L141.92,336.99 L142.03,337.31 L142.13,337.63 L142.24,337.95 L142.34,338.27 L142.45,338.59 L142.55,338.91 L142.57,338.97 L142.66,338.72 L142.76,338.40 L142.87,338.08 L142.97,337.76 L143.08,337.44 L143.19,337.12 L143.29,336.80 L143.40,336.48 L143.50,336.16 L143.61,335.84 L143.71,335.52 L143.75,335.39 L143.82,335.75 L143.92,336.36 L144.03,336.96 L144.13,337.56 L144.24,338.16 L144.34,338.76 L144.45,339.37 L144.55,339.97 L144.66,340.57 L144.76,341.17 L144.83,341.53 L144.87,340.89 L144.97,339.28 L145.08,337.68 L145.19,336.07 L145.29,338.02 L145.40,339.98 L145.50,341.93 L145.61,343.88 L145.61,343.88 L145.71,341.93 L145.82,339.98 L145.92,338.02 L146.03,336.07 L146.03,336.07 L146.13,336.25 L146.24,336.42 L146.34,336.60 L146.45,336.77 L146.55,336.95 L146.66,337.12 L146.76,337.30 L146.83,337.40 L146.87,337.35 L146.97,337.22 L147.08,337.09 L147.18,336.96 L147.29,336.83 L147.40,336.70 L147.50,336.57 L147.61,336.44 L147.71,336.31 L147.77,336.23 L147.82,336.58 L147.92,337.43 L148.03,338.29 L148.13,339.15 L148.24,340.01 L148.34,340.87 L148.45,341.73 L148.51,342.25 L148.55,341.98 L148.66,341.32 L148.76,340.65 L148.87,339.99 L148.97,339.32 L149.08,338.66 L149.18,338.00 L149.29,337.33 L149.39,336.67 L149.50,336.00 L149.54,335.74 L149.61,335.89 L149.71,336.14 L149.82,336.39 L149.92,336.64 L150.03,336.89 L150.13,337.14 L150.24,337.39 L150.34,337.65 L150.45,337.37 L150.55,337.10 L150.66,336.83 L150.76,336.56 L150.87,336.28 L150.97,336.01 L151.08,335.74 L151.16,335.52 L151.18,335.60 L151.29,335.99 L151.39,336.38 L151.50,336.78 L151.61,337.17 L151.71,337.56 L151.82,337.95 L151.92,338.34 L152.03,338.74 L152.05,338.81 L152.13,338.53 L152.24,338.17 L152.34,337.81 L152.45,337.45 L152.55,337.09 L152.66,336.73 L152.76,336.37 L152.87,336.01 L152.93,335.80 L152.97,336.05 L153.08,336.70 L153.18,337.34 L153.29,337.99 L153.39,338.64 L153.50,339.28 L153.61,339.93 L153.71,340.57 L153.73,340.70 L153.82,340.31 L153.92,339.82 L154.03,339.33 L154.13,338.84 L154.24,338.35 L154.34,337.86 L154.45,337.37 L154.55,336.88 L154.64,336.49 L154.66,336.59 L154.76,337.08 L154.87,337.58 L154.97,338.08 L155.08,338.58 L155.18,339.07 L155.29,339.57 L155.39,340.07 L155.50,340.57 L155.60,341.06 L155.71,341.56 L155.77,341.86 L155.82,341.56 L155.92,340.83 L156.03,340.09 L156.13,339.36 L156.24,338.62 L156.34,337.88 L156.45,337.15 L156.55,336.41 L156.66,335.67 L156.76,334.94 L156.87,335.72 L156.97,336.51 L157.08,337.29 L157.18,338.08 L157.29,338.87 L157.39,339.65 L157.50,340.44 L157.60,341.22 L157.71,342.01 L157.79,342.64 L157.81,342.40 L157.92,341.20 L158.03,340.00 L158.13,338.80 L158.24,337.60 L158.34,336.40 L158.45,335.20 L158.55,334.00 L158.66,334.56 L158.76,335.12 L158.87,335.68 L158.97,336.23 L159.08,336.79 L159.18,337.35 L159.29,337.91 L159.39,338.46 L159.48,338.91 L159.50,338.83 L159.60,338.44 L159.71,338.05 L159.81,337.65 L159.92,337.26 L160.03,336.87 L160.13,336.47 L160.24,336.08 L160.34,335.69 L160.45,335.29 L160.55,334.90 L160.64,334.59 L160.66,334.63 L160.76,334.83 L160.87,335.04 L160.97,335.25 L161.08,335.45 L161.18,335.66 L161.29,335.86 L161.39,336.07 L161.50,339.00 L161.60,341.93 L161.71,344.86 L161.81,347.79 L161.92,344.86 L162.02,341.93 L162.13,339.00 L162.24,336.07 L162.24,336.07 L162.34,335.92 L162.45,335.78 L162.55,335.63 L162.66,335.49 L162.76,335.34 L162.87,335.20 L162.95,335.08 L162.97,335.25 L163.08,336.07 L163.18,336.90 L163.29,337.73 L163.39,338.56 L163.50,339.38 L163.60,340.21 L163.71,341.04 L163.81,341.87 L163.92,342.69 L164.02,343.52 L164.02,343.52 L164.13,342.28 L164.24,341.04 L164.34,339.79 L164.45,338.55 L164.55,337.31 L164.66,336.06 L164.76,334.82 L164.78,334.57 L164.87,335.02 L164.97,335.58 L165.08,336.14 L165.18,336.70 L165.29,337.26 L165.39,337.82 L165.50,338.39 L165.60,338.95 L165.71,339.51 L165.73,339.62 L165.81,339.37 L165.92,339.07 L166.02,338.76 L166.13,338.45 L166.23,338.15 L166.34,337.84 L166.45,337.53 L166.55,337.23 L166.66,336.92 L166.76,336.61 L166.87,336.30 L166.97,336.49 L167.08,336.68 L167.18,336.86 L167.29,337.05 L167.39,337.24 L167.50,337.42 L167.60,337.61 L167.71,337.80 L167.81,337.98 L167.83,338.02 L167.92,337.70 L168.02,337.31 L168.13,336.91 L168.23,336.52 L168.34,336.12 L168.45,335.72 L168.55,335.33 L168.66,334.93 L168.72,334.70 L168.76,334.86 L168.87,335.28 L168.97,335.70 L169.08,336.12 L169.18,336.54 L169.29,336.96 L169.39,337.38 L169.50,337.80 L169.60,338.22 L169.71,338.64 L169.75,338.81 L169.81,338.56 L169.92,338.14 L170.02,337.73 L170.13,337.31 L170.23,336.90 L170.34,336.48 L170.44,336.07 L170.55,340.08 L170.66,344.10 L170.76,348.11 L170.87,352.13 L170.97,348.11 L171.08,344.10 L171.18,340.08 L171.29,336.07 L171.29,336.07 L171.39,336.05 L171.50,336.03 L171.60,336.01 L171.71,335.98 L171.81,335.96 L171.92,335.94 L172.02,335.92 L172.13,335.90 L172.15,335.89 L172.23,335.78 L172.34,335.63 L172.44,335.49 L172.55,335.34 L172.66,335.20 L172.76,335.05 L172.87,334.91 L172.97,334.77 L173.08,334.62 L173.18,334.48 L173.29,334.33 L173.39,334.19 L173.50,334.04 L173.60,333.90 L173.60,333.90 L173.71,333.90 L173.81,333.90 L173.92,333.90 L174.02,333.90 L174.13,333.90 L174.23,333.90 L174.34,333.90 L174.44,333.90 L174.55,333.90 L174.65,333.90 L174.76,333.90 L174.87,333.90 L174.97,333.90 L175.08,333.90 L175.18,333.90 L175.29,333.90 L175.39,333.90 L175.50,333.90 L175.60,333.90 L175.71,333.90 L175.81,333.90 L175.92,333.90 L176.02,333.90 L176.13,333.90 L176.23,333.90 L176.34,333.90 L176.44,333.90 L176.55,333.90 L176.65,333.90 L176.76,333.90 L176.87,333.90 L176.97,333.90 L177.08,333.90 L177.18,333.90 L177.29,333.90 L177.39,333.90 L177.50,333.90 L177.60,333.90 L177.71,333.90 L177.81,333.90 L177.92,333.90 L178.02,333.90 L178.13,333.90 L178.23,333.90 L178.34,333.90 L178.44,333.90 L178.55,333.90 L178.65,333.90 L178.76,333.90 L178.87,333.90 L178.97,333.90 L179.08,333.90 L179.18,333.90 L179.29,333.90 L179.39,333.90 L179.50,333.90 L179.60,333.90 L179.71,333.90 L179.81,333.90 L179.92,333.90 L180.02,333.90 L180.13,333.90 L180.23,333.90 L180.34,333.90 L180.44,333.90 L180.55,333.90 L180.65,333.90 L180.76,333.90 L180.86,333.90 L180.97,333.90 L181.08,333.90 L181.18,333.90 L181.29,333.90 L181.39,333.90 L181.50,333.90 L181.60,333.90 L181.71,333.90 L181.81,333.90 L181.92,333.90 L182.02,333.90 L182.13,333.90 L182.23,333.90 L182.34,333.90 L182.44,333.90 L182.55,333.90 L182.65,333.90 L182.76,333.90 L182.86,333.90 L182.97,333.90 L183.07,333.90 L183.18,333.90 L183.29,333.90 L183.39,333.90 L183.50,333.90 L183.60,333.90 L183.71,333.90 L183.81,333.90 L183.92,333.90 L184.02,333.90 L184.13,333.90 L184.23,333.90 L184.34,333.90 L184.44,333.90 L184.55,333.90 L184.65,333.90 L184.76,333.90 L184.86,333.90 L184.97,333.90 L185.07,333.90 L185.18,333.90 L185.29,333.90 L185.39,333.90 L185.50,333.90 L185.60,333.90 L185.71,333.90 L185.81,333.90 L185.92,333.90 L186.02,333.90 L186.13,333.90 L186.23,333.90 L186.34,333.90 L186.44,333.90 L186.55,333.90 L186.65,333.90 L186.76,333.90 L186.86,333.90 L186.97,333.90 L187.07,333.90 L187.18,333.90 L187.28,333.90 L187.39,333.90 L187.50,333.90 L187.60,333.90 L187.71,333.90 L187.81,333.90 L187.92,333.90 L188.02,333.90 L188.13,333.90 L188.23,333.90 L188.34,333.90 L188.44,333.90 L188.55,333.90 L188.65,333.90 L188.76,333.90 L188.86,333.90 L188.97,333.90 L189.07,333.90 L189.18,333.90 L189.28,333.90 L189.39,333.90 L189.50,333.90 L189.60,333.90 L189.71,333.90 L189.81,333.90 L189.92,333.90 L190.02,333.90 L190.13,333.90 L190.23,333.90 L190.34,333.90 L190.44,333.90 L190.55,333.90 L190.65,333.90 L190.76,333.90 L190.86,333.90 L190.97,333.90 L191.07,333.90 L191.18,333.90 L191.28,333.90 L191.39,333.90 L191.50,333.90 L191.60,333.90 L191.71,333.90 L191.81,333.90 L191.92,333.90 L192.02,333.90 L192.13,333.90 L192.23,333.90 L192.34,333.90 L192.44,333.90 L192.55,333.90 L192.65,333.90 L192.76,333.90 L192.86,333.90 L192.97,333.90 L193.07,333.90 L193.18,333.90 L193.28,333.90 L193.39,333.90 L193.49,333.90 L193.60,333.90 L193.71,333.90 L193.81,333.90 L193.92,333.90 L194.02,333.90 L194.13,333.90 L194.23,333.90 L194.34,333.90 L194.44,333.90 L194.55,333.90 L194.65,333.90 L194.76,333.90 L194.86,333.90 L194.97,333.90 L195.07,333.90 L195.18,333.90 L195.28,333.90 L195.39,333.90 L195.49,333.90 L195.60,333.90 L195.70,333.90 L195.81,333.90 L195.92,333.90 L196.02,333.90 L196.13,333.90 L196.23,333.90 L196.34,333.90 L196.44,333.90 L196.55,333.90 L196.65,333.90 L196.76,333.90 L196.86,333.90 L196.97,333.90 L197.07,333.90 L197.18,333.90 L197.28,333.90 L197.39,333.90 L197.49,333.90 L197.60,333.90 L197.70,333.90 L197.81,333.90 L197.92,333.90 L198.02,333.90 L198.13,333.90 L198.23,333.90 L198.34,333.90 L198.44,333.90 L198.55,333.90 L198.65,333.90 L198.76,333.90 L198.86,333.90 L198.97,333.90 L199.07,333.90 L199.18,333.90 L199.28,333.90 L199.39,333.90 L199.49,333.90 L199.60,333.90 L199.70,333.90 L199.81,333.90 L199.91,333.90 L200.02,333.90 L200.13,333.90 L200.23,333.90 L200.34,333.90 L200.44,333.90 L200.55,333.90 L200.65,333.90 L200.76,333.90 L200.86,333.90 L200.97,333.90 L201.07,333.90 L201.18,333.90 L201.28,333.90 L201.39,333.90 L201.49,333.90 L201.60,333.90 L201.70,333.90 L201.81,333.90 L201.91,333.90 L202.02,333.90 L202.13,333.90 L202.23,333.90 L202.34,333.90 L202.44,333.90 L202.55,333.90 L202.65,333.90 L202.76,333.90 L202.86,333.90 L202.97,333.90 L203.07,333.90 L203.18,333.90 L203.28,333.90 L203.39,333.90 L203.49,333.90 L203.60,333.90 L203.70,333.90 L203.81,333.90 L203.91,333.90 L204.02,333.90 L204.12,333.90 L204.23,333.90 L204.34,333.90 L204.44,333.90 L204.55,333.90 L204.65,333.90 L204.76,333.90 L204.86,333.90 L204.97,333.90 L205.07,333.90 L205.18,333.90 L205.28,333.90 L205.39,333.90 L205.49,333.90 L205.60,333.90 L205.70,333.90 L205.81,333.90 L205.91,333.90 L206.02,333.90 L206.12,333.90 L206.23,333.90 L206.34,333.90 L206.44,333.90 L206.55,333.90 L206.65,333.90 L206.76,333.90 L206.86,333.90 L206.97,333.90 L207.07,333.90 L207.18,333.90 L207.28,333.90 L207.39,333.90 L207.49,333.90 L207.60,333.90 L207.70,333.90 L207.81,333.90 L207.91,333.90 L208.02,333.90 L208.12,333.90 L208.23,333.90 L208.33,333.90 L208.44,333.90 L208.55,333.90 L208.65,333.90 L208.76,333.90 L208.86,333.90 L208.97,333.90 L209.07,333.90 L209.18,333.90 L209.28,333.90 L209.39,333.90 L209.49,333.90 L209.60,333.90 L209.70,333.90 L209.81,333.90 L209.91,333.90 L210.02,333.90 L210.12,333.90 L210.23,333.90 L210.33,333.90 L210.44,333.90 L210.55,333.90 L210.65,333.90 L210.76,333.90 L210.86,333.90 L210.97,333.90 L211.07,333.90 L211.18,333.90 L211.28,333.90 L211.39,333.90 L211.49,333.90 L211.60,333.90 L211.70,333.90 L211.81,333.90 L211.91,333.90 L212.02,333.90 L212.12,333.90 L212.23,333.90 L212.33,333.90 L212.44,333.90 L212.54,333.90 L212.65,333.90 L212.76,333.90 L212.86,333.90 L212.97,333.90 L213.07,333.90 L213.18,333.90 L213.28,333.90 L213.39,333.90 L213.49,333.90 L213.60,333.90 L213.70,333.90 L213.81,333.90 L213.91,333.90 L214.02,333.90 L214.12,333.90 L214.23,333.90 L214.33,333.90 L214.44,333.90 L214.54,333.90 L214.65,333.90 L214.76,333.90 L214.86,333.90 L214.97,333.90 L215.07,333.90 L215.18,333.90 L215.28,333.90 L215.39,333.90 L215.49,333.90 L215.60,333.90 L215.70,333.90 L215.81,333.90 L215.91,333.90 L216.02,333.90 L216.12,333.90 L216.23,333.90 L216.33,333.90 L216.44,333.90 L216.54,333.90 L216.65,333.90 L216.75,333.90 L216.86,333.90 L216.97,333.90 L217.07,333.90 L217.18,333.90 L217.28,333.90 L217.39,333.90 L217.49,333.90 L217.60,333.90 L217.70,333.90 L217.81,333.90 L217.91,333.90 L218.02,333.90 L218.12,333.90 L218.23,333.90 L218.33,333.90 L218.44,333.90 L218.54,333.90 L218.65,333.90 L218.75,333.90 L218.86,333.90 L218.97,333.90 L219.07,333.90 L219.18,333.90 L219.28,333.90 L219.39,333.90 L219.49,333.90 L219.60,333.90 L219.70,333.90 L219.81,333.90 L219.91,333.90 L220.02,333.90 L220.12,333.90 L220.23,333.90 L220.33,333.90 L220.44,333.90 L220.54,333.90 L220.65,333.90 L220.75,333.90 L220.86,333.90 L220.96,333.90 L221.07,333.90 L221.18,333.90 L221.28,333.90 L221.39,333.90 L221.49,333.90 L221.60,333.90 L221.70,333.90 L221.81,333.90 L221.91,333.90 L222.02,333.90 L222.12,334.09 L222.23,334.28 L222.33,334.47 L222.44,334.66 L222.54,334.85 L222.65,335.04 L222.75,335.23 L222.86,335.42 L222.96,335.61 L223.07,335.80 L223.18,336.53 L223.28,337.26 L223.39,337.99 L223.49,338.72 L223.60,339.45 L223.70,340.18 L223.81,340.91 L223.91,339.29 L224.02,337.68 L224.12,336.07 L224.23,337.97 L224.33,339.87 L224.44,341.77 L224.54,343.66 L224.65,341.77 L224.75,339.87 L224.86,337.97 L224.96,336.07 L224.96,336.07 L225.07,336.39 L225.17,336.71 L225.28,337.02 L225.39,337.34 L225.49,337.66 L225.60,337.98 L225.70,338.30 L225.81,338.61 L225.91,338.93 L226.02,339.25 L226.12,339.57 L226.23,339.89 L226.27,340.01 L226.33,339.66 L226.44,339.07 L226.54,338.47 L226.65,337.88 L226.75,337.29 L226.86,336.70 L226.96,336.11 L227.07,335.51 L227.17,334.92 L227.24,334.57 L227.28,334.74 L227.39,335.19 L227.49,335.64 L227.60,336.08 L227.70,336.53 L227.81,336.97 L227.91,337.42 L228.02,337.86 L228.12,338.31 L228.23,338.76 L228.29,339.02 L228.33,338.86 L228.44,338.46 L228.54,338.05 L228.65,337.65 L228.75,337.25 L228.86,336.84 L228.96,336.44 L229.07,336.04 L229.17,335.63 L229.28,335.23 L229.30,335.15 L229.38,335.48 L229.49,335.90 L229.60,336.31 L229.70,336.73 L229.81,337.15 L229.91,337.56 L230.02,337.98 L230.12,338.40 L230.23,338.81 L230.33,339.23 L230.40,339.48 L230.44,339.25 L230.54,338.67 L230.65,338.09 L230.75,337.51 L230.86,336.93 L230.96,336.35 L231.07,335.77 L231.17,335.19 L231.26,334.73 L231.28,334.89 L231.38,335.67 L231.49,336.46 L231.60,337.24 L231.70,338.03 L231.81,338.82 L231.91,339.60 L232.02,340.39 L232.12,341.17 L232.23,341.96 L232.33,340.82 L232.44,339.67 L232.54,338.53 L232.65,337.39 L232.75,336.24 L232.86,335.10 L232.96,333.95 L233.07,334.31 L233.17,334.66 L233.28,335.01 L233.38,335.36 L233.49,335.72 L233.59,336.07 L233.70,340.74 L233.81,345.40 L233.91,350.07 L234.02,354.73 L234.12,350.07 L234.23,345.40 L234.33,340.74 L234.44,336.07 L234.54,335.95 L234.65,335.83 L234.75,335.71 L234.86,335.59 L234.96,335.47 L235.05,335.38 L235.07,335.49 L235.17,336.02 L235.28,336.55 L235.38,337.08 L235.49,337.61 L235.59,338.14 L235.70,338.67 L235.81,339.20 L235.91,339.74 L236.02,340.27 L236.12,340.80 L236.18,341.12 L236.23,340.81 L236.33,340.04 L236.44,339.27 L236.54,338.50 L236.65,337.73 L236.75,336.96 L236.86,336.19 L236.96,336.38 L237.07,336.56 L237.17,336.75 L237.28,336.93 L237.38,337.12 L237.49,337.30 L237.59,337.49 L237.70,337.67 L237.76,337.78 L237.80,337.72 L237.91,337.56 L238.02,337.41 L238.12,337.25 L238.23,337.10 L238.33,336.94 L238.44,336.79 L238.54,336.63 L238.65,336.48 L238.75,336.32 L238.86,336.16 L238.92,336.07 L238.96,336.27 L239.07,336.76 L239.17,337.26 L239.28,337.75 L239.38,338.24 L239.49,338.74 L239.59,339.23 L239.70,339.72 L239.80,340.22 L239.91,340.71 L240.02,341.21 L240.08,341.50 L240.12,341.26 L240.23,340.65 L240.33,340.04 L240.44,339.43 L240.54,338.82 L240.65,338.22 L240.75,337.61 L240.86,337.00 L240.96,336.39 L241.07,335.78 L241.17,335.17 L241.28,334.57 L241.38,334.86 L241.49,335.16 L241.59,335.46 L241.70,335.76 L241.80,336.05 L241.91,336.35 L242.01,336.65 L242.08,336.83 L242.12,336.75 L242.23,336.56 L242.33,336.38 L242.44,336.19 L242.54,336.00 L242.65,335.81 L242.75,335.63 L242.86,335.44 L242.96,335.25 L243.07,335.06 L243.17,334.87 L243.28,335.50 L243.38,336.13 L243.49,336.76 L243.59,337.39 L243.70,338.02 L243.80,338.64 L243.91,339.27 L244.01,339.90 L244.12,340.53 L244.20,341.03 L244.23,340.84 L244.33,339.89 L244.44,338.93 L244.54,337.98 L244.65,337.02 L244.75,336.07 L244.86,340.74 L244.96,345.40 L245.07,350.07 L245.17,354.73 L245.28,350.07 L245.38,345.40 L245.49,340.74 L245.59,336.07 L245.70,337.44 L245.80,338.80 L245.91,340.17 L246.01,341.53 L246.01,341.53 L246.12,340.96 L246.22,340.39 L246.33,339.82 L246.44,339.24 L246.54,338.67 L246.65,338.10 L246.75,337.53 L246.86,336.96 L246.96,336.39 L246.98,336.27 L247.07,336.71 L247.17,337.25 L247.28,337.80 L247.38,338.34 L247.49,338.89 L247.59,339.44 L247.70,339.98 L247.80,340.53 L247.91,341.07 L248.01,340.22 L248.12,339.36 L248.22,338.51 L248.33,337.66 L248.44,336.80 L248.54,335.95 L248.65,335.10 L248.75,334.24 L248.79,333.90 L248.86,334.09 L248.96,334.41 L249.07,334.73 L249.17,335.05 L249.28,335.37 L249.38,335.68 L249.49,336.00 L249.59,336.32 L249.70,336.64 L249.80,336.96 L249.87,337.15 L249.91,337.09 L250.01,336.93 L250.12,336.78 L250.22,336.62 L250.33,336.46 L250.43,336.31 L250.54,336.15 L250.65,336.00 L250.75,335.84 L250.86,335.69 L250.96,335.53 L251.07,335.37 L251.17,336.03 L251.28,336.68 L251.38,337.33 L251.49,337.98 L251.59,338.64 L251.70,339.29 L251.80,339.94 L251.91,340.59 L251.95,340.86 L252.01,340.71 L252.12,340.47 L252.22,340.24 L252.33,340.00 L252.43,339.76 L252.54,339.52 L252.65,339.29 L252.75,339.05 L252.86,338.81 L252.96,338.57 L253.07,338.33 L253.17,338.10 L253.28,337.86 L253.38,337.62 L253.49,337.38 L253.59,337.15 L253.70,336.91 L253.80,336.67 L253.91,336.43 L254.01,336.19 L254.12,335.96 L254.22,335.72 L254.33,335.48 L254.43,335.24 L254.54,335.01 L254.64,334.77 L254.65,334.77 L254.75,334.83 L254.86,334.90 L254.96,334.96 L255.07,335.03 L255.17,335.09 L255.28,335.16 L255.38,335.22 L255.49,335.29 L255.59,335.35 L255.70,335.42 L255.80,335.48 L255.91,335.55 L256.01,335.61 L256.12,335.68 L256.22,335.74 L256.33,335.81 L256.43,335.87 L256.54,335.94 L256.64,336.00 L256.75,336.07 L256.86,336.03 L256.96,335.98 L257.07,335.94 L257.17,335.90 L257.28,335.85 L257.38,335.81 L257.49,335.77 L257.59,335.72 L257.70,335.68 L257.80,335.64 L257.91,335.59 L258.01,335.55 L258.12,335.51 L258.22,335.46 L258.33,335.42 L258.43,335.38 L258.54,335.33 L258.64,335.29 L258.75,335.25 L258.85,335.20 L258.96,335.19 L259.07,335.18 L259.17,335.17 L259.28,335.16 L259.38,335.15 L259.49,335.14 L259.59,335.13 L259.70,335.12 L259.80,335.10 L259.91,335.09 L260.01,335.08 L260.12,335.07 L260.22,335.06 L260.33,335.05 L260.43,335.04 L260.54,335.03 L260.64,335.02 L260.75,335.01 L260.85,335.00 L260.96,334.98" fill="none" stroke="#008000" stroke-width="1.6" stroke-dasharray="1.5 1.3" stroke-linejoin="round" clip-path="url(#clip_q5)"/>
<rect x="50.46" y="271.10" width="210.50" height="83.10" fill="none" stroke="#767676" stroke-width="1"/>
<path d="M50.46,354.20 v-2.1 M50.46,271.10 v2.1 M92.56,354.20 v-2.1 M92.56,271.10 v2.1 M134.66,354.20 v-2.1 M134.66,271.10 v2.1 M176.76,354.20 v-2.1 M176.76,271.10 v2.1 M218.86,354.20 v-2.1 M218.86,271.10 v2.1 M260.96,354.20 v-2.1 M260.96,271.10 v2.1 M50.46,290.50 h2.1 M260.96,290.50 h-2.1 M50.46,312.20 h2.1 M260.96,312.20 h-2.1 M50.46,333.90 h2.1 M260.96,333.90 h-2.1" stroke="#767676" stroke-width="1" fill="none"/>
<path d="M327.56,313.50 L328.09,311.25 L328.61,308.99 L329.14,306.74 L329.66,304.48 L330.19,302.23 L330.72,299.97 L330.93,299.07 L331.24,299.10 L331.77,299.16 L332.29,299.21 L332.82,299.27 L333.35,299.32 L333.87,299.38 L334.40,299.43 L334.50,299.44 L334.92,299.53 L335.45,299.64 L335.98,299.75 L336.50,299.86 L337.03,299.98 L337.45,300.06 L337.55,300.12 L338.08,300.40 L338.61,300.67 L339.13,300.95 L339.34,301.06 L339.66,301.37 L340.18,301.89 L340.71,302.40 L341.24,302.92 L341.76,303.43 L342.29,303.95 L342.81,304.47 L343.34,304.98 L343.87,305.50 L343.97,305.60 L344.39,305.76 L344.92,305.96 L345.44,306.15 L345.97,306.35 L346.29,306.47 L346.50,306.66 L347.02,307.15 L347.55,307.63 L348.07,308.12 L348.18,308.21 L348.60,308.86 L349.13,309.68 L349.65,310.49 L350.18,311.30 L350.70,312.11 L351.23,312.93 L351.76,313.74 L352.28,314.55 L352.81,315.37 L352.81,315.37 L353.33,316.09 L353.86,316.82 L354.39,317.54 L354.91,318.27 L355.44,318.99 L355.96,319.72 L356.49,320.79 L357.02,321.86 L357.54,322.93 L358.07,324.00 L358.59,325.07 L359.12,326.13 L359.33,326.56 L359.65,326.96 L360.17,327.61 L360.70,328.27 L361.22,328.93 L361.75,329.59 L362.07,329.98 L362.28,330.29 L362.80,331.07 L363.33,331.85 L363.85,332.63 L364.38,333.40 L364.80,334.03 L364.91,334.29 L365.43,335.60 L365.96,336.92 L366.48,338.24 L367.01,339.55 L367.54,340.87 L367.54,340.87 L368.06,340.15 L368.59,339.43 L369.11,338.71 L369.64,338.00 L370.17,337.28 L370.27,337.14 L370.69,337.27 L371.22,337.45 L371.74,337.62 L372.16,337.76 L372.27,337.95 L372.80,338.92 L373.32,339.90 L373.85,340.87 L374.37,341.19 L374.90,341.50 L375.43,341.82 L375.95,342.14 L376.48,342.46 L377.00,342.78 L377.53,343.09 L378.06,343.41 L378.48,343.67 L378.58,343.69 L379.11,343.83 L379.63,343.97 L380.16,344.11 L380.69,344.24 L381.21,344.38 L381.74,344.52 L382.05,344.60 L382.26,344.60 L382.79,344.60 L383.11,344.60 L383.32,347.40 L383.53,350.20 L383.84,347.40 L384.16,344.60 L384.37,343.98 L384.79,342.73 L384.89,342.66 L385.42,342.30 L385.95,341.94 L386.47,341.59 L387.00,341.23 L387.52,340.87 L388.05,339.49 L388.58,338.10 L389.10,336.72 L389.42,335.89 L389.63,335.89 L390.15,335.89 L390.36,335.89 L390.68,352.06 L391.10,336.51 L391.21,336.38 L391.73,335.68 L392.26,334.99 L392.78,334.30 L392.99,334.03 L393.31,333.60 L393.84,332.88 L394.36,332.16 L394.89,331.44 L395.41,330.72 L395.73,330.29 L395.94,330.24 L396.47,330.10 L396.99,329.95 L397.52,329.81 L398.04,329.67 L398.57,329.53 L399.10,329.39 L399.62,329.25 L400.15,329.11 L400.36,329.05 L400.67,329.63 L401.20,330.61 L401.73,331.58 L402.04,332.16 L402.25,331.61 L402.78,330.23 L403.30,328.86 L403.83,327.48 L404.36,326.11 L404.78,325.01 L404.88,324.93 L405.41,324.57 L405.93,324.20 L406.46,323.83 L406.99,323.46 L407.51,323.10 L408.04,322.73 L408.56,322.36 L409.09,321.99 L409.41,321.77 L409.62,321.61 L410.14,321.20 L410.67,320.79 L411.19,320.38 L411.72,319.97 L412.25,319.69 L412.77,319.42 L413.30,319.15 L413.82,318.87 L414.35,318.60 L414.88,318.32 L415.40,318.05 L415.93,317.78 L416.14,317.67 L416.45,317.46 L416.98,317.12 L417.51,316.77 L418.03,316.43 L418.56,316.09 L419.08,315.74 L419.61,315.40 L420.14,315.06 L420.66,314.68 L421.19,314.30 L421.71,313.92 L422.24,313.55 L422.77,313.17 L423.29,312.79 L423.82,312.42 L424.34,312.04 L424.87,311.66 L425.40,311.29 L425.92,310.91 L426.45,310.53 L426.97,310.15 L427.08,310.08 L427.50,309.49 L428.03,308.76 L428.55,308.03 L428.55,308.03 L429.08,307.50 L429.60,306.97 L430.13,306.44 L430.66,305.91 L431.18,305.38 L431.71,304.85 L432.23,304.33 L432.76,303.80 L433.29,303.27 L433.81,302.74 L434.34,302.21 L434.86,301.68 L434.86,301.68 L435.39,300.79 L435.92,299.90 L436.44,299.02 L436.97,298.13 L437.49,297.24 L437.81,296.71 L438.02,296.28 L438.55,295.21 L439.07,294.12 L439.60,292.23 L440.12,291.24 L440.65,291.25 L441.18,289.86 L441.70,289.46 L442.23,289.01 L442.75,287.73 L443.28,287.53 L443.81,286.44 L444.33,287.46 L444.86,284.74 L445.38,285.18 L445.59,284.89 L445.91,283.89 L446.44,283.44 L446.96,282.64 L447.49,281.16 L448.01,279.97 L448.33,279.91 L448.54,279.79 L449.07,279.14 L449.59,277.99 L450.12,278.34 L450.43,277.42 L450.64,278.47 L451.17,277.54 L451.70,278.46 L452.22,279.50 L452.33,278.36 L452.75,279.46 L453.27,279.99 L453.80,281.18 L454.33,282.11 L454.85,281.90 L455.38,282.11 L455.90,283.56 L456.43,284.62 L456.96,284.66 L457.17,285.20 L457.48,285.45 L458.01,287.25 L458.53,287.89 L459.06,288.75 L459.59,290.69 L460.11,291.73 L460.11,292.24 L460.64,292.93 L461.16,294.40 L461.69,295.29 L462.22,297.38 L462.43,297.95 L462.74,298.53 L463.27,299.50 L463.79,300.48 L464.32,301.45 L464.85,302.42 L465.37,303.39 L465.90,304.36 L466.42,305.34 L466.63,305.73 L466.95,306.17 L467.48,306.92 L468.00,307.67 L468.53,308.42 L469.05,309.17 L469.58,309.92 L470.11,310.67 L470.63,311.42 L471.16,312.16 L471.68,312.91 L472.21,313.66 L472.32,313.81 L472.74,314.29 L473.26,314.89 L473.79,315.49 L474.31,316.09 L474.84,316.69 L475.37,317.62 L475.89,318.06 L476.42,318.71 L476.94,319.10 L476.94,319.53 L477.47,319.48 L478.00,319.79 L478.52,320.52 L479.05,320.40 L479.57,320.95 L480.10,321.41 L480.52,321.90 L480.63,321.85 L481.15,321.98 L481.68,322.82 L482.20,322.61 L482.73,322.88 L483.26,323.74 L483.78,323.49 L484.31,323.91 L484.83,323.92 L485.36,324.38 L485.89,324.56 L486.41,324.53 L486.94,324.51 L487.46,324.89 L487.99,324.59 L488.52,324.84 L489.04,324.76 L489.57,325.08 L489.99,325.01 L490.09,324.71 L490.62,324.69 L491.15,324.75 L491.67,324.42 L492.20,324.13 L492.72,323.86 L493.25,324.56 L493.78,323.81 L494.30,323.78 L494.83,323.76 L495.35,323.79 L495.88,323.76 L496.30,329.05 L496.41,327.91 L496.93,322.21 L497.46,322.06 L497.98,321.91 L498.51,321.77 L499.04,321.62 L499.56,321.47 L500.09,321.33 L500.61,321.18 L500.72,321.15 L501.14,320.94 L501.67,320.68 L502.19,320.41 L502.72,320.15 L503.24,319.88 L503.77,319.62 L504.30,319.36 L504.82,319.09 L505.35,318.83 L505.87,318.57 L506.40,318.30 L506.93,318.04 L507.45,317.77 L507.98,317.51 L508.50,317.25 L509.03,316.98 L509.56,316.72 L510.08,316.46 L510.61,316.19 L511.13,315.93 L511.66,315.66 L512.19,315.40 L512.50,315.24 L512.71,315.15 L513.24,314.91 L513.76,314.68 L514.29,314.44 L514.82,314.20 L515.34,313.97 L515.87,313.73 L516.39,313.50 L516.92,313.26 L517.45,313.02 L517.97,312.79 L518.50,312.55 L519.02,312.31 L519.55,312.08 L520.08,311.84 L520.60,311.61 L521.13,311.37 L521.65,311.13 L522.18,310.90 L522.71,310.66 L523.23,310.43 L523.76,310.19 L524.28,309.95 L524.81,309.72 L525.34,309.48 L525.86,309.25 L526.39,309.01 L526.91,308.77 L527.44,308.54 L527.97,308.30 L528.49,308.07 L529.02,307.83 L529.54,307.59 L530.07,307.36 L530.60,307.12 L531.12,306.89 L531.65,306.65 L532.17,306.41 L532.70,306.18 L533.23,305.94 L533.75,305.71 L534.28,305.47 L534.80,305.23 L535.33,305.00 L535.86,304.76 L536.07,304.67 L536.38,304.56 L536.91,304.39 L537.43,304.22 L537.96,304.05" fill="none" stroke="#ff0000" stroke-width="2.0" stroke-linejoin="round" clip-path="url(#clip_q6)"/>
<path d="M327.56,313.50 L328.09,313.50 L328.61,313.50 L329.14,313.50 L329.66,313.50 L330.19,313.50 L330.72,313.50 L331.24,313.50 L331.77,313.50 L332.29,313.50 L332.82,313.50 L333.35,313.50 L333.66,313.50 L333.87,312.60 L334.40,310.37 L334.92,308.13 L335.45,305.89 L335.98,303.65 L336.50,301.41 L336.82,300.06 L337.03,299.07 L337.55,296.58 L338.08,294.09 L338.61,291.61 L339.13,289.12 L339.66,286.63 L339.76,286.13 L340.18,285.03 L340.71,283.64 L341.24,282.26 L341.66,281.16 L341.76,281.69 L342.29,284.38 L342.81,287.06 L343.34,289.75 L343.87,292.44 L343.97,292.97 L344.39,294.22 L344.92,295.77 L345.44,297.33 L345.97,298.88 L346.50,300.44 L347.02,301.99 L347.55,303.55 L347.55,303.55 L348.07,304.65 L348.60,305.74 L349.13,306.84 L349.65,307.94 L350.18,309.04 L350.70,310.13 L351.12,311.01 L351.23,311.20 L351.76,312.15 L352.28,313.09 L352.81,314.04 L353.33,314.99 L353.86,315.93 L354.39,316.88 L354.91,317.83 L355.44,318.77 L355.96,319.72 L356.49,320.45 L357.02,321.17 L357.54,321.90 L358.07,322.62 L358.59,323.35 L359.12,324.07 L359.65,324.55 L360.17,325.03 L360.70,325.51 L361.22,325.98 L361.75,326.47 L362.07,326.75 L362.28,325.80 L362.80,326.71 L363.33,327.29 L363.85,326.85 L364.38,330.57 L364.80,329.67 L364.91,330.66 L365.43,332.87 L365.96,332.95 L366.48,333.15 L367.01,335.73 L367.54,337.14 L367.54,336.58 L368.06,340.53 L368.59,339.48 L369.11,341.92 L369.64,340.17 L370.17,342.42 L370.27,343.67 L370.69,341.98 L371.22,342.33 L371.74,340.80 L372.27,339.98 L372.80,340.32 L373.01,339.62 L373.32,340.25 L373.85,339.94 L374.37,340.61 L374.90,340.72 L375.43,340.49 L375.74,340.25 L375.95,341.16 L376.48,339.72 L377.00,342.61 L377.53,340.14 L378.06,342.00 L378.48,341.49 L378.58,342.08 L379.11,342.86 L379.63,341.39 L380.16,341.38 L380.69,340.77 L381.21,340.87 L381.21,341.47 L381.74,341.60 L382.26,340.51 L382.79,342.92 L383.32,344.86 L383.84,343.99 L383.95,345.22 L384.37,344.79 L384.89,343.27 L385.42,342.53 L385.95,342.93 L386.47,343.94 L386.68,341.49 L387.00,341.95 L387.52,341.06 L388.05,342.23 L388.58,341.43 L389.10,340.94 L389.42,342.11 L389.63,342.39 L390.15,339.56 L390.68,338.29 L391.21,338.06 L391.73,337.12 L392.15,337.76 L392.26,336.22 L392.78,333.37 L393.31,334.13 L393.84,332.78 L394.26,331.54 L394.36,330.81 L394.89,332.22 L395.41,332.65 L395.94,331.62 L396.47,329.93 L396.99,329.54 L397.52,331.51 L398.04,331.61 L398.57,329.57 L398.89,329.05 L399.10,329.12 L399.62,328.60 L400.15,327.44 L400.67,326.45 L401.20,327.21 L401.62,327.18 L401.73,326.45 L402.25,328.12 L402.78,327.97 L403.30,326.15 L403.83,325.44 L404.36,325.94 L404.36,325.13 L404.88,324.62 L405.41,323.76 L405.93,323.07 L406.46,325.29 L406.99,323.50 L407.51,322.02 L407.51,321.51 L408.04,321.07 L408.56,323.14 L409.09,319.85 L409.62,321.36 L410.14,320.84 L410.67,319.99 L411.19,319.17 L411.72,319.72 L412.25,320.19 L412.77,318.74 L413.30,318.95 L413.82,319.13 L414.35,318.64 L414.88,319.34 L415.40,318.33 L415.93,317.67 L416.14,317.67 L416.45,317.81 L416.98,317.28 L417.51,316.85 L418.03,316.41 L418.56,315.58 L419.08,315.75 L419.61,315.53 L420.14,315.06 L420.66,314.41 L421.19,313.27 L421.71,314.09 L422.24,313.29 L422.77,313.96 L423.29,312.12 L423.82,312.09 L424.34,311.38 L424.87,311.69 L425.40,311.80 L425.92,310.47 L426.45,310.16 L426.97,310.59 L427.08,310.08 L427.50,310.23 L428.03,308.54 L428.55,308.03 L428.55,308.11 L429.08,306.20 L429.60,307.27 L430.13,306.70 L430.66,305.97 L431.18,306.21 L431.71,305.30 L432.23,303.51 L432.76,303.86 L433.29,303.57 L433.81,303.37 L434.34,301.92 L434.86,301.68 L434.86,301.35 L435.39,300.55 L435.92,299.88 L436.44,298.53 L436.97,297.68 L437.49,296.38 L437.81,296.08 L438.02,296.19 L438.55,294.02 L439.07,295.11 L439.60,293.33 L440.12,291.41 L440.65,290.14 L441.18,288.93 L441.70,289.28 L442.23,287.48 L442.75,286.30 L443.28,286.20 L443.81,285.79 L444.33,284.71 L444.86,284.46 L445.38,285.12 L445.59,283.95 L445.91,283.47 L446.44,281.19 L446.96,282.08 L447.49,280.03 L448.01,279.32 L448.33,278.36 L448.54,278.87 L449.07,278.41 L449.59,276.97 L450.12,276.25 L450.43,276.18 L450.64,275.85 L451.17,277.08 L451.70,275.96 L452.22,275.26 L452.75,274.58 L453.27,274.62 L453.38,275.12 L453.80,274.95 L454.33,275.36 L454.85,276.20 L455.38,278.15 L455.90,278.06 L456.11,278.36 L456.43,279.58 L456.96,282.01 L457.48,282.52 L458.01,280.54 L458.53,284.21 L458.85,283.95 L459.06,286.52 L459.59,287.05 L460.11,287.23 L460.64,290.37 L461.16,291.88 L461.69,294.30 L462.22,296.02 L462.43,296.71 L462.74,296.31 L463.27,297.74 L463.79,299.50 L464.32,299.76 L464.85,300.67 L465.37,302.76 L465.90,303.42 L466.42,304.59 L466.63,305.10 L466.95,305.82 L467.48,305.92 L468.00,307.19 L468.53,308.13 L469.05,309.30 L469.58,309.93 L470.11,309.67 L470.63,311.44 L471.16,311.63 L471.68,312.70 L472.21,313.15 L472.32,313.50 L472.74,313.76 L473.26,314.88 L473.79,315.31 L474.31,315.77 L474.84,316.37 L475.37,317.04 L475.89,317.75 L476.42,318.01 L476.94,318.85 L476.94,318.36 L477.47,319.08 L478.00,319.99 L478.52,319.99 L479.05,320.55 L479.57,320.83 L480.10,320.74 L480.52,321.77 L480.63,321.90 L481.15,322.09 L481.68,322.67 L482.20,322.70 L482.73,323.06 L483.26,322.51 L483.78,323.25 L484.31,323.84 L484.83,323.16 L485.36,324.14 L485.89,324.70 L486.41,323.96 L486.94,323.97 L487.46,324.20 L487.99,324.59 L488.52,324.61 L489.04,324.76 L489.57,324.41 L489.99,324.76 L490.09,325.60 L490.62,324.79 L491.15,324.42 L491.67,324.56 L492.20,324.90 L492.72,324.18 L493.25,324.24 L493.78,323.53 L494.30,323.18 L494.83,323.58 L495.35,323.33 L495.88,323.87 L496.41,323.00 L496.93,323.05 L497.46,322.24 L497.98,321.65 L498.51,321.94 L499.04,321.08 L499.56,321.06 L500.09,321.15 L500.61,321.51 L500.72,321.15 L501.14,320.86 L501.67,321.18 L502.19,319.98 L502.72,320.06 L503.24,319.33 L503.77,319.46 L504.30,320.03 L504.82,318.80 L505.35,318.43 L505.87,317.89 L506.40,318.61 L506.93,318.33 L507.45,317.69 L507.98,317.85 L508.50,317.71 L509.03,317.34 L509.56,315.70 L510.08,316.64 L510.61,316.52 L511.13,316.05 L511.66,315.62 L512.19,314.88 L512.50,315.24 L512.71,314.76 L513.24,314.58 L513.76,314.62 L514.29,314.34 L514.82,314.40 L515.34,314.49 L515.87,312.93 L516.39,313.63 L516.92,312.84 L517.45,313.10 L517.97,312.78 L518.50,312.57 L519.02,312.79 L519.55,312.07 L520.08,311.67 L520.60,311.26 L521.13,311.15 L521.65,310.72 L522.18,310.75 L522.71,310.63 L523.23,311.13 L523.76,310.36 L524.28,309.95 L524.81,309.11 L525.34,309.41 L525.86,308.92 L526.39,309.06 L526.91,308.99 L527.44,307.74 L527.97,308.14 L528.49,307.48 L529.02,307.60 L529.54,307.67 L530.07,308.16 L530.60,307.06 L531.12,307.44 L531.65,307.45 L532.17,305.92 L532.70,305.88 L533.23,305.67 L533.75,305.66 L534.28,305.45 L534.80,305.05 L535.33,304.91 L535.86,304.71 L536.07,304.67 L536.38,304.26 L536.91,305.28 L537.43,303.86 L537.96,304.05" fill="none" stroke="#0000ff" stroke-width="2.0" stroke-dasharray="8 7" stroke-linejoin="round" clip-path="url(#clip_q6)"/>
<path d="M327.56,313.50 L328.09,313.50 L328.61,313.50 L329.14,313.50 L329.66,313.50 L330.19,313.50 L330.72,313.50 L331.24,313.50 L331.77,313.50 L332.29,313.50 L332.82,313.50 L333.35,313.50 L333.66,313.50 L333.87,312.60 L334.40,310.37 L334.92,308.13 L335.45,305.89 L335.98,303.65 L336.50,301.41 L336.82,300.06 L337.03,299.14 L337.55,296.81 L338.08,294.49 L338.61,292.17 L339.13,289.85 L339.66,287.53 L339.76,287.06 L340.18,286.18 L340.71,285.08 L341.24,283.98 L341.76,282.88 L342.29,281.78 L342.29,281.78 L342.81,283.47 L343.34,285.17 L343.87,286.87 L344.39,288.56 L344.60,289.24 L344.92,290.39 L345.44,292.32 L345.97,294.24 L346.50,296.16 L347.02,298.08 L347.55,300.00 L348.07,301.92 L348.18,302.30 L348.60,303.27 L349.13,304.47 L349.65,305.67 L350.18,306.87 L350.70,308.07 L351.23,309.27 L351.76,310.47 L352.28,311.68 L352.81,312.88 L352.81,312.88 L353.33,313.89 L353.86,314.90 L354.39,315.91 L354.91,316.92 L355.44,317.93 L355.96,318.94 L356.49,319.95 L357.02,320.96 L357.02,320.96 L357.54,321.57 L358.07,322.17 L358.59,322.77 L359.12,323.37 L359.65,323.98 L360.17,324.58 L360.70,325.18 L361.22,325.78 L361.75,324.34 L362.07,326.75 L362.28,330.42 L362.80,326.46 L363.33,328.02 L363.85,327.18 L364.38,328.79 L364.80,329.67 L364.91,327.91 L365.43,331.36 L365.96,333.41 L366.48,333.62 L367.01,335.22 L367.54,337.14 L367.54,337.54 L368.06,338.67 L368.59,338.84 L369.11,340.12 L369.64,342.71 L370.17,343.83 L370.27,343.67 L370.69,345.07 L371.22,340.39 L371.74,341.74 L372.27,339.22 L372.80,339.47 L373.01,339.62 L373.32,337.52 L373.85,338.09 L374.37,339.58 L374.90,338.40 L375.43,341.24 L375.74,340.25 L375.95,338.93 L376.48,342.24 L377.00,340.44 L377.53,339.87 L378.06,341.05 L378.48,341.49 L378.58,341.88 L379.11,342.25 L379.63,341.61 L380.16,339.93 L380.69,339.99 L381.21,340.87 L381.21,341.16 L381.74,343.10 L382.26,341.79 L382.79,345.00 L383.32,344.81 L383.84,345.88 L383.95,345.22 L384.37,343.82 L384.89,343.67 L385.42,342.70 L385.95,342.19 L386.47,342.54 L386.68,341.49 L387.00,340.96 L387.52,340.10 L388.05,341.84 L388.58,341.21 L389.10,342.18 L389.42,342.11 L389.63,340.63 L390.15,340.19 L390.68,339.12 L391.21,338.88 L391.73,336.59 L392.15,337.76 L392.26,337.85 L392.78,336.27 L393.31,335.00 L393.84,332.10 L394.26,331.54 L394.36,332.18 L394.89,331.92 L395.41,330.10 L395.94,329.33 L396.47,329.71 L396.99,333.07 L397.52,330.85 L398.04,330.70 L398.57,330.57 L398.89,329.05 L399.10,329.36 L399.62,326.51 L400.15,328.53 L400.67,328.65 L401.20,326.69 L401.62,327.18 L401.73,327.06 L402.25,326.76 L402.78,327.43 L403.30,326.42 L403.83,325.69 L404.36,325.94 L404.36,328.08 L404.88,327.09 L405.41,323.42 L405.93,323.04 L406.46,323.89 L406.99,323.82 L407.51,322.02 L407.51,322.23 L408.04,323.07 L408.56,321.83 L409.09,319.31 L409.62,320.72 L410.14,319.28 L410.67,320.54 L411.19,319.59 L411.72,319.72 L412.25,318.79 L412.77,319.90 L413.30,319.16 L413.82,318.82 L414.35,318.36 L414.88,317.48 L415.40,317.67 L415.93,318.51 L416.14,317.67 L416.45,317.60 L416.98,317.56 L417.51,317.23 L418.03,315.42 L418.56,316.62 L419.08,315.62 L419.61,315.75 L420.14,315.06 L420.66,314.25 L421.19,314.13 L421.71,313.86 L422.24,313.59 L422.77,312.60 L423.29,313.26 L423.82,312.78 L424.34,312.59 L424.87,311.00 L425.40,311.43 L425.92,311.42 L426.45,310.74 L426.97,308.91 L427.08,310.08 L427.50,309.55 L428.03,308.34 L428.55,308.03 L428.55,307.79 L429.08,307.50 L429.60,307.31 L430.13,306.61 L430.66,306.09 L431.18,306.48 L431.71,303.57 L432.23,303.87 L432.76,303.74 L433.29,303.37 L433.81,303.13 L434.34,301.74 L434.86,301.68 L434.86,301.77 L435.39,300.44 L435.92,300.37 L436.44,298.49 L436.97,297.68 L437.49,295.07 L437.81,296.08 L438.02,295.87 L438.55,293.87 L439.07,293.37 L439.60,291.39 L440.12,290.30 L440.65,290.00 L441.18,288.93 L441.70,288.79 L442.23,287.51 L442.75,287.12 L443.28,287.06 L443.81,285.60 L444.33,285.03 L444.86,285.50 L445.38,284.28 L445.59,283.95 L445.91,280.95 L446.44,281.57 L446.96,281.08 L447.49,278.05 L448.01,279.37 L448.33,278.36 L448.54,280.14 L449.07,279.14 L449.59,278.28 L450.12,276.30 L450.43,276.18 L450.64,275.31 L451.17,277.67 L451.70,274.82 L452.22,276.53 L452.75,275.14 L453.27,274.79 L453.38,275.12 L453.80,275.27 L454.33,276.24 L454.85,276.73 L455.38,278.41 L455.90,277.88 L456.11,278.36 L456.43,278.21 L456.96,279.33 L457.48,279.04 L458.01,281.36 L458.53,282.72 L458.85,283.95 L459.06,283.36 L459.59,286.39 L460.11,289.50 L460.64,292.14 L461.16,291.17 L461.69,293.62 L462.22,295.27 L462.43,296.71 L462.74,297.60 L463.27,298.11 L463.79,297.91 L464.32,300.21 L464.85,302.44 L465.37,302.93 L465.90,302.51 L466.42,305.09 L466.63,305.10 L466.95,306.53 L467.48,307.20 L468.00,307.62 L468.53,307.60 L469.05,308.65 L469.58,309.74 L470.11,310.71 L470.63,311.05 L471.16,311.85 L471.68,312.78 L472.21,313.44 L472.32,313.50 L472.74,314.27 L473.26,313.92 L473.79,316.09 L474.31,315.76 L474.84,316.80 L475.37,316.76 L475.89,317.72 L476.42,318.10 L476.94,318.85 L476.94,318.65 L477.47,319.20 L478.00,319.34 L478.52,320.66 L479.05,320.21 L479.57,321.08 L480.10,321.29 L480.52,321.77 L480.63,321.24 L481.15,321.66 L481.68,321.60 L482.20,323.43 L482.73,323.21 L483.26,322.75 L483.78,323.79 L484.31,323.69 L484.83,323.24 L485.36,324.14 L485.89,323.88 L486.41,324.64 L486.94,324.18 L487.46,324.18 L487.99,324.46 L488.52,324.60 L489.04,324.58 L489.57,325.26 L489.99,324.76 L490.09,324.69 L490.62,324.96 L491.15,324.33 L491.67,324.19 L492.20,324.55 L492.72,323.86 L493.25,323.83 L493.78,323.85 L494.30,323.43 L494.83,323.58 L495.35,323.48 L495.88,323.25 L496.41,322.90 L496.93,322.73 L497.46,322.07 L497.98,323.16 L498.51,322.18 L499.04,322.60 L499.56,321.82 L500.09,321.32 L500.61,321.20 L500.72,321.15 L501.14,320.59 L501.67,320.57 L502.19,321.45 L502.72,320.58 L503.24,319.32 L503.77,319.05 L504.30,319.34 L504.82,319.69 L505.35,318.04 L505.87,319.37 L506.40,318.21 L506.93,318.08 L507.45,317.71 L507.98,317.97 L508.50,317.42 L509.03,316.61 L509.56,316.93 L510.08,317.00 L510.61,316.23 L511.13,315.93 L511.66,315.75 L512.19,315.73 L512.50,315.24 L512.71,314.98 L513.24,314.99 L513.76,315.15 L514.29,314.39 L514.82,314.25 L515.34,313.95 L515.87,314.40 L516.39,313.82 L516.92,313.12 L517.45,312.71 L517.97,312.69 L518.50,312.52 L519.02,312.07 L519.55,311.74 L520.08,311.21 L520.60,311.45 L521.13,311.60 L521.65,310.97 L522.18,311.64 L522.71,310.66 L523.23,310.60 L523.76,310.21 L524.28,309.95 L524.81,309.54 L525.34,309.47 L525.86,309.80 L526.39,309.15 L526.91,309.08 L527.44,308.55 L527.97,308.17 L528.49,308.43 L529.02,307.56 L529.54,307.11 L530.07,307.46 L530.60,306.85 L531.12,307.44 L531.65,306.85 L532.17,306.06 L532.70,306.84 L533.23,306.13 L533.75,306.04 L534.28,305.04 L534.80,304.81 L535.33,305.23 L535.86,304.72 L536.07,304.67 L536.38,305.54 L536.91,304.08 L537.43,304.09 L537.96,304.05" fill="none" stroke="#ff00ff" stroke-width="1.6" stroke-dasharray="5.2 2.2 2.2 2.2" stroke-linejoin="round" clip-path="url(#clip_q6)"/>
<path d="M327.56,313.50 L328.09,313.50 L328.61,313.50 L329.14,313.50 L329.66,313.50 L330.19,313.50 L330.72,313.50 L331.24,313.50 L331.77,313.50 L331.98,313.50 L332.29,313.02 L332.82,312.23 L333.35,311.43 L333.87,310.64 L333.87,310.64 L334.40,308.19 L334.92,305.74 L335.45,303.29 L335.98,300.84 L336.40,298.88 L336.50,298.50 L337.03,296.60 L337.55,294.70 L338.08,292.81 L338.61,290.91 L339.13,289.01 L339.34,288.25 L339.66,286.79 L340.18,284.35 L340.71,281.92 L341.24,279.49 L341.76,277.06 L342.29,274.62 L342.29,274.62 L342.81,274.31 L343.34,274.00 L343.87,276.42 L344.39,278.84 L344.92,281.25 L345.44,283.67 L345.65,284.64 L345.97,286.17 L346.50,288.71 L347.02,291.25 L347.55,293.80 L348.07,296.34 L348.60,298.88 L349.13,300.94 L349.65,303.00 L350.18,305.06 L350.70,307.12 L351.23,309.17 L351.76,311.23 L352.18,312.88 L352.28,313.25 L352.81,315.10 L353.33,316.96 L353.86,318.81 L354.39,320.67 L354.91,322.52 L355.12,323.27 L355.44,324.62 L355.96,326.89 L356.49,329.15 L357.02,331.42 L357.54,333.68 L358.07,335.95 L358.49,337.76 L358.59,338.00 L359.12,339.22 L359.65,340.45 L359.96,341.18 L360.17,340.90 L360.70,340.21 L361.22,339.51 L361.75,338.82 L362.28,338.12 L362.80,337.43 L363.12,337.01 L363.33,337.28 L363.85,337.93 L364.38,338.59 L364.91,339.25 L365.43,339.91 L365.96,340.57 L366.48,341.23 L366.69,341.49 L367.01,342.01 L367.54,342.87 L368.06,343.74 L368.59,344.60 L369.11,345.46 L369.64,346.33 L370.17,347.19 L370.48,347.71 L370.69,347.19 L371.22,345.90 L371.74,344.60 L372.27,342.66 L372.80,342.92 L373.01,341.49 L373.32,342.89 L373.85,344.03 L374.37,341.51 L374.90,339.90 L375.43,340.91 L375.74,340.87 L375.95,340.49 L376.48,340.25 L377.00,342.27 L377.53,339.21 L378.06,342.74 L378.48,342.11 L378.58,341.74 L379.11,339.41 L379.63,341.96 L380.16,341.62 L380.69,342.09 L381.21,341.49 L381.21,341.18 L381.74,344.07 L382.26,343.29 L382.79,341.70 L383.32,343.69 L383.84,344.70 L383.95,344.60 L384.37,343.87 L384.89,343.35 L385.42,343.12 L385.95,342.24 L386.47,343.85 L386.68,342.11 L387.00,341.63 L387.52,342.93 L388.05,341.69 L388.58,342.56 L389.10,343.59 L389.42,342.73 L389.63,342.37 L390.15,342.17 L390.68,339.21 L391.21,339.10 L391.73,337.20 L392.15,337.14 L392.26,337.96 L392.78,334.33 L393.31,335.05 L393.84,332.42 L394.36,331.82 L394.89,331.54 L395.41,332.32 L395.94,330.75 L396.47,331.31 L396.99,330.17 L397.52,328.97 L398.04,329.42 L398.57,328.82 L398.89,329.67 L399.10,330.62 L399.62,328.98 L400.15,328.48 L400.67,327.44 L401.20,328.67 L401.62,327.81 L401.73,327.20 L402.25,326.97 L402.78,328.44 L403.30,327.63 L403.83,325.88 L404.36,325.94 L404.36,327.04 L404.88,326.57 L405.41,324.07 L405.93,324.12 L406.46,324.09 L406.99,323.25 L407.51,323.21 L408.04,322.81 L408.14,322.21 L408.56,322.35 L409.09,321.19 L409.62,319.95 L410.14,321.26 L410.67,320.52 L411.19,320.29 L411.72,319.72 L412.25,319.95 L412.77,319.14 L413.30,318.66 L413.82,319.06 L414.35,318.19 L414.88,318.47 L415.40,317.58 L415.93,317.31 L416.14,317.67 L416.45,317.60 L416.98,317.86 L417.51,316.90 L418.03,316.95 L418.56,316.58 L419.08,315.84 L419.61,314.89 L420.14,315.06 L420.66,314.71 L421.19,314.38 L421.71,314.61 L422.24,313.77 L422.77,313.69 L423.29,312.60 L423.82,312.61 L424.34,312.06 L424.87,311.67 L425.40,311.36 L425.92,310.55 L426.45,310.35 L426.97,310.27 L427.08,310.08 L427.50,309.44 L428.03,308.55 L428.55,308.03 L428.55,307.51 L429.08,307.45 L429.60,306.43 L430.13,306.66 L430.66,306.00 L431.18,305.94 L431.71,304.55 L432.23,304.71 L432.76,304.18 L433.29,302.95 L433.81,302.94 L434.34,302.49 L434.86,301.68 L434.86,301.33 L435.39,300.75 L435.92,299.34 L436.44,298.83 L436.97,297.41 L437.49,296.28 L437.81,296.08 L438.02,295.61 L438.55,293.85 L439.07,293.55 L439.60,292.36 L440.12,291.14 L440.65,289.67 L441.18,288.93 L441.70,288.45 L442.23,287.91 L442.75,287.06 L443.28,286.10 L443.81,286.12 L444.33,285.85 L444.86,284.83 L445.38,283.96 L445.59,283.95 L445.91,283.51 L446.44,282.19 L446.96,281.85 L447.49,280.07 L448.01,278.96 L448.33,278.36 L448.54,277.91 L449.07,277.48 L449.59,276.76 L450.12,276.88 L450.43,276.18 L450.64,275.86 L451.17,276.53 L451.70,275.95 L452.22,275.13 L452.75,275.03 L453.27,275.85 L453.38,275.12 L453.80,275.40 L454.33,276.40 L454.85,277.15 L455.38,277.41 L455.90,278.06 L456.11,278.36 L456.43,278.48 L456.96,280.62 L457.48,281.32 L458.01,282.29 L458.53,284.00 L458.85,283.95 L459.06,284.27 L459.59,285.92 L460.11,288.69 L460.64,290.19 L461.16,292.31 L461.69,293.98 L462.22,296.21 L462.43,296.71 L462.74,297.03 L463.27,298.82 L463.79,298.93 L464.32,300.35 L464.85,300.63 L465.37,303.20 L465.90,303.67 L466.42,305.16 L466.63,305.10 L466.95,305.62 L467.48,306.18 L468.00,307.47 L468.53,308.44 L469.05,309.33 L469.58,309.37 L470.11,309.76 L470.63,310.57 L471.16,311.78 L471.68,312.93 L472.21,313.48 L472.32,313.50 L472.74,314.55 L473.26,315.18 L473.79,314.80 L474.31,315.91 L474.84,316.30 L475.37,317.13 L475.89,317.14 L476.42,317.70 L476.94,318.85 L476.94,319.14 L477.47,319.42 L478.00,319.96 L478.52,319.65 L479.05,320.10 L479.57,321.11 L480.10,320.57 L480.52,321.77 L480.63,321.81 L481.15,322.53 L481.68,323.10 L482.20,322.65 L482.73,322.73 L483.26,323.33 L483.78,323.23 L484.31,323.18 L484.83,323.90 L485.36,324.14 L485.89,323.89 L486.41,323.66 L486.94,324.16 L487.46,324.64 L487.99,324.33 L488.52,324.36 L489.04,323.83 L489.57,324.86 L489.99,324.76 L490.09,325.31 L490.62,324.49 L491.15,324.35 L491.67,324.50 L492.20,324.01 L492.72,323.97 L493.25,323.51 L493.78,324.14 L494.30,323.97 L494.83,323.58 L495.35,323.37 L495.88,323.33 L496.41,322.45 L496.93,322.49 L497.46,322.50 L497.98,321.71 L498.51,321.87 L499.04,321.47 L499.56,321.33 L500.09,321.47 L500.61,321.25 L500.72,321.15 L501.14,320.94 L501.67,321.08 L502.19,320.54 L502.72,319.83 L503.24,319.77 L503.77,319.97 L504.30,318.47 L504.82,319.48 L505.35,318.60 L505.87,318.29 L506.40,317.82 L506.93,318.36 L507.45,317.76 L507.98,317.58 L508.50,316.82 L509.03,316.84 L509.56,316.56 L510.08,316.25 L510.61,315.45 L511.13,315.67 L511.66,315.33 L512.19,315.74 L512.50,315.24 L512.71,314.88 L513.24,315.36 L513.76,314.31 L514.29,314.37 L514.82,314.52 L515.34,314.38 L515.87,313.75 L516.39,313.43 L516.92,313.45 L517.45,313.12 L517.97,312.88 L518.50,312.72 L519.02,312.36 L519.55,311.95 L520.08,311.33 L520.60,311.34 L521.13,311.55 L521.65,310.50 L522.18,310.43 L522.71,310.72 L523.23,310.01 L523.76,310.35 L524.28,309.95 L524.81,309.96 L525.34,309.71 L525.86,308.60 L526.39,308.92 L526.91,308.62 L527.44,308.47 L527.97,308.41 L528.49,307.84 L529.02,307.53 L529.54,306.82 L530.07,307.63 L530.60,306.50 L531.12,306.59 L531.65,307.24 L532.17,306.00 L532.70,305.53 L533.23,305.48 L533.75,305.56 L534.28,305.36 L534.80,305.92 L535.33,304.83 L535.86,304.64 L536.07,304.67 L536.38,304.86 L536.91,304.27 L537.43,304.41 L537.96,304.05" fill="none" stroke="#008000" stroke-width="1.6" stroke-dasharray="1.5 1.3" stroke-linejoin="round" clip-path="url(#clip_q6)"/>
<rect x="327.56" y="271.10" width="210.40" height="83.10" fill="none" stroke="#767676" stroke-width="1"/>
<path d="M327.56,354.20 v-2.1 M327.56,271.10 v2.1 M369.64,354.20 v-2.1 M369.64,271.10 v2.1 M411.72,354.20 v-2.1 M411.72,271.10 v2.1 M453.80,354.20 v-2.1 M453.80,271.10 v2.1 M495.88,354.20 v-2.1 M495.88,271.10 v2.1 M537.96,354.20 v-2.1 M537.96,271.10 v2.1 M327.56,282.40 h2.1 M537.96,282.40 h-2.1 M327.56,313.50 h2.1 M537.96,313.50 h-2.1 M327.56,344.60 h2.1 M537.96,344.60 h-2.1" stroke="#767676" stroke-width="1" fill="none"/>
<g font-family='"Liberation Serif", "DejaVu Serif", serif' font-size="11.6" fill="#2e2e2e" stroke="#2e2e2e" stroke-width="0.18"><text x="45.46" y="47.52" text-anchor="end">0.5</text><text x="45.46" y="78.60" text-anchor="end">0</text><text x="45.46" y="109.67" text-anchor="end">-0.5</text><text x="322.56" y="39.07" text-anchor="end">0.6</text><text x="322.56" y="54.83" text-anchor="end">0.4</text><text x="322.56" y="70.59" text-anchor="end">0.2</text><text x="322.56" y="86.35" text-anchor="end">0</text><text x="322.56" y="102.11" text-anchor="end">-0.2</text><text x="322.56" y="117.87" text-anchor="end">-0.4</text><text x="45.46" y="154.85" text-anchor="end">0.5</text><text x="45.46" y="194.70" text-anchor="end">0</text><text x="45.46" y="234.55" text-anchor="end">-0.5</text><text x="322.56" y="163.65" text-anchor="end">0.2</text><text x="322.56" y="200.95" text-anchor="end">0</text><text x="322.56" y="238.25" text-anchor="end">-0.2</text><text x="45.46" y="293.75" text-anchor="end">20</text><text x="45.46" y="315.45" text-anchor="end">10</text><text x="45.46" y="337.15" text-anchor="end">0</text><text x="50.46" y="369.00" text-anchor="middle">0</text><text x="92.56" y="369.00" text-anchor="middle">2</text><text x="134.66" y="369.00" text-anchor="middle">4</text><text x="176.76" y="369.00" text-anchor="middle">6</text><text x="218.86" y="369.00" text-anchor="middle">8</text><text x="260.96" y="369.00" text-anchor="middle">10</text><text x="322.56" y="285.65" text-anchor="end">0.5</text><text x="322.56" y="316.75" text-anchor="end">0</text><text x="322.56" y="347.85" text-anchor="end">-0.5</text><text x="327.56" y="369.00" text-anchor="middle">0</text><text x="369.64" y="369.00" text-anchor="middle">2</text><text x="411.72" y="369.00" text-anchor="middle">4</text><text x="453.80" y="369.00" text-anchor="middle">6</text><text x="495.88" y="369.00" text-anchor="middle">8</text><text x="537.96" y="369.00" text-anchor="middle">10</text></g>
<g font-family='"Liberation Serif", "DejaVu Serif", serif' font-size="13.6" fill="#2e2e2e"><g transform="translate(19.20,73.62) rotate(-90)"><text x="-26.7" y="0" font-style="italic">q</text><text x="-24.4" y="0" font-style="italic">˙</text><text x="-21.3" y="2.0" font-size="9.2">1</text><text x="-10.8" y="0" textLength="36.4" lengthAdjust="spacingAndGlyphs">[rad/s]</text></g><g transform="translate(296.30,73.62) rotate(-90)"><text x="-26.7" y="0" font-style="italic">q</text><text x="-24.4" y="0" font-style="italic">˙</text><text x="-21.3" y="2.0" font-size="9.2">2</text><text x="-10.8" y="0" textLength="36.4" lengthAdjust="spacingAndGlyphs">[rad/s]</text></g><g transform="translate(19.20,193.20) rotate(-90)"><text x="-26.7" y="0" font-style="italic">q</text><text x="-24.4" y="0" font-style="italic">˙</text><text x="-21.3" y="2.0" font-size="9.2">3</text><text x="-10.8" y="0" textLength="36.4" lengthAdjust="spacingAndGlyphs">[rad/s]</text></g><g transform="translate(296.30,193.20) rotate(-90)"><text x="-26.7" y="0" font-style="italic">q</text><text x="-24.4" y="0" font-style="italic">˙</text><text x="-21.3" y="2.0" font-size="9.2">4</text><text x="-10.8" y="0" textLength="36.4" lengthAdjust="spacingAndGlyphs">[rad/s]</text></g><g transform="translate(25.90,312.65) rotate(-90)"><text x="-26.7" y="0" font-style="italic">q</text><text x="-24.4" y="0" font-style="italic">˙</text><text x="-21.3" y="2.0" font-size="9.2">5</text><text x="-10.8" y="0" textLength="36.4" lengthAdjust="spacingAndGlyphs">[rad/s]</text></g><g transform="translate(296.30,312.65) rotate(-90)"><text x="-26.7" y="0" font-style="italic">q</text><text x="-24.4" y="0" font-style="italic">˙</text><text x="-21.3" y="2.0" font-size="9.2">6</text><text x="-10.8" y="0" textLength="36.4" lengthAdjust="spacingAndGlyphs">[rad/s]</text></g></g>
<g font-family='"Liberation Serif", "DejaVu Serif", serif' font-size="13.6" fill="#2e2e2e"><text x="155.71" y="385.3" text-anchor="middle" font-size="13" textLength="45.6" lengthAdjust="spacingAndGlyphs">Time [s]</text><text x="432.76" y="385.3" text-anchor="middle" font-size="13" textLength="45.6" lengthAdjust="spacingAndGlyphs">Time [s]</text></g>
<text x="51.2" y="266.9" font-family='"Liberation Serif", "DejaVu Serif", serif' font-size="12" fill="#2e2e2e">×<tspan dx="1.5">10</tspan><tspan font-size="8.6" dy="-4.6" dx="1.2">−4</tspan></text>
<rect x="168.5" y="5.6" width="243.7" height="16.8" fill="#ffffff" stroke="#767676" stroke-width="1"/>
<path d="M171.2,14.3 H200.8" stroke="#ff0000" stroke-width="2"/>
<path d="M245.1,14.3 H275" stroke="#0000ff" stroke-width="2" stroke-dasharray="8 7.3 7.6 5.1 2 20"/>
<path d="M304.4,14.3 H333" stroke="#ff00ff" stroke-width="1.6" stroke-dasharray="5.4 1.9 2.4 1.9"/>
<path d="M359,14.3 H389.6" stroke="#008000" stroke-width="1.6" stroke-dasharray="1.5 1.3"/>
<g font-family='"Liberation Serif", "DejaVu Serif", serif' font-size="12.6" fill="#000000"><text x="203.1" y="17.2" textLength="35.4" lengthAdjust="spacingAndGlyphs">desired</text><text x="277.7" y="17.2">PID</text><text x="336.5" y="17.2">BR</text><text x="391.8" y="17.2" textLength="18.0" lengthAdjust="spacingAndGlyphs">LM</text></g>
<text x="283.1" y="414.1" text-anchor="middle" font-family='"Liberation Serif", "DejaVu Serif", serif' font-size="14.6" fill="#000000">(<tspan font-weight="bold">b</tspan>)</text>
</svg>
</body></html>
